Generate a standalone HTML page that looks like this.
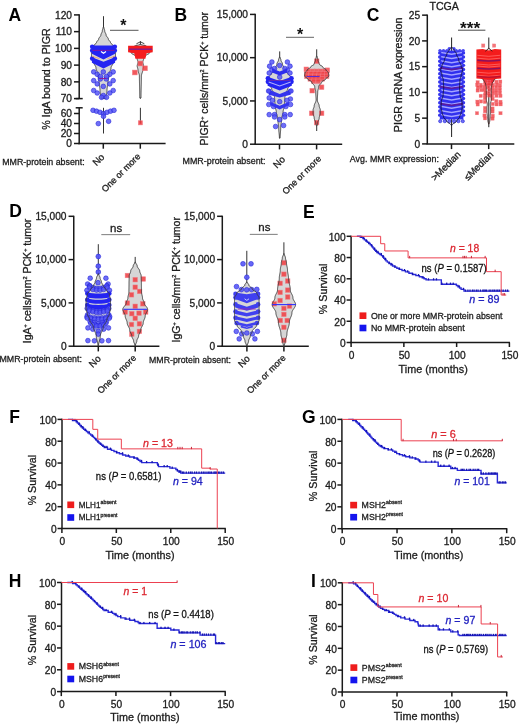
<!DOCTYPE html>
<html><head><meta charset="utf-8"><style>
html,body{margin:0;padding:0;background:#fff;}
svg{display:block;font-family:"Liberation Sans", sans-serif;will-change:transform;}
</style></head><body>
<svg xmlns="http://www.w3.org/2000/svg" width="520" height="725" viewBox="0 0 520 725">
<rect width="520" height="725" fill="#fff"/>
<g transform="translate(0.00 0.25)"><text x="8.60" y="20.80" font-size="17.5" text-anchor="start" font-weight="bold" fill="#000" stroke="#000" stroke-width="0.0">A</text></g>
<line x1="79.20" y1="14.20" x2="79.20" y2="98.60" stroke="#1a1a1a" stroke-width="1.5"/>
<line x1="75.70" y1="98.60" x2="82.70" y2="98.60" stroke="#1a1a1a" stroke-width="1.5"/>
<line x1="74.00" y1="14.90" x2="79.20" y2="14.90" stroke="#1a1a1a" stroke-width="1.5"/>
<text x="72.00" y="18.60" font-size="10.2" text-anchor="end" font-weight="normal" fill="#1c1c1c" stroke="#1c1c1c" stroke-width="0.3">120</text>
<line x1="74.00" y1="31.64" x2="79.20" y2="31.64" stroke="#1a1a1a" stroke-width="1.5"/>
<text x="72.00" y="35.34" font-size="10.2" text-anchor="end" font-weight="normal" fill="#1c1c1c" stroke="#1c1c1c" stroke-width="0.3">110</text>
<line x1="74.00" y1="48.38" x2="79.20" y2="48.38" stroke="#1a1a1a" stroke-width="1.5"/>
<text x="72.00" y="52.08" font-size="10.2" text-anchor="end" font-weight="normal" fill="#1c1c1c" stroke="#1c1c1c" stroke-width="0.3">100</text>
<line x1="74.00" y1="65.12" x2="79.20" y2="65.12" stroke="#1a1a1a" stroke-width="1.5"/>
<text x="72.00" y="68.82" font-size="10.2" text-anchor="end" font-weight="normal" fill="#1c1c1c" stroke="#1c1c1c" stroke-width="0.3">90</text>
<line x1="74.00" y1="81.86" x2="79.20" y2="81.86" stroke="#1a1a1a" stroke-width="1.5"/>
<text x="72.00" y="85.56" font-size="10.2" text-anchor="end" font-weight="normal" fill="#1c1c1c" stroke="#1c1c1c" stroke-width="0.3">80</text>
<line x1="74.00" y1="98.60" x2="79.20" y2="98.60" stroke="#1a1a1a" stroke-width="1.5"/>
<text x="72.00" y="102.30" font-size="10.2" text-anchor="end" font-weight="normal" fill="#1c1c1c" stroke="#1c1c1c" stroke-width="0.3">70</text>
<line x1="79.20" y1="107.80" x2="79.20" y2="144.20" stroke="#1a1a1a" stroke-width="1.5"/>
<line x1="75.70" y1="107.80" x2="82.70" y2="107.80" stroke="#1a1a1a" stroke-width="1.5"/>
<line x1="74.00" y1="113.50" x2="79.20" y2="113.50" stroke="#1a1a1a" stroke-width="1.5"/>
<text x="72.00" y="117.20" font-size="10.2" text-anchor="end" font-weight="normal" fill="#1c1c1c" stroke="#1c1c1c" stroke-width="0.3">60</text>
<line x1="74.00" y1="123.50" x2="79.20" y2="123.50" stroke="#1a1a1a" stroke-width="1.5"/>
<text x="72.00" y="127.20" font-size="10.2" text-anchor="end" font-weight="normal" fill="#1c1c1c" stroke="#1c1c1c" stroke-width="0.3">40</text>
<line x1="74.00" y1="133.50" x2="79.20" y2="133.50" stroke="#1a1a1a" stroke-width="1.5"/>
<text x="72.00" y="137.20" font-size="10.2" text-anchor="end" font-weight="normal" fill="#1c1c1c" stroke="#1c1c1c" stroke-width="0.3">20</text>
<line x1="74.00" y1="143.50" x2="79.20" y2="143.50" stroke="#1a1a1a" stroke-width="1.5"/>
<text x="72.00" y="147.20" font-size="10.2" text-anchor="end" font-weight="normal" fill="#1c1c1c" stroke="#1c1c1c" stroke-width="0.3">0</text>
<line x1="78.45" y1="143.50" x2="165.60" y2="143.50" stroke="#1a1a1a" stroke-width="1.5"/>
<line x1="103.30" y1="143.50" x2="103.30" y2="148.70" stroke="#1a1a1a" stroke-width="1.5"/>
<line x1="140.30" y1="143.50" x2="140.30" y2="148.70" stroke="#1a1a1a" stroke-width="1.5"/>
<g transform="translate(0.35 0.50)"><text x="49.60" y="78.50" font-size="10.9" text-anchor="middle" font-weight="normal" fill="#1c1c1c" stroke="#1c1c1c" stroke-width="0.3" transform="rotate(-90 49.60 78.50)" textLength="101.50" lengthAdjust="spacingAndGlyphs">% IgA bound to PIGR</text></g>
<g transform="translate(0.25 0.35)"><text x="2.00" y="164.20" font-size="9.6" text-anchor="start" font-weight="normal" fill="#1c1c1c" stroke="#1c1c1c" stroke-width="0.3" textLength="82.40" lengthAdjust="spacingAndGlyphs">MMR-protein absent:</text></g>
<g transform="translate(0.10 3.20)"><text x="105.00" y="154.50" font-size="9.6" text-anchor="end" font-weight="normal" fill="#1c1c1c" stroke="#1c1c1c" stroke-width="0.3" transform="rotate(-45 105.00 154.50)">No</text></g>
<g transform="translate(-0.80 2.55)"><text x="141.80" y="154.50" font-size="9.0" text-anchor="end" font-weight="normal" fill="#1c1c1c" stroke="#1c1c1c" stroke-width="0.3" transform="rotate(-45 141.80 154.50)">One or more</text></g>
<line x1="110.00" y1="30.30" x2="138.50" y2="30.30" stroke="#444" stroke-width="0.9"/>
<g transform="translate(-0.15 1.40)"><text x="123.60" y="30.00" font-size="16" text-anchor="middle" font-weight="bold" fill="#111" stroke="#111" stroke-width="0.0">*</text></g>
<line x1="103.50" y1="16.20" x2="103.50" y2="27.50" stroke="#333" stroke-width="1.0"/>
<path d="M103.80,27.00 L103.83,27.50 L103.93,28.00 L104.08,28.50 L104.25,29.00 L104.42,29.50 L104.57,30.00 L104.67,30.50 L104.70,31.00 L104.75,31.50 L104.91,32.00 L105.13,32.50 L105.40,33.00 L105.67,33.50 L105.89,34.00 L106.05,34.50 L106.10,35.00 L106.18,35.50 L106.42,36.00 L106.78,36.50 L107.20,37.00 L107.62,37.50 L107.98,38.00 L108.22,38.50 L108.30,39.00 L108.41,39.50 L108.71,40.00 L109.16,40.50 L109.64,41.00 L110.09,41.50 L110.39,42.00 L110.50,42.50 L110.67,43.00 L111.12,43.50 L111.75,44.00 L112.38,44.50 L112.83,45.00 L113.00,45.50 L113.08,46.00 L113.29,46.50 L113.62,47.00 L114.03,47.50 L114.47,48.00 L114.88,48.50 L115.21,49.00 L115.42,49.50 L115.50,50.00 L115.50,50.50 L115.50,51.00 L115.50,51.50 L115.50,52.00 L115.50,52.50 L115.50,53.00 L115.50,53.50 L115.50,54.00 L115.50,54.50 L115.50,55.00 L115.50,55.50 L115.50,56.00 L115.47,56.50 L115.37,57.00 L115.21,57.50 L115.00,58.00 L114.76,58.50 L114.50,59.00 L114.24,59.50 L114.00,60.00 L113.79,60.50 L113.63,61.00 L113.53,61.50 L113.50,62.00 L113.46,62.50 L113.33,63.00 L113.13,63.50 L112.88,64.00 L112.57,64.50 L112.25,65.00 L111.93,65.50 L111.62,66.00 L111.37,66.50 L111.17,67.00 L111.04,67.50 L111.00,68.00 L110.97,68.50 L110.89,69.00 L110.75,69.50 L110.58,70.00 L110.37,70.50 L110.15,71.00 L109.93,71.50 L109.72,72.00 L109.55,72.50 L109.41,73.00 L109.33,73.50 L109.30,74.00 L109.29,74.50 L109.25,75.00 L109.19,75.50 L109.11,76.00 L109.01,76.50 L108.90,77.00 L108.78,77.50 L108.65,78.00 L108.52,78.50 L108.40,79.00 L108.29,79.50 L108.19,80.00 L108.11,80.50 L108.05,81.00 L108.01,81.50 L108.00,82.00 L107.99,82.50 L107.96,83.00 L107.92,83.50 L107.85,84.00 L107.78,84.50 L107.69,85.00 L107.60,85.50 L107.50,86.00 L107.40,86.50 L107.31,87.00 L107.22,87.50 L107.15,88.00 L107.08,88.50 L107.04,89.00 L107.01,89.50 L107.00,90.00 L106.99,90.51 L106.97,91.01 L106.93,91.52 L106.88,92.02 L106.82,92.53 L106.75,93.04 L106.67,93.54 L106.59,94.05 L106.51,94.55 L106.43,95.06 L106.35,95.56 L106.28,96.07 L106.22,96.58 L106.17,97.08 L106.13,97.59 L106.11,98.09 L106.10,98.60 L100.90,98.60 L100.89,98.09 L100.87,97.59 L100.83,97.08 L100.78,96.58 L100.72,96.07 L100.65,95.56 L100.57,95.06 L100.49,94.55 L100.41,94.05 L100.33,93.54 L100.25,93.04 L100.18,92.53 L100.12,92.02 L100.07,91.52 L100.03,91.01 L100.01,90.51 L100.00,90.00 L99.99,89.50 L99.96,89.00 L99.92,88.50 L99.85,88.00 L99.78,87.50 L99.69,87.00 L99.60,86.50 L99.50,86.00 L99.40,85.50 L99.31,85.00 L99.22,84.50 L99.15,84.00 L99.08,83.50 L99.04,83.00 L99.01,82.50 L99.00,82.00 L98.99,81.50 L98.95,81.00 L98.89,80.50 L98.81,80.00 L98.71,79.50 L98.60,79.00 L98.48,78.50 L98.35,78.00 L98.22,77.50 L98.10,77.00 L97.99,76.50 L97.89,76.00 L97.81,75.50 L97.75,75.00 L97.71,74.50 L97.70,74.00 L97.67,73.50 L97.59,73.00 L97.45,72.50 L97.28,72.00 L97.07,71.50 L96.85,71.00 L96.63,70.50 L96.42,70.00 L96.25,69.50 L96.11,69.00 L96.03,68.50 L96.00,68.00 L95.96,67.50 L95.83,67.00 L95.63,66.50 L95.38,66.00 L95.07,65.50 L94.75,65.00 L94.43,64.50 L94.12,64.00 L93.87,63.50 L93.67,63.00 L93.54,62.50 L93.50,62.00 L93.47,61.50 L93.37,61.00 L93.21,60.50 L93.00,60.00 L92.76,59.50 L92.50,59.00 L92.24,58.50 L92.00,58.00 L91.79,57.50 L91.63,57.00 L91.53,56.50 L91.50,56.00 L91.50,55.50 L91.50,55.00 L91.50,54.50 L91.50,54.00 L91.50,53.50 L91.50,53.00 L91.50,52.50 L91.50,52.00 L91.50,51.50 L91.50,51.00 L91.50,50.50 L91.50,50.00 L91.58,49.50 L91.79,49.00 L92.12,48.50 L92.53,48.00 L92.97,47.50 L93.38,47.00 L93.71,46.50 L93.92,46.00 L94.00,45.50 L94.17,45.00 L94.62,44.50 L95.25,44.00 L95.88,43.50 L96.33,43.00 L96.50,42.50 L96.61,42.00 L96.91,41.50 L97.36,41.00 L97.84,40.50 L98.29,40.00 L98.59,39.50 L98.70,39.00 L98.78,38.50 L99.02,38.00 L99.38,37.50 L99.80,37.00 L100.22,36.50 L100.58,36.00 L100.82,35.50 L100.90,35.00 L100.95,34.50 L101.11,34.00 L101.33,33.50 L101.60,33.00 L101.87,32.50 L102.09,32.00 L102.25,31.50 L102.30,31.00 L102.33,30.50 L102.43,30.00 L102.58,29.50 L102.75,29.00 L102.92,28.50 L103.07,28.00 L103.17,27.50 L103.20,27.00 Z" fill="#d6d6d6" fill-opacity="1.0" stroke="none"/>
<path d="M103.80,27.00 L103.83,27.50 L103.93,28.00 L104.08,28.50 L104.25,29.00 L104.42,29.50 L104.57,30.00 L104.67,30.50 L104.70,31.00 L104.75,31.50 L104.91,32.00 L105.13,32.50 L105.40,33.00 L105.67,33.50 L105.89,34.00 L106.05,34.50 L106.10,35.00 L106.18,35.50 L106.42,36.00 L106.78,36.50 L107.20,37.00 L107.62,37.50 L107.98,38.00 L108.22,38.50 L108.30,39.00 L108.41,39.50 L108.71,40.00 L109.16,40.50 L109.64,41.00 L110.09,41.50 L110.39,42.00 L110.50,42.50 L110.67,43.00 L111.12,43.50 L111.75,44.00 L112.38,44.50 L112.83,45.00 L113.00,45.50 L113.08,46.00 L113.29,46.50 L113.62,47.00 L114.03,47.50 L114.47,48.00 L114.88,48.50 L115.21,49.00 L115.42,49.50 L115.50,50.00 L115.50,50.50 L115.50,51.00 L115.50,51.50 L115.50,52.00 L115.50,52.50 L115.50,53.00 L115.50,53.50 L115.50,54.00 L115.50,54.50 L115.50,55.00 L115.50,55.50 L115.50,56.00 L115.47,56.50 L115.37,57.00 L115.21,57.50 L115.00,58.00 L114.76,58.50 L114.50,59.00 L114.24,59.50 L114.00,60.00 L113.79,60.50 L113.63,61.00 L113.53,61.50 L113.50,62.00 L113.46,62.50 L113.33,63.00 L113.13,63.50 L112.88,64.00 L112.57,64.50 L112.25,65.00 L111.93,65.50 L111.62,66.00 L111.37,66.50 L111.17,67.00 L111.04,67.50 L111.00,68.00 L110.97,68.50 L110.89,69.00 L110.75,69.50 L110.58,70.00 L110.37,70.50 L110.15,71.00 L109.93,71.50 L109.72,72.00 L109.55,72.50 L109.41,73.00 L109.33,73.50 L109.30,74.00 L109.29,74.50 L109.25,75.00 L109.19,75.50 L109.11,76.00 L109.01,76.50 L108.90,77.00 L108.78,77.50 L108.65,78.00 L108.52,78.50 L108.40,79.00 L108.29,79.50 L108.19,80.00 L108.11,80.50 L108.05,81.00 L108.01,81.50 L108.00,82.00 L107.99,82.50 L107.96,83.00 L107.92,83.50 L107.85,84.00 L107.78,84.50 L107.69,85.00 L107.60,85.50 L107.50,86.00 L107.40,86.50 L107.31,87.00 L107.22,87.50 L107.15,88.00 L107.08,88.50 L107.04,89.00 L107.01,89.50 L107.00,90.00 L106.99,90.51 L106.97,91.01 L106.93,91.52 L106.88,92.02 L106.82,92.53 L106.75,93.04 L106.67,93.54 L106.59,94.05 L106.51,94.55 L106.43,95.06 L106.35,95.56 L106.28,96.07 L106.22,96.58 L106.17,97.08 L106.13,97.59 L106.11,98.09 L106.10,98.60 L100.90,98.60 L100.89,98.09 L100.87,97.59 L100.83,97.08 L100.78,96.58 L100.72,96.07 L100.65,95.56 L100.57,95.06 L100.49,94.55 L100.41,94.05 L100.33,93.54 L100.25,93.04 L100.18,92.53 L100.12,92.02 L100.07,91.52 L100.03,91.01 L100.01,90.51 L100.00,90.00 L99.99,89.50 L99.96,89.00 L99.92,88.50 L99.85,88.00 L99.78,87.50 L99.69,87.00 L99.60,86.50 L99.50,86.00 L99.40,85.50 L99.31,85.00 L99.22,84.50 L99.15,84.00 L99.08,83.50 L99.04,83.00 L99.01,82.50 L99.00,82.00 L98.99,81.50 L98.95,81.00 L98.89,80.50 L98.81,80.00 L98.71,79.50 L98.60,79.00 L98.48,78.50 L98.35,78.00 L98.22,77.50 L98.10,77.00 L97.99,76.50 L97.89,76.00 L97.81,75.50 L97.75,75.00 L97.71,74.50 L97.70,74.00 L97.67,73.50 L97.59,73.00 L97.45,72.50 L97.28,72.00 L97.07,71.50 L96.85,71.00 L96.63,70.50 L96.42,70.00 L96.25,69.50 L96.11,69.00 L96.03,68.50 L96.00,68.00 L95.96,67.50 L95.83,67.00 L95.63,66.50 L95.38,66.00 L95.07,65.50 L94.75,65.00 L94.43,64.50 L94.12,64.00 L93.87,63.50 L93.67,63.00 L93.54,62.50 L93.50,62.00 L93.47,61.50 L93.37,61.00 L93.21,60.50 L93.00,60.00 L92.76,59.50 L92.50,59.00 L92.24,58.50 L92.00,58.00 L91.79,57.50 L91.63,57.00 L91.53,56.50 L91.50,56.00 L91.50,55.50 L91.50,55.00 L91.50,54.50 L91.50,54.00 L91.50,53.50 L91.50,53.00 L91.50,52.50 L91.50,52.00 L91.50,51.50 L91.50,51.00 L91.50,50.50 L91.50,50.00 L91.58,49.50 L91.79,49.00 L92.12,48.50 L92.53,48.00 L92.97,47.50 L93.38,47.00 L93.71,46.50 L93.92,46.00 L94.00,45.50 L94.17,45.00 L94.62,44.50 L95.25,44.00 L95.88,43.50 L96.33,43.00 L96.50,42.50 L96.61,42.00 L96.91,41.50 L97.36,41.00 L97.84,40.50 L98.29,40.00 L98.59,39.50 L98.70,39.00 L98.78,38.50 L99.02,38.00 L99.38,37.50 L99.80,37.00 L100.22,36.50 L100.58,36.00 L100.82,35.50 L100.90,35.00 L100.95,34.50 L101.11,34.00 L101.33,33.50 L101.60,33.00 L101.87,32.50 L102.09,32.00 L102.25,31.50 L102.30,31.00 L102.33,30.50 L102.43,30.00 L102.58,29.50 L102.75,29.00 L102.92,28.50 L103.07,28.00 L103.17,27.50 L103.20,27.00 Z" fill="none" stroke="#3a3a3a" stroke-width="0.9"/>
<path d="M91.90,45.40 L103.50,45.40 L115.10,45.40 L115.10,53.70 L103.50,59.50 L91.90,53.70 Z" fill="#2424f2"/>
<circle cx="92.20" cy="46.78" r="2.3" fill="#2424f2"/>
<circle cx="114.80" cy="46.78" r="2.3" fill="#2424f2"/>
<circle cx="92.20" cy="50.46" r="2.3" fill="#2424f2"/>
<circle cx="114.80" cy="50.46" r="2.3" fill="#2424f2"/>
<path d="M91.90,57.20 L103.50,61.70 L115.10,57.20 L115.10,62.80 L103.50,68.60 L91.90,62.80 Z" fill="#2424f2"/>
<circle cx="92.20" cy="58.58" r="2.3" fill="#2424f2"/>
<circle cx="114.80" cy="58.58" r="2.3" fill="#2424f2"/>
<path d="M101.0,51.5 L103.5,53.3 L106.0,51.5" stroke="#fff" stroke-width="1.2" fill="none"/>
<line x1="92.50" y1="50.40" x2="114.50" y2="50.40" stroke="#7a1aa8" stroke-width="1.1"/>
<line x1="92.00" y1="56.30" x2="99.50" y2="58.60" stroke="#f0a070" stroke-width="0.9"/>
<line x1="115.00" y1="56.30" x2="107.50" y2="58.60" stroke="#f0a070" stroke-width="0.9"/>
<circle cx="93.70" cy="71.90" r="2.35" fill="#5656f6" fill-opacity="0.85" stroke="#2020d8" stroke-width="0.7" stroke-opacity="0.8"/>
<circle cx="103.30" cy="71.90" r="2.35" fill="#5656f6" fill-opacity="0.85" stroke="#2020d8" stroke-width="0.7" stroke-opacity="0.8"/>
<circle cx="113.20" cy="71.90" r="2.35" fill="#5656f6" fill-opacity="0.85" stroke="#2020d8" stroke-width="0.7" stroke-opacity="0.8"/>
<circle cx="97.20" cy="74.30" r="2.35" fill="#5656f6" fill-opacity="0.85" stroke="#2020d8" stroke-width="0.7" stroke-opacity="0.8"/>
<circle cx="109.80" cy="74.30" r="2.35" fill="#5656f6" fill-opacity="0.85" stroke="#2020d8" stroke-width="0.7" stroke-opacity="0.8"/>
<circle cx="93.70" cy="80.60" r="2.35" fill="#5656f6" fill-opacity="0.85" stroke="#2020d8" stroke-width="0.7" stroke-opacity="0.8"/>
<circle cx="113.20" cy="80.60" r="2.35" fill="#5656f6" fill-opacity="0.85" stroke="#2020d8" stroke-width="0.7" stroke-opacity="0.8"/>
<circle cx="97.20" cy="83.90" r="2.35" fill="#5656f6" fill-opacity="0.85" stroke="#2020d8" stroke-width="0.7" stroke-opacity="0.8"/>
<circle cx="109.80" cy="83.90" r="2.35" fill="#5656f6" fill-opacity="0.85" stroke="#2020d8" stroke-width="0.7" stroke-opacity="0.8"/>
<circle cx="103.30" cy="86.40" r="2.35" fill="#5656f6" fill-opacity="0.85" stroke="#2020d8" stroke-width="0.7" stroke-opacity="0.8"/>
<circle cx="100.30" cy="79.00" r="2.35" fill="#5656f6" fill-opacity="0.85" stroke="#2020d8" stroke-width="0.7" stroke-opacity="0.8"/>
<circle cx="106.30" cy="79.00" r="2.35" fill="#5656f6" fill-opacity="0.85" stroke="#2020d8" stroke-width="0.7" stroke-opacity="0.8"/>
<circle cx="93.70" cy="90.50" r="2.35" fill="#5656f6" fill-opacity="0.85" stroke="#2020d8" stroke-width="0.7" stroke-opacity="0.8"/>
<circle cx="113.20" cy="90.50" r="2.35" fill="#5656f6" fill-opacity="0.85" stroke="#2020d8" stroke-width="0.7" stroke-opacity="0.8"/>
<circle cx="97.20" cy="93.00" r="2.35" fill="#5656f6" fill-opacity="0.85" stroke="#2020d8" stroke-width="0.7" stroke-opacity="0.8"/>
<circle cx="109.80" cy="93.00" r="2.35" fill="#5656f6" fill-opacity="0.85" stroke="#2020d8" stroke-width="0.7" stroke-opacity="0.8"/>
<circle cx="103.30" cy="95.50" r="2.35" fill="#5656f6" fill-opacity="0.85" stroke="#2020d8" stroke-width="0.7" stroke-opacity="0.8"/>
<circle cx="101.50" cy="97.30" r="2.35" fill="#5656f6" fill-opacity="0.85" stroke="#2020d8" stroke-width="0.7" stroke-opacity="0.8"/>
<circle cx="106.50" cy="97.30" r="2.35" fill="#5656f6" fill-opacity="0.85" stroke="#2020d8" stroke-width="0.7" stroke-opacity="0.8"/>
<circle cx="100.50" cy="76.50" r="2.35" fill="#5656f6" fill-opacity="0.85" stroke="#2020d8" stroke-width="0.7" stroke-opacity="0.8"/>
<circle cx="106.50" cy="76.50" r="2.35" fill="#5656f6" fill-opacity="0.85" stroke="#2020d8" stroke-width="0.7" stroke-opacity="0.8"/>
<line x1="99.50" y1="78.50" x2="106.50" y2="78.50" stroke="#8a1a9a" stroke-width="1.0"/>
<line x1="103.50" y1="107.80" x2="103.50" y2="133.50" stroke="#333" stroke-width="1.0"/>
<circle cx="93.00" cy="110.30" r="2.35" fill="#5656f6" fill-opacity="0.85" stroke="#2020d8" stroke-width="0.7" stroke-opacity="0.8"/>
<circle cx="96.50" cy="111.20" r="2.35" fill="#5656f6" fill-opacity="0.85" stroke="#2020d8" stroke-width="0.7" stroke-opacity="0.8"/>
<circle cx="100.00" cy="112.30" r="2.35" fill="#5656f6" fill-opacity="0.85" stroke="#2020d8" stroke-width="0.7" stroke-opacity="0.8"/>
<circle cx="103.50" cy="113.50" r="2.35" fill="#5656f6" fill-opacity="0.85" stroke="#2020d8" stroke-width="0.7" stroke-opacity="0.8"/>
<circle cx="107.00" cy="112.30" r="2.35" fill="#5656f6" fill-opacity="0.85" stroke="#2020d8" stroke-width="0.7" stroke-opacity="0.8"/>
<circle cx="110.50" cy="111.20" r="2.35" fill="#5656f6" fill-opacity="0.85" stroke="#2020d8" stroke-width="0.7" stroke-opacity="0.8"/>
<circle cx="114.00" cy="110.30" r="2.35" fill="#5656f6" fill-opacity="0.85" stroke="#2020d8" stroke-width="0.7" stroke-opacity="0.8"/>
<circle cx="103.50" cy="116.30" r="2.35" fill="#5656f6" fill-opacity="0.85" stroke="#2020d8" stroke-width="0.7" stroke-opacity="0.8"/>
<circle cx="98.30" cy="123.60" r="2.35" fill="#5656f6" fill-opacity="0.85" stroke="#2020d8" stroke-width="0.7" stroke-opacity="0.8"/>
<circle cx="108.60" cy="121.30" r="2.35" fill="#5656f6" fill-opacity="0.85" stroke="#2020d8" stroke-width="0.7" stroke-opacity="0.8"/>
<line x1="140.40" y1="41.20" x2="140.40" y2="98.60" stroke="#333" stroke-width="1.0"/>
<line x1="140.40" y1="107.80" x2="140.40" y2="123.50" stroke="#333" stroke-width="1.0"/>
<path d="M140.70,44.50 L142.12,45.00 L144.97,45.50 L146.40,46.00 L146.61,46.50 L147.21,47.00 L148.10,47.50 L149.15,48.00 L150.20,48.50 L151.09,49.00 L151.69,49.50 L151.90,50.00 L151.73,50.50 L151.28,51.00 L150.65,51.50 L150.03,52.00 L149.57,52.50 L149.40,53.00 L149.13,53.50 L148.40,54.00 L147.40,54.50 L146.40,55.00 L145.67,55.50 L145.40,56.00 L145.28,56.50 L144.95,57.00 L144.50,57.50 L144.05,58.00 L143.72,58.50 L143.60,59.00 L143.55,59.50 L143.40,60.00 L143.20,60.50 L143.00,61.00 L142.85,61.50 L142.80,62.00 L142.83,62.50 L142.92,63.00 L143.05,63.50 L143.20,64.00 L143.35,64.50 L143.48,65.00 L143.57,65.50 L143.60,66.00 L143.57,66.50 L143.48,67.00 L143.35,67.50 L143.20,68.00 L143.05,68.50 L142.92,69.00 L142.83,69.50 L142.80,70.00 L142.78,70.50 L142.71,71.00 L142.59,71.50 L142.45,72.00 L142.28,72.50 L142.10,73.00 L141.92,73.50 L141.75,74.00 L141.61,74.50 L141.49,75.00 L141.42,75.50 L141.40,76.00 L141.40,76.50 L141.40,77.00 L141.40,77.50 L141.39,78.00 L141.39,78.50 L141.38,79.00 L141.38,79.50 L141.37,80.00 L141.36,80.50 L141.35,81.00 L141.34,81.50 L141.33,82.00 L141.32,82.50 L141.31,83.00 L141.30,83.50 L141.28,84.00 L141.27,84.50 L141.26,85.00 L141.24,85.50 L141.23,86.00 L141.21,86.50 L141.20,87.00 L141.19,87.50 L141.17,88.00 L141.16,88.50 L141.14,89.00 L141.13,89.50 L141.12,90.00 L141.10,90.50 L141.09,91.00 L141.08,91.50 L141.07,92.00 L141.06,92.50 L141.05,93.00 L141.04,93.50 L141.03,94.00 L141.02,94.50 L141.02,95.00 L141.01,95.50 L141.01,96.00 L141.00,96.50 L141.00,97.00 L141.00,97.50 L141.00,98.00 L139.80,98.00 L139.80,97.50 L139.80,97.00 L139.80,96.50 L139.79,96.00 L139.79,95.50 L139.78,95.00 L139.78,94.50 L139.77,94.00 L139.76,93.50 L139.75,93.00 L139.74,92.50 L139.73,92.00 L139.72,91.50 L139.71,91.00 L139.70,90.50 L139.68,90.00 L139.67,89.50 L139.66,89.00 L139.64,88.50 L139.63,88.00 L139.61,87.50 L139.60,87.00 L139.59,86.50 L139.57,86.00 L139.56,85.50 L139.54,85.00 L139.53,84.50 L139.52,84.00 L139.50,83.50 L139.49,83.00 L139.48,82.50 L139.47,82.00 L139.46,81.50 L139.45,81.00 L139.44,80.50 L139.43,80.00 L139.42,79.50 L139.42,79.00 L139.41,78.50 L139.41,78.00 L139.40,77.50 L139.40,77.00 L139.40,76.50 L139.40,76.00 L139.38,75.50 L139.31,75.00 L139.19,74.50 L139.05,74.00 L138.88,73.50 L138.70,73.00 L138.52,72.50 L138.35,72.00 L138.21,71.50 L138.09,71.00 L138.02,70.50 L138.00,70.00 L137.97,69.50 L137.88,69.00 L137.75,68.50 L137.60,68.00 L137.45,67.50 L137.32,67.00 L137.23,66.50 L137.20,66.00 L137.23,65.50 L137.32,65.00 L137.45,64.50 L137.60,64.00 L137.75,63.50 L137.88,63.00 L137.97,62.50 L138.00,62.00 L137.95,61.50 L137.80,61.00 L137.60,60.50 L137.40,60.00 L137.25,59.50 L137.20,59.00 L137.08,58.50 L136.75,58.00 L136.30,57.50 L135.85,57.00 L135.52,56.50 L135.40,56.00 L135.13,55.50 L134.40,55.00 L133.40,54.50 L132.40,54.00 L131.67,53.50 L131.40,53.00 L131.23,52.50 L130.78,52.00 L130.15,51.50 L129.53,51.00 L129.07,50.50 L128.90,50.00 L129.11,49.50 L129.71,49.00 L130.60,48.50 L131.65,48.00 L132.70,47.50 L133.59,47.00 L134.19,46.50 L134.40,46.00 L135.83,45.50 L138.68,45.00 L140.10,44.50 Z" fill="#d6d6d6" fill-opacity="1.0" stroke="none"/>
<path d="M140.70,44.50 L142.12,45.00 L144.97,45.50 L146.40,46.00 L146.61,46.50 L147.21,47.00 L148.10,47.50 L149.15,48.00 L150.20,48.50 L151.09,49.00 L151.69,49.50 L151.90,50.00 L151.73,50.50 L151.28,51.00 L150.65,51.50 L150.03,52.00 L149.57,52.50 L149.40,53.00 L149.13,53.50 L148.40,54.00 L147.40,54.50 L146.40,55.00 L145.67,55.50 L145.40,56.00 L145.28,56.50 L144.95,57.00 L144.50,57.50 L144.05,58.00 L143.72,58.50 L143.60,59.00 L143.55,59.50 L143.40,60.00 L143.20,60.50 L143.00,61.00 L142.85,61.50 L142.80,62.00 L142.83,62.50 L142.92,63.00 L143.05,63.50 L143.20,64.00 L143.35,64.50 L143.48,65.00 L143.57,65.50 L143.60,66.00 L143.57,66.50 L143.48,67.00 L143.35,67.50 L143.20,68.00 L143.05,68.50 L142.92,69.00 L142.83,69.50 L142.80,70.00 L142.78,70.50 L142.71,71.00 L142.59,71.50 L142.45,72.00 L142.28,72.50 L142.10,73.00 L141.92,73.50 L141.75,74.00 L141.61,74.50 L141.49,75.00 L141.42,75.50 L141.40,76.00 L141.40,76.50 L141.40,77.00 L141.40,77.50 L141.39,78.00 L141.39,78.50 L141.38,79.00 L141.38,79.50 L141.37,80.00 L141.36,80.50 L141.35,81.00 L141.34,81.50 L141.33,82.00 L141.32,82.50 L141.31,83.00 L141.30,83.50 L141.28,84.00 L141.27,84.50 L141.26,85.00 L141.24,85.50 L141.23,86.00 L141.21,86.50 L141.20,87.00 L141.19,87.50 L141.17,88.00 L141.16,88.50 L141.14,89.00 L141.13,89.50 L141.12,90.00 L141.10,90.50 L141.09,91.00 L141.08,91.50 L141.07,92.00 L141.06,92.50 L141.05,93.00 L141.04,93.50 L141.03,94.00 L141.02,94.50 L141.02,95.00 L141.01,95.50 L141.01,96.00 L141.00,96.50 L141.00,97.00 L141.00,97.50 L141.00,98.00 L139.80,98.00 L139.80,97.50 L139.80,97.00 L139.80,96.50 L139.79,96.00 L139.79,95.50 L139.78,95.00 L139.78,94.50 L139.77,94.00 L139.76,93.50 L139.75,93.00 L139.74,92.50 L139.73,92.00 L139.72,91.50 L139.71,91.00 L139.70,90.50 L139.68,90.00 L139.67,89.50 L139.66,89.00 L139.64,88.50 L139.63,88.00 L139.61,87.50 L139.60,87.00 L139.59,86.50 L139.57,86.00 L139.56,85.50 L139.54,85.00 L139.53,84.50 L139.52,84.00 L139.50,83.50 L139.49,83.00 L139.48,82.50 L139.47,82.00 L139.46,81.50 L139.45,81.00 L139.44,80.50 L139.43,80.00 L139.42,79.50 L139.42,79.00 L139.41,78.50 L139.41,78.00 L139.40,77.50 L139.40,77.00 L139.40,76.50 L139.40,76.00 L139.38,75.50 L139.31,75.00 L139.19,74.50 L139.05,74.00 L138.88,73.50 L138.70,73.00 L138.52,72.50 L138.35,72.00 L138.21,71.50 L138.09,71.00 L138.02,70.50 L138.00,70.00 L137.97,69.50 L137.88,69.00 L137.75,68.50 L137.60,68.00 L137.45,67.50 L137.32,67.00 L137.23,66.50 L137.20,66.00 L137.23,65.50 L137.32,65.00 L137.45,64.50 L137.60,64.00 L137.75,63.50 L137.88,63.00 L137.97,62.50 L138.00,62.00 L137.95,61.50 L137.80,61.00 L137.60,60.50 L137.40,60.00 L137.25,59.50 L137.20,59.00 L137.08,58.50 L136.75,58.00 L136.30,57.50 L135.85,57.00 L135.52,56.50 L135.40,56.00 L135.13,55.50 L134.40,55.00 L133.40,54.50 L132.40,54.00 L131.67,53.50 L131.40,53.00 L131.23,52.50 L130.78,52.00 L130.15,51.50 L129.53,51.00 L129.07,50.50 L128.90,50.00 L129.11,49.50 L129.71,49.00 L130.60,48.50 L131.65,48.00 L132.70,47.50 L133.59,47.00 L134.19,46.50 L134.40,46.00 L135.83,45.50 L138.68,45.00 L140.10,44.50 Z" fill="none" stroke="#3a3a3a" stroke-width="0.9"/>
<path d="M128.10,45.80 L152.70,45.80 L152.70,52.30 L146.50,53.30 L145.40,58.80 L135.40,58.80 L134.30,53.30 L128.10,52.30 Z" fill="#f41c1c"/>
<line x1="129.00" y1="49.20" x2="152.00" y2="49.20" stroke="#7a1a9a" stroke-width="1.3"/>
<path d="M136.4,43.8 L140.4,41.8 L144.4,43.8" stroke="#333" stroke-width="0.9" fill="none"/>
<rect x="138.00" y="61.10" width="4.8" height="4.8" fill="#f03c40" fill-opacity="0.85" stroke="#f27a86" stroke-width="0.6" stroke-opacity="0.8"/>
<rect x="142.60" y="65.90" width="4.8" height="4.8" fill="#f03c40" fill-opacity="0.85" stroke="#f27a86" stroke-width="0.6" stroke-opacity="0.8"/>
<rect x="132.40" y="70.10" width="4.8" height="4.8" fill="#f03c40" fill-opacity="0.85" stroke="#f27a86" stroke-width="0.6" stroke-opacity="0.8"/>
<rect x="138.30" y="120.70" width="4.2" height="4.2" fill="#f03c40" fill-opacity="0.85" stroke="#f27a86" stroke-width="0.6" stroke-opacity="0.8"/>
<g transform="translate(-0.80 0.15)"><text x="175.20" y="20.80" font-size="17.5" text-anchor="start" font-weight="bold" fill="#000" stroke="#000" stroke-width="0.0">B</text></g>
<line x1="255.20" y1="13.81" x2="255.20" y2="144.20" stroke="#1a1a1a" stroke-width="1.5"/>
<line x1="250.00" y1="14.41" x2="255.20" y2="14.41" stroke="#1a1a1a" stroke-width="1.5"/>
<text x="248.00" y="18.08" font-size="10.2" text-anchor="end" font-weight="normal" fill="#1c1c1c" stroke="#1c1c1c" stroke-width="0.3">15,000</text>
<line x1="250.00" y1="57.67" x2="255.20" y2="57.67" stroke="#1a1a1a" stroke-width="1.5"/>
<text x="248.00" y="61.34" font-size="10.2" text-anchor="end" font-weight="normal" fill="#1c1c1c" stroke="#1c1c1c" stroke-width="0.3">10,000</text>
<line x1="250.00" y1="100.94" x2="255.20" y2="100.94" stroke="#1a1a1a" stroke-width="1.5"/>
<text x="248.00" y="104.61" font-size="10.2" text-anchor="end" font-weight="normal" fill="#1c1c1c" stroke="#1c1c1c" stroke-width="0.3">5,000</text>
<line x1="250.00" y1="144.20" x2="255.20" y2="144.20" stroke="#1a1a1a" stroke-width="1.5"/>
<text x="248.00" y="147.87" font-size="10.2" text-anchor="end" font-weight="normal" fill="#1c1c1c" stroke="#1c1c1c" stroke-width="0.3">0</text>
<line x1="254.45" y1="144.20" x2="342.20" y2="144.20" stroke="#1a1a1a" stroke-width="1.5"/>
<line x1="279.50" y1="144.20" x2="279.50" y2="149.40" stroke="#1a1a1a" stroke-width="1.5"/>
<line x1="316.60" y1="144.20" x2="316.60" y2="149.40" stroke="#1a1a1a" stroke-width="1.5"/>
<g transform="translate(-3.20 0.20)"><text x="211.50" y="78.50" font-size="10.5" text-anchor="middle" font-weight="normal" fill="#1c1c1c" stroke="#1c1c1c" stroke-width="0.3" transform="rotate(-90 211.50 78.50)" textLength="133.60" lengthAdjust="spacingAndGlyphs">PIGR<tspan font-size="5.5" dy="-3.8">+</tspan><tspan dy="3.8"> cells/mm</tspan><tspan font-size="5.5" dy="-3.8">2</tspan><tspan dy="3.8"> PCK</tspan><tspan font-size="5.5" dy="-3.8">+</tspan><tspan dy="3.8"> tumor</tspan></text></g>
<g transform="translate(-0.45 -0.35)"><text x="183.00" y="164.50" font-size="9.6" text-anchor="start" font-weight="normal" fill="#1c1c1c" stroke="#1c1c1c" stroke-width="0.3" textLength="83.00" lengthAdjust="spacingAndGlyphs">MMR-protein absent:</text></g>
<g transform="translate(4.50 4.95)"><text x="281.30" y="155.00" font-size="9.6" text-anchor="end" font-weight="normal" fill="#1c1c1c" stroke="#1c1c1c" stroke-width="0.3" transform="rotate(-45 281.30 155.00)">No</text></g>
<g transform="translate(3.50 4.20)"><text x="318.30" y="155.00" font-size="9.0" text-anchor="end" font-weight="normal" fill="#1c1c1c" stroke="#1c1c1c" stroke-width="0.3" transform="rotate(-45 318.30 155.00)">One or more</text></g>
<line x1="286.00" y1="37.30" x2="314.00" y2="37.30" stroke="#555" stroke-width="0.9"/>
<g transform="translate(0.10 2.70)"><text x="300.00" y="37.00" font-size="16" text-anchor="middle" font-weight="bold" fill="#111" stroke="#111" stroke-width="0.0">*</text></g>
<line x1="279.70" y1="51.40" x2="279.70" y2="138.50" stroke="#333" stroke-width="1.0"/>
<path d="M280.00,57.00 L280.06,57.50 L280.22,58.00 L280.45,58.50 L280.68,59.00 L280.84,59.50 L280.90,60.00 L280.96,60.50 L281.13,61.00 L281.39,61.50 L281.70,62.00 L282.01,62.50 L282.27,63.00 L282.44,63.50 L282.50,64.00 L282.55,64.50 L282.71,65.00 L282.93,65.50 L283.20,66.00 L283.47,66.50 L283.69,67.00 L283.85,67.50 L283.90,68.00 L283.99,68.50 L284.22,69.00 L284.55,69.50 L284.88,70.00 L285.11,70.50 L285.20,71.00 L285.40,71.50 L285.95,72.00 L286.70,72.50 L287.45,73.00 L288.00,73.50 L288.20,74.00 L288.37,74.50 L288.82,75.00 L289.45,75.50 L290.07,76.00 L290.53,76.50 L290.70,77.00 L290.77,77.50 L290.95,78.00 L291.20,78.50 L291.45,79.00 L291.63,79.50 L291.70,80.00 L291.66,80.50 L291.55,81.00 L291.39,81.50 L291.20,82.00 L291.01,82.50 L290.85,83.00 L290.74,83.50 L290.70,84.00 L290.63,84.50 L290.41,85.00 L290.08,85.50 L289.66,86.00 L289.20,86.50 L288.74,87.00 L288.32,87.50 L287.99,88.00 L287.77,88.50 L287.70,89.00 L287.64,89.50 L287.46,90.00 L287.18,90.50 L286.84,91.00 L286.45,91.50 L286.06,92.00 L285.72,92.50 L285.44,93.00 L285.26,93.50 L285.20,94.00 L285.19,94.50 L285.17,95.00 L285.13,95.50 L285.07,96.00 L285.01,96.50 L284.95,97.00 L284.89,97.50 L284.82,98.00 L284.77,98.50 L284.73,99.00 L284.71,99.50 L284.70,100.00 L284.69,100.50 L284.67,101.00 L284.64,101.50 L284.60,102.00 L284.55,102.50 L284.50,103.00 L284.45,103.50 L284.40,104.00 L284.36,104.50 L284.33,105.00 L284.31,105.50 L284.30,106.00 L284.28,106.50 L284.22,107.00 L284.12,107.50 L284.00,108.00 L283.86,108.50 L283.70,109.00 L283.54,109.50 L283.40,110.00 L283.28,110.50 L283.18,111.00 L283.12,111.50 L283.10,112.00 L283.08,112.50 L283.02,113.00 L282.92,113.50 L282.80,114.00 L282.65,114.50 L282.48,115.00 L282.32,115.50 L282.15,116.00 L282.00,116.50 L281.88,117.00 L281.78,117.50 L281.72,118.00 L281.70,118.50 L281.69,119.00 L281.67,119.50 L281.64,120.00 L281.59,120.50 L281.54,121.00 L281.47,121.50 L281.40,122.00 L281.32,122.50 L281.24,123.00 L281.16,123.50 L281.08,124.00 L281.00,124.50 L280.93,125.00 L280.86,125.50 L280.81,126.00 L280.76,126.50 L280.73,127.00 L280.71,127.50 L280.70,128.00 L280.70,128.50 L280.68,129.00 L280.66,129.50 L280.63,130.00 L280.60,130.50 L280.56,131.00 L280.51,131.50 L280.46,132.00 L280.40,132.50 L280.35,133.00 L280.30,133.50 L280.24,134.00 L280.19,134.50 L280.14,135.00 L280.10,135.50 L280.07,136.00 L280.04,136.50 L280.02,137.00 L280.00,137.50 L280.00,138.00 L279.40,138.00 L279.40,137.50 L279.38,137.00 L279.36,136.50 L279.33,136.00 L279.30,135.50 L279.26,135.00 L279.21,134.50 L279.16,134.00 L279.10,133.50 L279.05,133.00 L279.00,132.50 L278.94,132.00 L278.89,131.50 L278.84,131.00 L278.80,130.50 L278.77,130.00 L278.74,129.50 L278.72,129.00 L278.70,128.50 L278.70,128.00 L278.69,127.50 L278.67,127.00 L278.64,126.50 L278.59,126.00 L278.54,125.50 L278.47,125.00 L278.40,124.50 L278.32,124.00 L278.24,123.50 L278.16,123.00 L278.08,122.50 L278.00,122.00 L277.93,121.50 L277.86,121.00 L277.81,120.50 L277.76,120.00 L277.73,119.50 L277.71,119.00 L277.70,118.50 L277.68,118.00 L277.62,117.50 L277.52,117.00 L277.40,116.50 L277.25,116.00 L277.08,115.50 L276.92,115.00 L276.75,114.50 L276.60,114.00 L276.48,113.50 L276.38,113.00 L276.32,112.50 L276.30,112.00 L276.28,111.50 L276.22,111.00 L276.12,110.50 L276.00,110.00 L275.86,109.50 L275.70,109.00 L275.54,108.50 L275.40,108.00 L275.28,107.50 L275.18,107.00 L275.12,106.50 L275.10,106.00 L275.09,105.50 L275.07,105.00 L275.04,104.50 L275.00,104.00 L274.95,103.50 L274.90,103.00 L274.85,102.50 L274.80,102.00 L274.76,101.50 L274.73,101.00 L274.71,100.50 L274.70,100.00 L274.69,99.50 L274.67,99.00 L274.63,98.50 L274.57,98.00 L274.51,97.50 L274.45,97.00 L274.39,96.50 L274.32,96.00 L274.27,95.50 L274.23,95.00 L274.21,94.50 L274.20,94.00 L274.14,93.50 L273.96,93.00 L273.68,92.50 L273.34,92.00 L272.95,91.50 L272.56,91.00 L272.22,90.50 L271.94,90.00 L271.76,89.50 L271.70,89.00 L271.63,88.50 L271.41,88.00 L271.08,87.50 L270.66,87.00 L270.20,86.50 L269.74,86.00 L269.32,85.50 L268.99,85.00 L268.77,84.50 L268.70,84.00 L268.66,83.50 L268.55,83.00 L268.39,82.50 L268.20,82.00 L268.01,81.50 L267.85,81.00 L267.74,80.50 L267.70,80.00 L267.77,79.50 L267.95,79.00 L268.20,78.50 L268.45,78.00 L268.63,77.50 L268.70,77.00 L268.87,76.50 L269.32,76.00 L269.95,75.50 L270.57,75.00 L271.03,74.50 L271.20,74.00 L271.40,73.50 L271.95,73.00 L272.70,72.50 L273.45,72.00 L274.00,71.50 L274.20,71.00 L274.29,70.50 L274.52,70.00 L274.85,69.50 L275.18,69.00 L275.41,68.50 L275.50,68.00 L275.55,67.50 L275.71,67.00 L275.93,66.50 L276.20,66.00 L276.47,65.50 L276.69,65.00 L276.85,64.50 L276.90,64.00 L276.96,63.50 L277.13,63.00 L277.39,62.50 L277.70,62.00 L278.01,61.50 L278.27,61.00 L278.44,60.50 L278.50,60.00 L278.56,59.50 L278.72,59.00 L278.95,58.50 L279.18,58.00 L279.34,57.50 L279.40,57.00 Z" fill="#d6d6d6" fill-opacity="1.0" stroke="none"/>
<path d="M280.00,57.00 L280.06,57.50 L280.22,58.00 L280.45,58.50 L280.68,59.00 L280.84,59.50 L280.90,60.00 L280.96,60.50 L281.13,61.00 L281.39,61.50 L281.70,62.00 L282.01,62.50 L282.27,63.00 L282.44,63.50 L282.50,64.00 L282.55,64.50 L282.71,65.00 L282.93,65.50 L283.20,66.00 L283.47,66.50 L283.69,67.00 L283.85,67.50 L283.90,68.00 L283.99,68.50 L284.22,69.00 L284.55,69.50 L284.88,70.00 L285.11,70.50 L285.20,71.00 L285.40,71.50 L285.95,72.00 L286.70,72.50 L287.45,73.00 L288.00,73.50 L288.20,74.00 L288.37,74.50 L288.82,75.00 L289.45,75.50 L290.07,76.00 L290.53,76.50 L290.70,77.00 L290.77,77.50 L290.95,78.00 L291.20,78.50 L291.45,79.00 L291.63,79.50 L291.70,80.00 L291.66,80.50 L291.55,81.00 L291.39,81.50 L291.20,82.00 L291.01,82.50 L290.85,83.00 L290.74,83.50 L290.70,84.00 L290.63,84.50 L290.41,85.00 L290.08,85.50 L289.66,86.00 L289.20,86.50 L288.74,87.00 L288.32,87.50 L287.99,88.00 L287.77,88.50 L287.70,89.00 L287.64,89.50 L287.46,90.00 L287.18,90.50 L286.84,91.00 L286.45,91.50 L286.06,92.00 L285.72,92.50 L285.44,93.00 L285.26,93.50 L285.20,94.00 L285.19,94.50 L285.17,95.00 L285.13,95.50 L285.07,96.00 L285.01,96.50 L284.95,97.00 L284.89,97.50 L284.82,98.00 L284.77,98.50 L284.73,99.00 L284.71,99.50 L284.70,100.00 L284.69,100.50 L284.67,101.00 L284.64,101.50 L284.60,102.00 L284.55,102.50 L284.50,103.00 L284.45,103.50 L284.40,104.00 L284.36,104.50 L284.33,105.00 L284.31,105.50 L284.30,106.00 L284.28,106.50 L284.22,107.00 L284.12,107.50 L284.00,108.00 L283.86,108.50 L283.70,109.00 L283.54,109.50 L283.40,110.00 L283.28,110.50 L283.18,111.00 L283.12,111.50 L283.10,112.00 L283.08,112.50 L283.02,113.00 L282.92,113.50 L282.80,114.00 L282.65,114.50 L282.48,115.00 L282.32,115.50 L282.15,116.00 L282.00,116.50 L281.88,117.00 L281.78,117.50 L281.72,118.00 L281.70,118.50 L281.69,119.00 L281.67,119.50 L281.64,120.00 L281.59,120.50 L281.54,121.00 L281.47,121.50 L281.40,122.00 L281.32,122.50 L281.24,123.00 L281.16,123.50 L281.08,124.00 L281.00,124.50 L280.93,125.00 L280.86,125.50 L280.81,126.00 L280.76,126.50 L280.73,127.00 L280.71,127.50 L280.70,128.00 L280.70,128.50 L280.68,129.00 L280.66,129.50 L280.63,130.00 L280.60,130.50 L280.56,131.00 L280.51,131.50 L280.46,132.00 L280.40,132.50 L280.35,133.00 L280.30,133.50 L280.24,134.00 L280.19,134.50 L280.14,135.00 L280.10,135.50 L280.07,136.00 L280.04,136.50 L280.02,137.00 L280.00,137.50 L280.00,138.00 L279.40,138.00 L279.40,137.50 L279.38,137.00 L279.36,136.50 L279.33,136.00 L279.30,135.50 L279.26,135.00 L279.21,134.50 L279.16,134.00 L279.10,133.50 L279.05,133.00 L279.00,132.50 L278.94,132.00 L278.89,131.50 L278.84,131.00 L278.80,130.50 L278.77,130.00 L278.74,129.50 L278.72,129.00 L278.70,128.50 L278.70,128.00 L278.69,127.50 L278.67,127.00 L278.64,126.50 L278.59,126.00 L278.54,125.50 L278.47,125.00 L278.40,124.50 L278.32,124.00 L278.24,123.50 L278.16,123.00 L278.08,122.50 L278.00,122.00 L277.93,121.50 L277.86,121.00 L277.81,120.50 L277.76,120.00 L277.73,119.50 L277.71,119.00 L277.70,118.50 L277.68,118.00 L277.62,117.50 L277.52,117.00 L277.40,116.50 L277.25,116.00 L277.08,115.50 L276.92,115.00 L276.75,114.50 L276.60,114.00 L276.48,113.50 L276.38,113.00 L276.32,112.50 L276.30,112.00 L276.28,111.50 L276.22,111.00 L276.12,110.50 L276.00,110.00 L275.86,109.50 L275.70,109.00 L275.54,108.50 L275.40,108.00 L275.28,107.50 L275.18,107.00 L275.12,106.50 L275.10,106.00 L275.09,105.50 L275.07,105.00 L275.04,104.50 L275.00,104.00 L274.95,103.50 L274.90,103.00 L274.85,102.50 L274.80,102.00 L274.76,101.50 L274.73,101.00 L274.71,100.50 L274.70,100.00 L274.69,99.50 L274.67,99.00 L274.63,98.50 L274.57,98.00 L274.51,97.50 L274.45,97.00 L274.39,96.50 L274.32,96.00 L274.27,95.50 L274.23,95.00 L274.21,94.50 L274.20,94.00 L274.14,93.50 L273.96,93.00 L273.68,92.50 L273.34,92.00 L272.95,91.50 L272.56,91.00 L272.22,90.50 L271.94,90.00 L271.76,89.50 L271.70,89.00 L271.63,88.50 L271.41,88.00 L271.08,87.50 L270.66,87.00 L270.20,86.50 L269.74,86.00 L269.32,85.50 L268.99,85.00 L268.77,84.50 L268.70,84.00 L268.66,83.50 L268.55,83.00 L268.39,82.50 L268.20,82.00 L268.01,81.50 L267.85,81.00 L267.74,80.50 L267.70,80.00 L267.77,79.50 L267.95,79.00 L268.20,78.50 L268.45,78.00 L268.63,77.50 L268.70,77.00 L268.87,76.50 L269.32,76.00 L269.95,75.50 L270.57,75.00 L271.03,74.50 L271.20,74.00 L271.40,73.50 L271.95,73.00 L272.70,72.50 L273.45,72.00 L274.00,71.50 L274.20,71.00 L274.29,70.50 L274.52,70.00 L274.85,69.50 L275.18,69.00 L275.41,68.50 L275.50,68.00 L275.55,67.50 L275.71,67.00 L275.93,66.50 L276.20,66.00 L276.47,65.50 L276.69,65.00 L276.85,64.50 L276.90,64.00 L276.96,63.50 L277.13,63.00 L277.39,62.50 L277.70,62.00 L278.01,61.50 L278.27,61.00 L278.44,60.50 L278.50,60.00 L278.56,59.50 L278.72,59.00 L278.95,58.50 L279.18,58.00 L279.34,57.50 L279.40,57.00 Z" fill="none" stroke="#3a3a3a" stroke-width="0.9"/>
<circle cx="271.90" cy="62.00" r="2.35" fill="#5656f6" fill-opacity="0.85" stroke="#2020d8" stroke-width="0.7" stroke-opacity="0.8"/>
<circle cx="287.40" cy="62.00" r="2.35" fill="#5656f6" fill-opacity="0.85" stroke="#2020d8" stroke-width="0.7" stroke-opacity="0.8"/>
<circle cx="279.70" cy="65.50" r="2.35" fill="#5656f6" fill-opacity="0.85" stroke="#2020d8" stroke-width="0.7" stroke-opacity="0.8"/>
<circle cx="269.60" cy="66.20" r="2.35" fill="#5656f6" fill-opacity="0.85" stroke="#2020d8" stroke-width="0.7" stroke-opacity="0.8"/>
<circle cx="290.00" cy="66.20" r="2.35" fill="#5656f6" fill-opacity="0.85" stroke="#2020d8" stroke-width="0.7" stroke-opacity="0.8"/>
<circle cx="271.90" cy="70.00" r="2.35" fill="#5656f6" fill-opacity="0.85" stroke="#2020d8" stroke-width="0.7" stroke-opacity="0.8"/>
<circle cx="287.40" cy="70.00" r="2.35" fill="#5656f6" fill-opacity="0.85" stroke="#2020d8" stroke-width="0.7" stroke-opacity="0.8"/>
<circle cx="269.20" cy="73.00" r="2.35" fill="#5656f6" fill-opacity="0.85" stroke="#2020d8" stroke-width="0.7" stroke-opacity="0.8"/>
<circle cx="290.00" cy="73.00" r="2.35" fill="#5656f6" fill-opacity="0.85" stroke="#2020d8" stroke-width="0.7" stroke-opacity="0.8"/>
<circle cx="279.70" cy="77.10" r="2.35" fill="#5656f6" fill-opacity="0.85" stroke="#2020d8" stroke-width="0.7" stroke-opacity="0.8"/>
<circle cx="274.50" cy="68.50" r="2.35" fill="#5656f6" fill-opacity="0.85" stroke="#2020d8" stroke-width="0.7" stroke-opacity="0.8"/>
<circle cx="284.90" cy="68.50" r="2.35" fill="#5656f6" fill-opacity="0.85" stroke="#2020d8" stroke-width="0.7" stroke-opacity="0.8"/>
<path d="M272.20,68.60 L279.70,71.60 L287.20,68.60 L287.20,72.40 L279.70,75.60 L272.20,72.40 Z" fill="#2c2cee"/>
<path d="M267.60,76.80 L279.70,80.90 L291.80,76.80 L291.80,85.80 L279.70,90.60 L267.60,85.80 Z" fill="#2424f2"/>
<circle cx="267.90" cy="78.18" r="2.3" fill="#2424f2"/>
<circle cx="291.50" cy="78.18" r="2.3" fill="#2424f2"/>
<circle cx="267.90" cy="81.86" r="2.3" fill="#2424f2"/>
<circle cx="291.50" cy="81.86" r="2.3" fill="#2424f2"/>
<path d="M268.7,82.0 L279.7,86.0 L290.7,82.0" stroke="#b0b0ff" stroke-width="1.1" fill="none"/>
<path d="M268.70,89.60 L279.70,94.00 L290.70,89.60 L290.70,94.80 L279.70,97.50 L268.70,94.80 Z" fill="#3434ee"/>
<circle cx="269.00" cy="90.98" r="2.3" fill="#3434ee"/>
<circle cx="290.40" cy="90.98" r="2.3" fill="#3434ee"/>
<circle cx="268.60" cy="91.00" r="2.35" fill="#5656f6" fill-opacity="0.85" stroke="#2020d8" stroke-width="0.7" stroke-opacity="0.8"/>
<circle cx="291.00" cy="91.00" r="2.35" fill="#5656f6" fill-opacity="0.85" stroke="#2020d8" stroke-width="0.7" stroke-opacity="0.8"/>
<circle cx="269.20" cy="97.90" r="2.35" fill="#5656f6" fill-opacity="0.85" stroke="#2020d8" stroke-width="0.7" stroke-opacity="0.8"/>
<circle cx="290.40" cy="99.00" r="2.35" fill="#5656f6" fill-opacity="0.85" stroke="#2020d8" stroke-width="0.7" stroke-opacity="0.8"/>
<circle cx="279.70" cy="101.70" r="2.35" fill="#5656f6" fill-opacity="0.85" stroke="#2020d8" stroke-width="0.7" stroke-opacity="0.8"/>
<circle cx="268.80" cy="104.50" r="2.35" fill="#5656f6" fill-opacity="0.85" stroke="#2020d8" stroke-width="0.7" stroke-opacity="0.8"/>
<circle cx="290.50" cy="104.50" r="2.35" fill="#5656f6" fill-opacity="0.85" stroke="#2020d8" stroke-width="0.7" stroke-opacity="0.8"/>
<circle cx="272.40" cy="100.30" r="2.35" fill="#5656f6" fill-opacity="0.85" stroke="#2020d8" stroke-width="0.7" stroke-opacity="0.8"/>
<circle cx="287.00" cy="100.30" r="2.35" fill="#5656f6" fill-opacity="0.85" stroke="#2020d8" stroke-width="0.7" stroke-opacity="0.8"/>
<circle cx="269.20" cy="114.60" r="2.35" fill="#5656f6" fill-opacity="0.85" stroke="#2020d8" stroke-width="0.7" stroke-opacity="0.8"/>
<circle cx="274.50" cy="114.60" r="2.35" fill="#5656f6" fill-opacity="0.85" stroke="#2020d8" stroke-width="0.7" stroke-opacity="0.8"/>
<circle cx="284.80" cy="114.60" r="2.35" fill="#5656f6" fill-opacity="0.85" stroke="#2020d8" stroke-width="0.7" stroke-opacity="0.8"/>
<circle cx="290.20" cy="114.60" r="2.35" fill="#5656f6" fill-opacity="0.85" stroke="#2020d8" stroke-width="0.7" stroke-opacity="0.8"/>
<circle cx="274.50" cy="117.00" r="2.35" fill="#5656f6" fill-opacity="0.85" stroke="#2020d8" stroke-width="0.7" stroke-opacity="0.8"/>
<circle cx="284.80" cy="117.00" r="2.35" fill="#5656f6" fill-opacity="0.85" stroke="#2020d8" stroke-width="0.7" stroke-opacity="0.8"/>
<circle cx="279.70" cy="119.60" r="2.35" fill="#5656f6" fill-opacity="0.85" stroke="#2020d8" stroke-width="0.7" stroke-opacity="0.8"/>
<circle cx="275.60" cy="126.50" r="2.35" fill="#5656f6" fill-opacity="0.85" stroke="#2020d8" stroke-width="0.7" stroke-opacity="0.8"/>
<circle cx="283.60" cy="125.50" r="2.35" fill="#5656f6" fill-opacity="0.85" stroke="#2020d8" stroke-width="0.7" stroke-opacity="0.8"/>
<circle cx="273.50" cy="106.50" r="2.35" fill="#5656f6" fill-opacity="0.85" stroke="#2020d8" stroke-width="0.7" stroke-opacity="0.8"/>
<circle cx="285.90" cy="106.50" r="2.35" fill="#5656f6" fill-opacity="0.85" stroke="#2020d8" stroke-width="0.7" stroke-opacity="0.8"/>
<path d="M270.20,101.80 L279.70,105.80 L289.20,101.80 L289.20,105.00 L279.70,109.60 L270.20,105.00 Z" fill="#3434ee"/>
<line x1="268.50" y1="80.50" x2="290.50" y2="80.50" stroke="#6a2ab0" stroke-width="0.9"/>
<line x1="316.70" y1="49.30" x2="316.70" y2="131.00" stroke="#333" stroke-width="1.0"/>
<path d="M317.00,56.00 L317.03,56.50 L317.13,57.00 L317.28,57.50 L317.45,58.00 L317.62,58.50 L317.77,59.00 L317.87,59.50 L317.90,60.00 L317.95,60.50 L318.09,61.00 L318.30,61.50 L318.55,62.00 L318.80,62.50 L319.01,63.00 L319.15,63.50 L319.20,64.00 L319.43,64.50 L320.07,65.00 L320.95,65.50 L321.82,66.00 L322.47,66.50 L322.70,67.00 L322.93,67.50 L323.57,68.00 L324.45,68.50 L325.32,69.00 L325.97,69.50 L326.20,70.00 L326.35,70.50 L326.77,71.00 L327.35,71.50 L327.93,72.00 L328.35,72.50 L328.50,73.00 L328.52,73.50 L328.57,74.00 L328.65,74.50 L328.72,75.00 L328.78,75.50 L328.80,76.00 L328.59,76.50 L328.02,77.00 L327.25,77.50 L326.47,78.00 L325.91,78.50 L325.70,79.00 L325.43,79.50 L324.70,80.00 L323.70,80.50 L322.70,81.00 L321.97,81.50 L321.70,82.00 L321.61,82.51 L321.35,83.02 L320.95,83.53 L320.46,84.04 L319.94,84.56 L319.45,85.07 L319.05,85.58 L318.79,86.09 L318.70,86.60 L318.68,87.14 L318.60,87.68 L318.49,88.22 L318.35,88.76 L318.20,89.30 L318.05,89.84 L317.91,90.38 L317.80,90.92 L317.72,91.46 L317.70,92.00 L317.70,92.50 L317.68,93.00 L317.67,93.50 L317.64,94.00 L317.61,94.50 L317.58,95.00 L317.54,95.50 L317.50,96.00 L317.46,96.50 L317.42,97.00 L317.39,97.50 L317.36,98.00 L317.33,98.50 L317.32,99.00 L317.30,99.50 L317.30,100.00 L317.33,100.50 L317.43,101.00 L317.58,101.50 L317.77,102.00 L318.00,102.50 L318.25,103.00 L318.50,103.50 L318.72,104.00 L318.92,104.50 L319.07,105.00 L319.17,105.50 L319.20,106.00 L319.24,106.50 L319.36,107.00 L319.54,107.50 L319.75,108.00 L319.96,108.50 L320.14,109.00 L320.26,109.50 L320.30,110.00 L320.30,110.55 L320.30,111.10 L320.30,111.65 L320.30,112.20 L320.30,112.75 L320.30,113.30 L320.27,113.82 L320.17,114.34 L320.02,114.87 L319.85,115.39 L319.65,115.91 L319.47,116.43 L319.33,116.96 L319.23,117.48 L319.20,118.00 L319.16,118.50 L319.06,119.00 L318.89,119.50 L318.68,120.00 L318.45,120.50 L318.22,121.00 L318.01,121.50 L317.84,122.00 L317.74,122.50 L317.70,123.00 L317.65,123.50 L317.52,124.00 L317.35,124.50 L317.18,125.00 L317.05,125.50 L317.00,126.00 L316.40,126.00 L316.35,125.50 L316.22,125.00 L316.05,124.50 L315.88,124.00 L315.75,123.50 L315.70,123.00 L315.66,122.50 L315.56,122.00 L315.39,121.50 L315.18,121.00 L314.95,120.50 L314.72,120.00 L314.51,119.50 L314.34,119.00 L314.24,118.50 L314.20,118.00 L314.17,117.48 L314.07,116.96 L313.93,116.43 L313.75,115.91 L313.55,115.39 L313.38,114.87 L313.23,114.34 L313.13,113.82 L313.10,113.30 L313.10,112.75 L313.10,112.20 L313.10,111.65 L313.10,111.10 L313.10,110.55 L313.10,110.00 L313.14,109.50 L313.26,109.00 L313.44,108.50 L313.65,108.00 L313.86,107.50 L314.04,107.00 L314.16,106.50 L314.20,106.00 L314.23,105.50 L314.33,105.00 L314.48,104.50 L314.68,104.00 L314.90,103.50 L315.15,103.00 L315.40,102.50 L315.62,102.00 L315.82,101.50 L315.97,101.00 L316.07,100.50 L316.10,100.00 L316.10,99.50 L316.08,99.00 L316.07,98.50 L316.04,98.00 L316.01,97.50 L315.98,97.00 L315.94,96.50 L315.90,96.00 L315.86,95.50 L315.82,95.00 L315.79,94.50 L315.76,94.00 L315.73,93.50 L315.72,93.00 L315.70,92.50 L315.70,92.00 L315.68,91.46 L315.60,90.92 L315.49,90.38 L315.35,89.84 L315.20,89.30 L315.05,88.76 L314.91,88.22 L314.80,87.68 L314.72,87.14 L314.70,86.60 L314.61,86.09 L314.35,85.58 L313.95,85.07 L313.46,84.56 L312.94,84.04 L312.45,83.53 L312.05,83.02 L311.79,82.51 L311.70,82.00 L311.43,81.50 L310.70,81.00 L309.70,80.50 L308.70,80.00 L307.97,79.50 L307.70,79.00 L307.49,78.50 L306.93,78.00 L306.15,77.50 L305.38,77.00 L304.81,76.50 L304.60,76.00 L304.62,75.50 L304.68,75.00 L304.75,74.50 L304.82,74.00 L304.88,73.50 L304.90,73.00 L305.05,72.50 L305.47,72.00 L306.05,71.50 L306.62,71.00 L307.05,70.50 L307.20,70.00 L307.43,69.50 L308.07,69.00 L308.95,68.50 L309.82,68.00 L310.47,67.50 L310.70,67.00 L310.93,66.50 L311.57,66.00 L312.45,65.50 L313.32,65.00 L313.97,64.50 L314.20,64.00 L314.25,63.50 L314.39,63.00 L314.60,62.50 L314.85,62.00 L315.10,61.50 L315.31,61.00 L315.45,60.50 L315.50,60.00 L315.53,59.50 L315.63,59.00 L315.78,58.50 L315.95,58.00 L316.12,57.50 L316.27,57.00 L316.37,56.50 L316.40,56.00 Z" fill="#d6d6d6" fill-opacity="1.0" stroke="none"/>
<rect x="314.40" y="58.90" width="4.6" height="4.6" fill="#f03c40" fill-opacity="0.85" stroke="#f27a86" stroke-width="0.6" stroke-opacity="0.8"/>
<rect x="304.00" y="67.00" width="4.6" height="4.6" fill="#f03c40" fill-opacity="0.8" stroke="#f27a86" stroke-width="0.6" stroke-opacity="0.8"/>
<rect x="325.00" y="67.90" width="4.6" height="4.6" fill="#f03c40" fill-opacity="0.8" stroke="#f27a86" stroke-width="0.6" stroke-opacity="0.8"/>
<rect x="306.50" y="69.00" width="4.4" height="4.4" fill="#f03c40" fill-opacity="0.75" stroke="#f27a86" stroke-width="0.6" stroke-opacity="0.8"/>
<rect x="310.50" y="69.00" width="4.4" height="4.4" fill="#f03c40" fill-opacity="0.75" stroke="#f27a86" stroke-width="0.6" stroke-opacity="0.8"/>
<rect x="314.50" y="69.00" width="4.4" height="4.4" fill="#f03c40" fill-opacity="0.75" stroke="#f27a86" stroke-width="0.6" stroke-opacity="0.8"/>
<rect x="318.50" y="69.00" width="4.4" height="4.4" fill="#f03c40" fill-opacity="0.75" stroke="#f27a86" stroke-width="0.6" stroke-opacity="0.8"/>
<rect x="322.50" y="69.00" width="4.4" height="4.4" fill="#f03c40" fill-opacity="0.75" stroke="#f27a86" stroke-width="0.6" stroke-opacity="0.8"/>
<rect x="304.50" y="71.60" width="4.4" height="4.4" fill="#f03c40" fill-opacity="0.75" stroke="#f27a86" stroke-width="0.6" stroke-opacity="0.8"/>
<rect x="309.00" y="71.60" width="4.4" height="4.4" fill="#f03c40" fill-opacity="0.75" stroke="#f27a86" stroke-width="0.6" stroke-opacity="0.8"/>
<rect x="313.00" y="71.60" width="4.4" height="4.4" fill="#f03c40" fill-opacity="0.75" stroke="#f27a86" stroke-width="0.6" stroke-opacity="0.8"/>
<rect x="317.00" y="71.60" width="4.4" height="4.4" fill="#f03c40" fill-opacity="0.75" stroke="#f27a86" stroke-width="0.6" stroke-opacity="0.8"/>
<rect x="321.00" y="71.60" width="4.4" height="4.4" fill="#f03c40" fill-opacity="0.75" stroke="#f27a86" stroke-width="0.6" stroke-opacity="0.8"/>
<rect x="324.50" y="71.60" width="4.4" height="4.4" fill="#f03c40" fill-opacity="0.75" stroke="#f27a86" stroke-width="0.6" stroke-opacity="0.8"/>
<rect x="304.50" y="74.20" width="4.4" height="4.4" fill="#f03c40" fill-opacity="0.75" stroke="#f27a86" stroke-width="0.6" stroke-opacity="0.8"/>
<rect x="308.50" y="74.20" width="4.4" height="4.4" fill="#f03c40" fill-opacity="0.75" stroke="#f27a86" stroke-width="0.6" stroke-opacity="0.8"/>
<rect x="312.50" y="74.20" width="4.4" height="4.4" fill="#f03c40" fill-opacity="0.75" stroke="#f27a86" stroke-width="0.6" stroke-opacity="0.8"/>
<rect x="316.50" y="74.20" width="4.4" height="4.4" fill="#f03c40" fill-opacity="0.75" stroke="#f27a86" stroke-width="0.6" stroke-opacity="0.8"/>
<rect x="320.50" y="74.20" width="4.4" height="4.4" fill="#f03c40" fill-opacity="0.75" stroke="#f27a86" stroke-width="0.6" stroke-opacity="0.8"/>
<rect x="324.50" y="74.20" width="4.4" height="4.4" fill="#f03c40" fill-opacity="0.75" stroke="#f27a86" stroke-width="0.6" stroke-opacity="0.8"/>
<rect x="308.00" y="76.80" width="4.4" height="4.4" fill="#f03c40" fill-opacity="0.75" stroke="#f27a86" stroke-width="0.6" stroke-opacity="0.8"/>
<rect x="312.00" y="76.80" width="4.4" height="4.4" fill="#f03c40" fill-opacity="0.75" stroke="#f27a86" stroke-width="0.6" stroke-opacity="0.8"/>
<rect x="316.00" y="76.80" width="4.4" height="4.4" fill="#f03c40" fill-opacity="0.75" stroke="#f27a86" stroke-width="0.6" stroke-opacity="0.8"/>
<rect x="320.00" y="76.80" width="4.4" height="4.4" fill="#f03c40" fill-opacity="0.75" stroke="#f27a86" stroke-width="0.6" stroke-opacity="0.8"/>
<rect x="311.50" y="79.10" width="4.4" height="4.4" fill="#f03c40" fill-opacity="0.75" stroke="#f27a86" stroke-width="0.6" stroke-opacity="0.8"/>
<rect x="316.00" y="79.10" width="4.4" height="4.4" fill="#f03c40" fill-opacity="0.75" stroke="#f27a86" stroke-width="0.6" stroke-opacity="0.8"/>
<rect x="319.30" y="84.90" width="4.6" height="4.6" fill="#f03c40" fill-opacity="0.85" stroke="#f27a86" stroke-width="0.6" stroke-opacity="0.8"/>
<rect x="309.90" y="88.40" width="4.6" height="4.6" fill="#f03c40" fill-opacity="0.85" stroke="#f27a86" stroke-width="0.6" stroke-opacity="0.8"/>
<rect x="309.40" y="111.00" width="4.6" height="4.6" fill="#f03c40" fill-opacity="0.85" stroke="#f27a86" stroke-width="0.6" stroke-opacity="0.8"/>
<rect x="319.30" y="111.00" width="4.6" height="4.6" fill="#f03c40" fill-opacity="0.85" stroke="#f27a86" stroke-width="0.6" stroke-opacity="0.8"/>
<rect x="314.30" y="120.30" width="4.6" height="4.6" fill="#f03c40" fill-opacity="0.85" stroke="#f27a86" stroke-width="0.6" stroke-opacity="0.8"/>
<path d="M317.00,56.00 L317.03,56.50 L317.13,57.00 L317.28,57.50 L317.45,58.00 L317.62,58.50 L317.77,59.00 L317.87,59.50 L317.90,60.00 L317.95,60.50 L318.09,61.00 L318.30,61.50 L318.55,62.00 L318.80,62.50 L319.01,63.00 L319.15,63.50 L319.20,64.00 L319.43,64.50 L320.07,65.00 L320.95,65.50 L321.82,66.00 L322.47,66.50 L322.70,67.00 L322.93,67.50 L323.57,68.00 L324.45,68.50 L325.32,69.00 L325.97,69.50 L326.20,70.00 L326.35,70.50 L326.77,71.00 L327.35,71.50 L327.93,72.00 L328.35,72.50 L328.50,73.00 L328.52,73.50 L328.57,74.00 L328.65,74.50 L328.72,75.00 L328.78,75.50 L328.80,76.00 L328.59,76.50 L328.02,77.00 L327.25,77.50 L326.47,78.00 L325.91,78.50 L325.70,79.00 L325.43,79.50 L324.70,80.00 L323.70,80.50 L322.70,81.00 L321.97,81.50 L321.70,82.00 L321.61,82.51 L321.35,83.02 L320.95,83.53 L320.46,84.04 L319.94,84.56 L319.45,85.07 L319.05,85.58 L318.79,86.09 L318.70,86.60 L318.68,87.14 L318.60,87.68 L318.49,88.22 L318.35,88.76 L318.20,89.30 L318.05,89.84 L317.91,90.38 L317.80,90.92 L317.72,91.46 L317.70,92.00 L317.70,92.50 L317.68,93.00 L317.67,93.50 L317.64,94.00 L317.61,94.50 L317.58,95.00 L317.54,95.50 L317.50,96.00 L317.46,96.50 L317.42,97.00 L317.39,97.50 L317.36,98.00 L317.33,98.50 L317.32,99.00 L317.30,99.50 L317.30,100.00 L317.33,100.50 L317.43,101.00 L317.58,101.50 L317.77,102.00 L318.00,102.50 L318.25,103.00 L318.50,103.50 L318.72,104.00 L318.92,104.50 L319.07,105.00 L319.17,105.50 L319.20,106.00 L319.24,106.50 L319.36,107.00 L319.54,107.50 L319.75,108.00 L319.96,108.50 L320.14,109.00 L320.26,109.50 L320.30,110.00 L320.30,110.55 L320.30,111.10 L320.30,111.65 L320.30,112.20 L320.30,112.75 L320.30,113.30 L320.27,113.82 L320.17,114.34 L320.02,114.87 L319.85,115.39 L319.65,115.91 L319.47,116.43 L319.33,116.96 L319.23,117.48 L319.20,118.00 L319.16,118.50 L319.06,119.00 L318.89,119.50 L318.68,120.00 L318.45,120.50 L318.22,121.00 L318.01,121.50 L317.84,122.00 L317.74,122.50 L317.70,123.00 L317.65,123.50 L317.52,124.00 L317.35,124.50 L317.18,125.00 L317.05,125.50 L317.00,126.00 L316.40,126.00 L316.35,125.50 L316.22,125.00 L316.05,124.50 L315.88,124.00 L315.75,123.50 L315.70,123.00 L315.66,122.50 L315.56,122.00 L315.39,121.50 L315.18,121.00 L314.95,120.50 L314.72,120.00 L314.51,119.50 L314.34,119.00 L314.24,118.50 L314.20,118.00 L314.17,117.48 L314.07,116.96 L313.93,116.43 L313.75,115.91 L313.55,115.39 L313.38,114.87 L313.23,114.34 L313.13,113.82 L313.10,113.30 L313.10,112.75 L313.10,112.20 L313.10,111.65 L313.10,111.10 L313.10,110.55 L313.10,110.00 L313.14,109.50 L313.26,109.00 L313.44,108.50 L313.65,108.00 L313.86,107.50 L314.04,107.00 L314.16,106.50 L314.20,106.00 L314.23,105.50 L314.33,105.00 L314.48,104.50 L314.68,104.00 L314.90,103.50 L315.15,103.00 L315.40,102.50 L315.62,102.00 L315.82,101.50 L315.97,101.00 L316.07,100.50 L316.10,100.00 L316.10,99.50 L316.08,99.00 L316.07,98.50 L316.04,98.00 L316.01,97.50 L315.98,97.00 L315.94,96.50 L315.90,96.00 L315.86,95.50 L315.82,95.00 L315.79,94.50 L315.76,94.00 L315.73,93.50 L315.72,93.00 L315.70,92.50 L315.70,92.00 L315.68,91.46 L315.60,90.92 L315.49,90.38 L315.35,89.84 L315.20,89.30 L315.05,88.76 L314.91,88.22 L314.80,87.68 L314.72,87.14 L314.70,86.60 L314.61,86.09 L314.35,85.58 L313.95,85.07 L313.46,84.56 L312.94,84.04 L312.45,83.53 L312.05,83.02 L311.79,82.51 L311.70,82.00 L311.43,81.50 L310.70,81.00 L309.70,80.50 L308.70,80.00 L307.97,79.50 L307.70,79.00 L307.49,78.50 L306.93,78.00 L306.15,77.50 L305.38,77.00 L304.81,76.50 L304.60,76.00 L304.62,75.50 L304.68,75.00 L304.75,74.50 L304.82,74.00 L304.88,73.50 L304.90,73.00 L305.05,72.50 L305.47,72.00 L306.05,71.50 L306.62,71.00 L307.05,70.50 L307.20,70.00 L307.43,69.50 L308.07,69.00 L308.95,68.50 L309.82,68.00 L310.47,67.50 L310.70,67.00 L310.93,66.50 L311.57,66.00 L312.45,65.50 L313.32,65.00 L313.97,64.50 L314.20,64.00 L314.25,63.50 L314.39,63.00 L314.60,62.50 L314.85,62.00 L315.10,61.50 L315.31,61.00 L315.45,60.50 L315.50,60.00 L315.53,59.50 L315.63,59.00 L315.78,58.50 L315.95,58.00 L316.12,57.50 L316.27,57.00 L316.37,56.50 L316.40,56.00 Z" fill="none" stroke="#3a3a3a" stroke-width="0.9"/>
<line x1="306.50" y1="76.50" x2="319.60" y2="76.50" stroke="#5a2ad0" stroke-width="1.1"/>
<g transform="translate(0.20 0.28)"><text x="366.60" y="20.80" font-size="17.5" text-anchor="start" font-weight="bold" fill="#000" stroke="#000" stroke-width="0.0">C</text></g>
<g transform="translate(-0.20 0.55)"><text x="429.70" y="9.30" font-size="10.6" text-anchor="start" font-weight="normal" fill="#1c1c1c" stroke="#1c1c1c" stroke-width="0.3">TCGA</text></g>
<line x1="427.30" y1="14.55" x2="427.30" y2="143.90" stroke="#1a1a1a" stroke-width="1.5"/>
<line x1="422.10" y1="15.15" x2="427.30" y2="15.15" stroke="#1a1a1a" stroke-width="1.5"/>
<text x="420.10" y="18.82" font-size="10.2" text-anchor="end" font-weight="normal" fill="#1c1c1c" stroke="#1c1c1c" stroke-width="0.3">25</text>
<line x1="422.10" y1="40.90" x2="427.30" y2="40.90" stroke="#1a1a1a" stroke-width="1.5"/>
<text x="420.10" y="44.57" font-size="10.2" text-anchor="end" font-weight="normal" fill="#1c1c1c" stroke="#1c1c1c" stroke-width="0.3">20</text>
<line x1="422.10" y1="66.65" x2="427.30" y2="66.65" stroke="#1a1a1a" stroke-width="1.5"/>
<text x="420.10" y="70.32" font-size="10.2" text-anchor="end" font-weight="normal" fill="#1c1c1c" stroke="#1c1c1c" stroke-width="0.3">15</text>
<line x1="422.10" y1="92.40" x2="427.30" y2="92.40" stroke="#1a1a1a" stroke-width="1.5"/>
<text x="420.10" y="96.07" font-size="10.2" text-anchor="end" font-weight="normal" fill="#1c1c1c" stroke="#1c1c1c" stroke-width="0.3">10</text>
<line x1="422.10" y1="118.15" x2="427.30" y2="118.15" stroke="#1a1a1a" stroke-width="1.5"/>
<text x="420.10" y="121.82" font-size="10.2" text-anchor="end" font-weight="normal" fill="#1c1c1c" stroke="#1c1c1c" stroke-width="0.3">5</text>
<line x1="422.10" y1="143.90" x2="427.30" y2="143.90" stroke="#1a1a1a" stroke-width="1.5"/>
<text x="420.10" y="147.57" font-size="10.2" text-anchor="end" font-weight="normal" fill="#1c1c1c" stroke="#1c1c1c" stroke-width="0.3">0</text>
<line x1="426.55" y1="143.90" x2="514.30" y2="143.90" stroke="#1a1a1a" stroke-width="1.5"/>
<line x1="451.50" y1="143.90" x2="451.50" y2="149.10" stroke="#1a1a1a" stroke-width="1.5"/>
<line x1="488.70" y1="143.90" x2="488.70" y2="149.10" stroke="#1a1a1a" stroke-width="1.5"/>
<g transform="translate(-0.60 0.40)"><text x="402.30" y="74.50" font-size="11.1" text-anchor="middle" font-weight="normal" fill="#1c1c1c" stroke="#1c1c1c" stroke-width="0.3" transform="rotate(-90 402.30 74.50)" textLength="114.50" lengthAdjust="spacingAndGlyphs">PIGR mRNA expression</text></g>
<g transform="translate(-0.15 -0.30)"><text x="350.00" y="162.60" font-size="9.6" text-anchor="start" font-weight="normal" fill="#1c1c1c" stroke="#1c1c1c" stroke-width="0.3" textLength="89.00" lengthAdjust="spacingAndGlyphs">Avg. MMR expression:</text></g>
<g transform="translate(-0.25 -0.35)"><text x="461.50" y="155.50" font-size="9.6" text-anchor="end" font-weight="normal" fill="#1c1c1c" stroke="#1c1c1c" stroke-width="0.3" transform="rotate(-45 461.50 155.50)">&gt;Median</text></g>
<g transform="translate(-1.05 -0.40)"><text x="495.00" y="155.50" font-size="9.6" text-anchor="end" font-weight="normal" fill="#1c1c1c" stroke="#1c1c1c" stroke-width="0.3" transform="rotate(-45 495.00 155.50)">≤Median</text></g>
<line x1="458.00" y1="30.20" x2="485.40" y2="30.20" stroke="#333" stroke-width="0.9"/>
<g transform="translate(0.15 1.75)"><text x="470.00" y="32.00" font-size="17.4" text-anchor="middle" font-weight="bold" fill="#111" stroke="#111" stroke-width="0.0">***</text></g>
<line x1="451.60" y1="37.50" x2="451.60" y2="137.00" stroke="#222" stroke-width="1.0"/>
<rect x="439.8" y="50.5" width="23.6" height="69" fill="#3030ee"/>
<path d="M440.20,51.60 L451.60,53.60 L463.00,51.60 L463.00,53.10 L451.60,55.10 L440.20,53.10 Z" fill="#a4a4ff"/>
<path d="M440.20,55.75 L451.60,57.75 L463.00,55.75 L463.00,57.25 L451.60,59.25 L440.20,57.25 Z" fill="#a4a4ff"/>
<path d="M440.20,59.90 L451.60,61.90 L463.00,59.90 L463.00,61.40 L451.60,63.40 L440.20,61.40 Z" fill="#a4a4ff"/>
<path d="M440.20,64.05 L451.60,66.05 L463.00,64.05 L463.00,65.55 L451.60,67.55 L440.20,65.55 Z" fill="#a4a4ff"/>
<path d="M440.20,68.20 L451.60,70.20 L463.00,68.20 L463.00,69.70 L451.60,71.70 L440.20,69.70 Z" fill="#a4a4ff"/>
<path d="M440.20,72.35 L451.60,74.35 L463.00,72.35 L463.00,73.85 L451.60,75.85 L440.20,73.85 Z" fill="#a4a4ff"/>
<path d="M440.20,76.50 L451.60,78.50 L463.00,76.50 L463.00,78.00 L451.60,80.00 L440.20,78.00 Z" fill="#a4a4ff"/>
<path d="M440.20,80.65 L451.60,82.65 L463.00,80.65 L463.00,82.15 L451.60,84.15 L440.20,82.15 Z" fill="#a4a4ff"/>
<path d="M440.20,84.80 L451.60,86.80 L463.00,84.80 L463.00,86.30 L451.60,88.30 L440.20,86.30 Z" fill="#a4a4ff"/>
<path d="M440.20,88.95 L451.60,90.95 L463.00,88.95 L463.00,90.45 L451.60,92.45 L440.20,90.45 Z" fill="#a4a4ff"/>
<path d="M440.20,93.10 L451.60,95.10 L463.00,93.10 L463.00,94.60 L451.60,96.60 L440.20,94.60 Z" fill="#a4a4ff"/>
<path d="M440.20,97.25 L451.60,99.25 L463.00,97.25 L463.00,98.75 L451.60,100.75 L440.20,98.75 Z" fill="#a4a4ff"/>
<path d="M440.20,101.40 L451.60,103.40 L463.00,101.40 L463.00,102.90 L451.60,104.90 L440.20,102.90 Z" fill="#a4a4ff"/>
<path d="M440.20,105.55 L451.60,107.55 L463.00,105.55 L463.00,107.05 L451.60,109.05 L440.20,107.05 Z" fill="#a4a4ff"/>
<path d="M440.20,109.70 L451.60,111.70 L463.00,109.70 L463.00,111.20 L451.60,113.20 L440.20,111.20 Z" fill="#a4a4ff"/>
<path d="M440.20,113.85 L451.60,115.85 L463.00,113.85 L463.00,115.35 L451.60,117.35 L440.20,115.35 Z" fill="#a4a4ff"/>
<circle cx="439.70" cy="52.90" r="1.7" fill="#3535ee"/>
<circle cx="463.50" cy="52.90" r="1.7" fill="#3535ee"/>
<circle cx="439.70" cy="57.05" r="1.7" fill="#3535ee"/>
<circle cx="463.50" cy="57.05" r="1.7" fill="#3535ee"/>
<circle cx="439.70" cy="61.20" r="1.7" fill="#3535ee"/>
<circle cx="463.50" cy="61.20" r="1.7" fill="#3535ee"/>
<circle cx="439.70" cy="65.35" r="1.7" fill="#3535ee"/>
<circle cx="463.50" cy="65.35" r="1.7" fill="#3535ee"/>
<circle cx="439.70" cy="69.50" r="1.7" fill="#3535ee"/>
<circle cx="463.50" cy="69.50" r="1.7" fill="#3535ee"/>
<circle cx="439.70" cy="73.65" r="1.7" fill="#3535ee"/>
<circle cx="463.50" cy="73.65" r="1.7" fill="#3535ee"/>
<circle cx="439.70" cy="77.80" r="1.7" fill="#3535ee"/>
<circle cx="463.50" cy="77.80" r="1.7" fill="#3535ee"/>
<circle cx="439.70" cy="81.95" r="1.7" fill="#3535ee"/>
<circle cx="463.50" cy="81.95" r="1.7" fill="#3535ee"/>
<circle cx="439.70" cy="86.10" r="1.7" fill="#3535ee"/>
<circle cx="463.50" cy="86.10" r="1.7" fill="#3535ee"/>
<circle cx="439.70" cy="90.25" r="1.7" fill="#3535ee"/>
<circle cx="463.50" cy="90.25" r="1.7" fill="#3535ee"/>
<circle cx="439.70" cy="94.40" r="1.7" fill="#3535ee"/>
<circle cx="463.50" cy="94.40" r="1.7" fill="#3535ee"/>
<circle cx="439.70" cy="98.55" r="1.7" fill="#3535ee"/>
<circle cx="463.50" cy="98.55" r="1.7" fill="#3535ee"/>
<circle cx="439.70" cy="102.70" r="1.7" fill="#3535ee"/>
<circle cx="463.50" cy="102.70" r="1.7" fill="#3535ee"/>
<circle cx="439.70" cy="106.85" r="1.7" fill="#3535ee"/>
<circle cx="463.50" cy="106.85" r="1.7" fill="#3535ee"/>
<circle cx="439.70" cy="111.00" r="1.7" fill="#3535ee"/>
<circle cx="463.50" cy="111.00" r="1.7" fill="#3535ee"/>
<circle cx="439.70" cy="115.15" r="1.7" fill="#3535ee"/>
<circle cx="463.50" cy="115.15" r="1.7" fill="#3535ee"/>
<circle cx="440.00" cy="50.6" r="1.7" fill="#4646f2"/>
<circle cx="443.50" cy="50.6" r="1.7" fill="#4646f2"/>
<circle cx="447.00" cy="50.6" r="1.7" fill="#4646f2"/>
<circle cx="456.20" cy="50.6" r="1.7" fill="#4646f2"/>
<circle cx="459.70" cy="50.6" r="1.7" fill="#4646f2"/>
<circle cx="463.20" cy="50.6" r="1.7" fill="#4646f2"/>
<circle cx="449.20" cy="48.5" r="1.6" fill="#4646f2"/>
<circle cx="454.00" cy="48.5" r="1.6" fill="#4646f2"/>
<circle cx="440.20" cy="121.20" r="1.6" fill="#5656f6" fill-opacity="0.85" stroke="#2020d8" stroke-width="0.7" stroke-opacity="0.8"/>
<circle cx="444.80" cy="121.20" r="1.6" fill="#5656f6" fill-opacity="0.85" stroke="#2020d8" stroke-width="0.7" stroke-opacity="0.8"/>
<circle cx="449.30" cy="121.20" r="1.6" fill="#5656f6" fill-opacity="0.85" stroke="#2020d8" stroke-width="0.7" stroke-opacity="0.8"/>
<circle cx="454.10" cy="121.20" r="1.6" fill="#5656f6" fill-opacity="0.85" stroke="#2020d8" stroke-width="0.7" stroke-opacity="0.8"/>
<circle cx="458.40" cy="121.20" r="1.6" fill="#5656f6" fill-opacity="0.85" stroke="#2020d8" stroke-width="0.7" stroke-opacity="0.8"/>
<circle cx="462.80" cy="121.20" r="1.6" fill="#5656f6" fill-opacity="0.85" stroke="#2020d8" stroke-width="0.7" stroke-opacity="0.8"/>
<path d="M440.1,67.9 L451.6,69.7 L463.1,67.9" stroke="#5a1aa0" stroke-width="1.7" fill="none"/>
<path d="M440.1,86.6 L451.6,88.4 L463.1,86.6" stroke="#5a1aa0" stroke-width="1.7" fill="none"/>
<path d="M440.1,103.6 L451.6,105.4 L463.1,103.6" stroke="#5a1aa0" stroke-width="1.7" fill="none"/>
<path d="M451.90,47.00 L452.05,47.50 L452.45,48.00 L453.00,48.50 L453.55,49.00 L453.95,49.50 L454.10,50.00 L454.21,50.51 L454.51,51.03 L454.96,51.54 L455.44,52.06 L455.89,52.57 L456.19,53.09 L456.30,53.60 L456.34,54.12 L456.46,54.63 L456.65,55.15 L456.90,55.67 L457.19,56.18 L457.50,56.70 L457.81,57.22 L458.10,57.73 L458.35,58.25 L458.54,58.77 L458.66,59.28 L458.70,59.80 L458.74,60.32 L458.87,60.83 L459.07,61.35 L459.33,61.87 L459.63,62.38 L459.95,62.90 L460.27,63.42 L460.58,63.93 L460.83,64.45 L461.03,64.97 L461.16,65.48 L461.20,66.00 L461.26,66.54 L461.44,67.09 L461.71,67.63 L461.99,68.17 L462.26,68.71 L462.44,69.26 L462.50,69.80 L462.47,70.31 L462.40,70.82 L462.28,71.33 L462.12,71.84 L461.94,72.35 L461.76,72.85 L461.58,73.36 L461.42,73.87 L461.30,74.38 L461.23,74.89 L461.20,75.40 L461.16,75.91 L461.05,76.42 L460.88,76.93 L460.66,77.44 L460.44,77.96 L460.23,78.47 L460.05,78.98 L459.94,79.49 L459.90,80.00 L459.90,80.50 L459.88,81.00 L459.87,81.50 L459.84,82.00 L459.81,82.50 L459.78,83.00 L459.74,83.50 L459.70,84.00 L459.66,84.50 L459.62,85.00 L459.59,85.50 L459.56,86.00 L459.53,86.50 L459.52,87.00 L459.50,87.50 L459.50,88.00 L459.51,88.50 L459.53,89.00 L459.57,89.50 L459.61,90.00 L459.67,90.50 L459.73,91.00 L459.80,91.50 L459.87,92.00 L459.93,92.50 L459.99,93.00 L460.03,93.50 L460.07,94.00 L460.09,94.50 L460.10,95.00 L460.12,95.50 L460.19,96.00 L460.30,96.50 L460.44,97.00 L460.61,97.50 L460.80,98.00 L461.00,98.50 L461.20,99.00 L461.39,99.50 L461.56,100.00 L461.70,100.50 L461.81,101.00 L461.88,101.50 L461.90,102.00 L461.90,102.50 L461.91,103.00 L461.93,103.50 L461.95,104.00 L461.97,104.50 L462.00,105.00 L462.03,105.50 L462.05,106.00 L462.07,106.50 L462.09,107.00 L462.10,107.50 L462.10,108.00 L462.08,108.50 L462.00,109.00 L461.89,109.50 L461.75,110.00 L461.60,110.50 L461.45,111.00 L461.31,111.50 L461.20,112.00 L461.12,112.50 L461.10,113.00 L461.04,113.50 L460.88,114.00 L460.64,114.50 L460.35,115.00 L460.06,115.50 L459.82,116.00 L459.66,116.50 L459.60,117.00 L459.49,117.50 L459.16,118.00 L458.67,118.50 L458.10,119.00 L457.53,119.50 L457.04,120.00 L456.71,120.50 L456.60,121.00 L456.42,121.53 L455.93,122.05 L455.18,122.58 L454.30,123.10 L453.42,123.62 L452.67,124.15 L452.18,124.67 L452.00,125.20 L451.20,125.20 L451.02,124.67 L450.53,124.15 L449.78,123.62 L448.90,123.10 L448.02,122.58 L447.27,122.05 L446.78,121.53 L446.60,121.00 L446.49,120.50 L446.16,120.00 L445.67,119.50 L445.10,119.00 L444.53,118.50 L444.04,118.00 L443.71,117.50 L443.60,117.00 L443.54,116.50 L443.38,116.00 L443.14,115.50 L442.85,115.00 L442.56,114.50 L442.32,114.00 L442.16,113.50 L442.10,113.00 L442.08,112.50 L442.00,112.00 L441.89,111.50 L441.75,111.00 L441.60,110.50 L441.45,110.00 L441.31,109.50 L441.20,109.00 L441.12,108.50 L441.10,108.00 L441.10,107.50 L441.11,107.00 L441.13,106.50 L441.15,106.00 L441.17,105.50 L441.20,105.00 L441.23,104.50 L441.25,104.00 L441.27,103.50 L441.29,103.00 L441.30,102.50 L441.30,102.00 L441.32,101.50 L441.39,101.00 L441.50,100.50 L441.64,100.00 L441.81,99.50 L442.00,99.00 L442.20,98.50 L442.40,98.00 L442.59,97.50 L442.76,97.00 L442.90,96.50 L443.01,96.00 L443.08,95.50 L443.10,95.00 L443.11,94.50 L443.13,94.00 L443.17,93.50 L443.21,93.00 L443.27,92.50 L443.33,92.00 L443.40,91.50 L443.47,91.00 L443.53,90.50 L443.59,90.00 L443.63,89.50 L443.67,89.00 L443.69,88.50 L443.70,88.00 L443.70,87.50 L443.68,87.00 L443.67,86.50 L443.64,86.00 L443.61,85.50 L443.58,85.00 L443.54,84.50 L443.50,84.00 L443.46,83.50 L443.42,83.00 L443.39,82.50 L443.36,82.00 L443.33,81.50 L443.32,81.00 L443.30,80.50 L443.30,80.00 L443.26,79.49 L443.15,78.98 L442.98,78.47 L442.76,77.96 L442.54,77.44 L442.33,76.93 L442.15,76.42 L442.04,75.91 L442.00,75.40 L441.97,74.89 L441.90,74.38 L441.78,73.87 L441.62,73.36 L441.44,72.85 L441.26,72.35 L441.08,71.84 L440.92,71.33 L440.80,70.82 L440.73,70.31 L440.70,69.80 L440.76,69.26 L440.94,68.71 L441.21,68.17 L441.49,67.63 L441.76,67.09 L441.94,66.54 L442.00,66.00 L442.04,65.48 L442.17,64.97 L442.37,64.45 L442.62,63.93 L442.93,63.42 L443.25,62.90 L443.57,62.38 L443.88,61.87 L444.13,61.35 L444.33,60.83 L444.46,60.32 L444.50,59.80 L444.54,59.28 L444.66,58.77 L444.85,58.25 L445.10,57.73 L445.39,57.22 L445.70,56.70 L446.01,56.18 L446.30,55.67 L446.55,55.15 L446.74,54.63 L446.86,54.12 L446.90,53.60 L447.01,53.09 L447.31,52.57 L447.76,52.06 L448.24,51.54 L448.69,51.03 L448.99,50.51 L449.10,50.00 L449.25,49.50 L449.65,49.00 L450.20,48.50 L450.75,48.00 L451.15,47.50 L451.30,47.00 Z" fill="none" stroke="#10103a" stroke-width="0.9"/>
<clipPath id="cc2top"><rect x="470" y="40" width="40" height="40"/></clipPath>
<line x1="488.80" y1="37.50" x2="488.80" y2="127.20" stroke="#222" stroke-width="1.0"/>
<rect x="481.50" y="43.90" width="3.4" height="3.4" fill="#f03c40" fill-opacity="0.7" stroke="#f27a86" stroke-width="0.35" stroke-opacity="0.8"/>
<rect x="492.40" y="43.90" width="3.4" height="3.4" fill="#f03c40" fill-opacity="0.7" stroke="#f27a86" stroke-width="0.35" stroke-opacity="0.8"/>
<path d="M489.10,48.70 L489.57,49.28 L490.70,49.85 L491.83,50.42 L492.30,51.00 L492.43,51.50 L492.81,52.00 L493.38,52.50 L494.05,53.00 L494.72,53.50 L495.29,54.00 L495.67,54.50 L495.80,55.00 L495.89,55.50 L496.13,56.00 L496.52,56.50 L497.01,57.00 L497.55,57.50 L498.09,58.00 L498.58,58.50 L498.97,59.00 L499.21,59.50 L499.30,60.00 L499.33,60.50 L499.40,61.00 L499.52,61.50 L499.68,62.00 L499.86,62.50 L500.05,63.00 L500.24,63.50 L500.43,64.00 L500.58,64.50 L500.70,65.00 L500.77,65.50 L500.80,66.00 L500.79,66.50 L500.77,67.00 L500.73,67.50 L500.68,68.00 L500.61,68.50 L500.55,69.00 L500.49,69.50 L500.43,70.00 L500.37,70.50 L500.33,71.00 L500.31,71.50 L500.30,72.00 L500.23,72.50 L500.01,73.00 L499.68,73.50 L499.26,74.00 L498.80,74.50 L498.34,75.00 L497.92,75.50 L497.59,76.00 L497.37,76.50 L497.30,77.00 L497.07,77.57 L496.43,78.13 L495.55,78.70 L494.68,79.27 L494.03,79.83 L493.80,80.40 L493.71,80.91 L493.46,81.43 L493.10,81.94 L492.70,82.46 L492.34,82.97 L492.09,83.49 L492.00,84.00 L491.95,84.57 L491.82,85.13 L491.65,85.70 L491.48,86.27 L491.35,86.83 L491.30,87.40 L491.30,87.92 L491.30,88.43 L491.30,88.95 L491.30,89.47 L491.30,89.98 L491.30,90.50 L491.30,91.02 L491.30,91.53 L491.30,92.05 L491.30,92.57 L491.30,93.08 L491.30,93.60 L491.30,94.12 L491.30,94.63 L491.30,95.15 L491.30,95.67 L491.30,96.18 L491.30,96.70 L491.30,97.22 L491.30,97.73 L491.30,98.25 L491.30,98.77 L491.30,99.28 L491.30,99.80 L491.26,100.33 L491.15,100.85 L490.99,101.38 L490.80,101.90 L490.61,102.42 L490.45,102.95 L490.34,103.47 L490.30,104.00 L490.31,104.50 L490.34,105.00 L490.39,105.50 L490.45,106.00 L490.51,106.50 L490.56,107.00 L490.59,107.50 L490.60,108.00 L490.60,108.54 L490.60,109.08 L490.60,109.61 L490.60,110.15 L490.60,110.69 L490.60,111.22 L490.60,111.76 L490.60,112.30 L490.58,112.83 L490.52,113.36 L490.44,113.89 L490.36,114.41 L490.28,114.94 L490.22,115.47 L490.20,116.00 L490.19,116.50 L490.15,117.00 L490.10,117.50 L490.03,118.00 L489.97,118.50 L489.90,119.00 L489.85,119.50 L489.81,120.00 L489.80,120.50 L489.77,121.00 L489.67,121.50 L489.53,122.00 L489.37,122.50 L489.23,123.00 L489.13,123.50 L489.10,124.00 L488.50,124.00 L488.47,123.50 L488.37,123.00 L488.23,122.50 L488.07,122.00 L487.93,121.50 L487.83,121.00 L487.80,120.50 L487.79,120.00 L487.75,119.50 L487.70,119.00 L487.63,118.50 L487.57,118.00 L487.50,117.50 L487.45,117.00 L487.41,116.50 L487.40,116.00 L487.38,115.47 L487.32,114.94 L487.24,114.41 L487.16,113.89 L487.08,113.36 L487.02,112.83 L487.00,112.30 L487.00,111.76 L487.00,111.22 L487.00,110.69 L487.00,110.15 L487.00,109.61 L487.00,109.08 L487.00,108.54 L487.00,108.00 L487.01,107.50 L487.04,107.00 L487.09,106.50 L487.15,106.00 L487.21,105.50 L487.26,105.00 L487.29,104.50 L487.30,104.00 L487.26,103.47 L487.15,102.95 L486.99,102.42 L486.80,101.90 L486.61,101.38 L486.45,100.85 L486.34,100.33 L486.30,99.80 L486.30,99.28 L486.30,98.77 L486.30,98.25 L486.30,97.73 L486.30,97.22 L486.30,96.70 L486.30,96.18 L486.30,95.67 L486.30,95.15 L486.30,94.63 L486.30,94.12 L486.30,93.60 L486.30,93.08 L486.30,92.57 L486.30,92.05 L486.30,91.53 L486.30,91.02 L486.30,90.50 L486.30,89.98 L486.30,89.47 L486.30,88.95 L486.30,88.43 L486.30,87.92 L486.30,87.40 L486.25,86.83 L486.12,86.27 L485.95,85.70 L485.78,85.13 L485.65,84.57 L485.60,84.00 L485.51,83.49 L485.26,82.97 L484.90,82.46 L484.50,81.94 L484.14,81.43 L483.89,80.91 L483.80,80.40 L483.57,79.83 L482.93,79.27 L482.05,78.70 L481.18,78.13 L480.53,77.57 L480.30,77.00 L480.23,76.50 L480.01,76.00 L479.68,75.50 L479.26,75.00 L478.80,74.50 L478.34,74.00 L477.92,73.50 L477.59,73.00 L477.37,72.50 L477.30,72.00 L477.29,71.50 L477.27,71.00 L477.23,70.50 L477.18,70.00 L477.11,69.50 L477.05,69.00 L476.99,68.50 L476.93,68.00 L476.87,67.50 L476.83,67.00 L476.81,66.50 L476.80,66.00 L476.83,65.50 L476.90,65.00 L477.02,64.50 L477.18,64.00 L477.36,63.50 L477.55,63.00 L477.74,62.50 L477.93,62.00 L478.08,61.50 L478.20,61.00 L478.27,60.50 L478.30,60.00 L478.39,59.50 L478.63,59.00 L479.02,58.50 L479.51,58.00 L480.05,57.50 L480.59,57.00 L481.08,56.50 L481.47,56.00 L481.71,55.50 L481.80,55.00 L481.93,54.50 L482.31,54.00 L482.88,53.50 L483.55,53.00 L484.22,52.50 L484.79,52.00 L485.17,51.50 L485.30,51.00 L485.77,50.42 L486.90,49.85 L488.03,49.28 L488.50,48.70 Z" fill="#d8d8d8" stroke="none" clip-path="url(#cc2top)"/>
<path d="M476.40,49.60 L482.80,49.00 L488.80,50.50 L494.80,49.00 L501.20,49.60 L501.20,78.50 L488.80,79.50 L476.40,78.50 Z" fill="#f41c1c"/>
<path d="M477.3,55.3 Q488.8,57.3 500.3,55.3" stroke="#ff6a6a" stroke-width="0.8" fill="none"/>
<path d="M477.3,58.2 Q488.8,60.2 500.3,58.2" stroke="#ff6a6a" stroke-width="0.8" fill="none"/>
<path d="M477.3,64.0 Q488.8,66.0 500.3,64.0" stroke="#ff6a6a" stroke-width="0.8" fill="none"/>
<path d="M477.3,66.0 Q488.8,68.0 500.3,66.0" stroke="#ff6a6a" stroke-width="0.8" fill="none"/>
<path d="M477.3,72.2 Q488.8,74.2 500.3,72.2" stroke="#ff6a6a" stroke-width="0.8" fill="none"/>
<path d="M477.3,75.3 Q488.8,77.3 500.3,75.3" stroke="#ff6a6a" stroke-width="0.8" fill="none"/>
<path d="M477.3,60.2 Q488.8,61.8 500.3,60.2" stroke="#8a1060" stroke-width="1.6" fill="none"/>
<path d="M477.3,68.2 Q488.8,69.8 500.3,68.2" stroke="#8a1060" stroke-width="1.6" fill="none"/>
<path d="M477.3,76.3 Q488.8,78.3 500.3,76.3" stroke="#c01030" stroke-width="1.4" fill="none"/>
<path d="M482.80,79.00 L494.80,79.00 L491.30,86.00 L486.30,86.00 Z" fill="#e82a36"/>
<path d="M485.3,51.3 L488.8,48.2 L492.3,51.3" stroke="#3a1a1a" stroke-width="0.9" fill="none"/>
<rect x="475.99" y="80.59" width="3.3" height="3.3" fill="#f03c40" fill-opacity="0.8" stroke="#f27a86" stroke-width="0.35" stroke-opacity="0.8"/>
<rect x="483.77" y="79.97" width="3.3" height="3.3" fill="#f03c40" fill-opacity="0.8" stroke="#f27a86" stroke-width="0.35" stroke-opacity="0.8"/>
<rect x="487.59" y="80.47" width="3.3" height="3.3" fill="#f03c40" fill-opacity="0.8" stroke="#f27a86" stroke-width="0.35" stroke-opacity="0.8"/>
<rect x="494.72" y="80.15" width="3.3" height="3.3" fill="#f03c40" fill-opacity="0.8" stroke="#f27a86" stroke-width="0.35" stroke-opacity="0.8"/>
<rect x="498.62" y="79.96" width="3.3" height="3.3" fill="#f03c40" fill-opacity="0.8" stroke="#f27a86" stroke-width="0.35" stroke-opacity="0.8"/>
<rect x="475.53" y="83.28" width="3.3" height="3.3" fill="#f03c40" fill-opacity="0.8" stroke="#f27a86" stroke-width="0.35" stroke-opacity="0.8"/>
<rect x="479.21" y="83.19" width="3.3" height="3.3" fill="#f03c40" fill-opacity="0.8" stroke="#f27a86" stroke-width="0.35" stroke-opacity="0.8"/>
<rect x="483.47" y="82.65" width="3.3" height="3.3" fill="#f03c40" fill-opacity="0.8" stroke="#f27a86" stroke-width="0.35" stroke-opacity="0.8"/>
<rect x="487.52" y="82.72" width="3.3" height="3.3" fill="#f03c40" fill-opacity="0.8" stroke="#f27a86" stroke-width="0.35" stroke-opacity="0.8"/>
<rect x="491.43" y="83.25" width="3.3" height="3.3" fill="#f03c40" fill-opacity="0.8" stroke="#f27a86" stroke-width="0.35" stroke-opacity="0.8"/>
<rect x="495.21" y="82.98" width="3.3" height="3.3" fill="#f03c40" fill-opacity="0.8" stroke="#f27a86" stroke-width="0.35" stroke-opacity="0.8"/>
<rect x="498.25" y="83.30" width="3.3" height="3.3" fill="#f03c40" fill-opacity="0.8" stroke="#f27a86" stroke-width="0.35" stroke-opacity="0.8"/>
<rect x="476.22" y="85.86" width="3.3" height="3.3" fill="#f03c40" fill-opacity="0.8" stroke="#f27a86" stroke-width="0.35" stroke-opacity="0.8"/>
<rect x="479.41" y="85.28" width="3.3" height="3.3" fill="#f03c40" fill-opacity="0.8" stroke="#f27a86" stroke-width="0.35" stroke-opacity="0.8"/>
<rect x="482.92" y="85.39" width="3.3" height="3.3" fill="#f03c40" fill-opacity="0.8" stroke="#f27a86" stroke-width="0.35" stroke-opacity="0.8"/>
<rect x="486.65" y="85.69" width="3.3" height="3.3" fill="#f03c40" fill-opacity="0.8" stroke="#f27a86" stroke-width="0.35" stroke-opacity="0.8"/>
<rect x="490.76" y="85.80" width="3.3" height="3.3" fill="#f03c40" fill-opacity="0.8" stroke="#f27a86" stroke-width="0.35" stroke-opacity="0.8"/>
<rect x="494.57" y="85.53" width="3.3" height="3.3" fill="#f03c40" fill-opacity="0.8" stroke="#f27a86" stroke-width="0.35" stroke-opacity="0.8"/>
<rect x="498.11" y="85.93" width="3.3" height="3.3" fill="#f03c40" fill-opacity="0.8" stroke="#f27a86" stroke-width="0.35" stroke-opacity="0.8"/>
<rect x="476.00" y="88.83" width="3.3" height="3.3" fill="#f03c40" fill-opacity="0.8" stroke="#f27a86" stroke-width="0.35" stroke-opacity="0.8"/>
<rect x="479.84" y="88.44" width="3.3" height="3.3" fill="#f03c40" fill-opacity="0.8" stroke="#f27a86" stroke-width="0.35" stroke-opacity="0.8"/>
<rect x="482.86" y="88.19" width="3.3" height="3.3" fill="#f03c40" fill-opacity="0.8" stroke="#f27a86" stroke-width="0.35" stroke-opacity="0.8"/>
<rect x="487.61" y="88.31" width="3.3" height="3.3" fill="#f03c40" fill-opacity="0.8" stroke="#f27a86" stroke-width="0.35" stroke-opacity="0.8"/>
<rect x="491.38" y="88.90" width="3.3" height="3.3" fill="#f03c40" fill-opacity="0.8" stroke="#f27a86" stroke-width="0.35" stroke-opacity="0.8"/>
<rect x="494.60" y="88.57" width="3.3" height="3.3" fill="#f03c40" fill-opacity="0.8" stroke="#f27a86" stroke-width="0.35" stroke-opacity="0.8"/>
<rect x="498.16" y="88.75" width="3.3" height="3.3" fill="#f03c40" fill-opacity="0.8" stroke="#f27a86" stroke-width="0.35" stroke-opacity="0.8"/>
<rect x="483.80" y="91.02" width="3.3" height="3.3" fill="#f03c40" fill-opacity="0.8" stroke="#f27a86" stroke-width="0.35" stroke-opacity="0.8"/>
<rect x="487.26" y="91.68" width="3.3" height="3.3" fill="#f03c40" fill-opacity="0.8" stroke="#f27a86" stroke-width="0.35" stroke-opacity="0.8"/>
<rect x="491.37" y="91.39" width="3.3" height="3.3" fill="#f03c40" fill-opacity="0.8" stroke="#f27a86" stroke-width="0.35" stroke-opacity="0.8"/>
<rect x="494.57" y="91.09" width="3.3" height="3.3" fill="#f03c40" fill-opacity="0.8" stroke="#f27a86" stroke-width="0.35" stroke-opacity="0.8"/>
<rect x="498.20" y="91.50" width="3.3" height="3.3" fill="#f03c40" fill-opacity="0.8" stroke="#f27a86" stroke-width="0.35" stroke-opacity="0.8"/>
<rect x="479.10" y="94.24" width="3.3" height="3.3" fill="#f03c40" fill-opacity="0.8" stroke="#f27a86" stroke-width="0.35" stroke-opacity="0.8"/>
<rect x="483.26" y="93.64" width="3.3" height="3.3" fill="#f03c40" fill-opacity="0.8" stroke="#f27a86" stroke-width="0.35" stroke-opacity="0.8"/>
<rect x="487.48" y="93.81" width="3.3" height="3.3" fill="#f03c40" fill-opacity="0.8" stroke="#f27a86" stroke-width="0.35" stroke-opacity="0.8"/>
<rect x="490.51" y="94.18" width="3.3" height="3.3" fill="#f03c40" fill-opacity="0.8" stroke="#f27a86" stroke-width="0.35" stroke-opacity="0.8"/>
<rect x="494.74" y="94.12" width="3.3" height="3.3" fill="#f03c40" fill-opacity="0.8" stroke="#f27a86" stroke-width="0.35" stroke-opacity="0.8"/>
<rect x="498.78" y="94.21" width="3.3" height="3.3" fill="#f03c40" fill-opacity="0.8" stroke="#f27a86" stroke-width="0.35" stroke-opacity="0.8"/>
<rect x="483.28" y="96.57" width="3.3" height="3.3" fill="#f03c40" fill-opacity="0.8" stroke="#f27a86" stroke-width="0.35" stroke-opacity="0.8"/>
<rect x="490.90" y="97.25" width="3.3" height="3.3" fill="#f03c40" fill-opacity="0.8" stroke="#f27a86" stroke-width="0.35" stroke-opacity="0.8"/>
<rect x="475.74" y="100.03" width="3.3" height="3.3" fill="#f03c40" fill-opacity="0.8" stroke="#f27a86" stroke-width="0.35" stroke-opacity="0.8"/>
<rect x="479.34" y="99.77" width="3.3" height="3.3" fill="#f03c40" fill-opacity="0.8" stroke="#f27a86" stroke-width="0.35" stroke-opacity="0.8"/>
<rect x="483.23" y="100.24" width="3.3" height="3.3" fill="#f03c40" fill-opacity="0.8" stroke="#f27a86" stroke-width="0.35" stroke-opacity="0.8"/>
<rect x="494.59" y="99.52" width="3.3" height="3.3" fill="#f03c40" fill-opacity="0.8" stroke="#f27a86" stroke-width="0.35" stroke-opacity="0.8"/>
<rect x="498.83" y="100.14" width="3.3" height="3.3" fill="#f03c40" fill-opacity="0.8" stroke="#f27a86" stroke-width="0.35" stroke-opacity="0.8"/>
<rect x="476.04" y="102.77" width="3.3" height="3.3" fill="#f03c40" fill-opacity="0.8" stroke="#f27a86" stroke-width="0.35" stroke-opacity="0.8"/>
<rect x="491.15" y="102.37" width="3.3" height="3.3" fill="#f03c40" fill-opacity="0.8" stroke="#f27a86" stroke-width="0.35" stroke-opacity="0.8"/>
<rect x="495.02" y="102.70" width="3.3" height="3.3" fill="#f03c40" fill-opacity="0.8" stroke="#f27a86" stroke-width="0.35" stroke-opacity="0.8"/>
<rect x="499.00" y="102.67" width="3.3" height="3.3" fill="#f03c40" fill-opacity="0.8" stroke="#f27a86" stroke-width="0.35" stroke-opacity="0.8"/>
<rect x="483.35" y="106.35" width="3.3" height="3.3" fill="#f03c40" fill-opacity="0.8" stroke="#f27a86" stroke-width="0.35" stroke-opacity="0.8"/>
<rect x="490.85" y="106.85" width="3.3" height="3.3" fill="#f03c40" fill-opacity="0.8" stroke="#f27a86" stroke-width="0.35" stroke-opacity="0.8"/>
<rect x="483.35" y="109.55" width="3.3" height="3.3" fill="#f03c40" fill-opacity="0.8" stroke="#f27a86" stroke-width="0.35" stroke-opacity="0.8"/>
<rect x="490.85" y="109.85" width="3.3" height="3.3" fill="#f03c40" fill-opacity="0.8" stroke="#f27a86" stroke-width="0.35" stroke-opacity="0.8"/>
<rect x="475.35" y="111.55" width="3.3" height="3.3" fill="#f03c40" fill-opacity="0.8" stroke="#f27a86" stroke-width="0.35" stroke-opacity="0.8"/>
<rect x="498.85" y="111.55" width="3.3" height="3.3" fill="#f03c40" fill-opacity="0.8" stroke="#f27a86" stroke-width="0.35" stroke-opacity="0.8"/>
<rect x="482.85" y="113.85" width="3.3" height="3.3" fill="#f03c40" fill-opacity="0.8" stroke="#f27a86" stroke-width="0.35" stroke-opacity="0.8"/>
<rect x="491.15" y="114.15" width="3.3" height="3.3" fill="#f03c40" fill-opacity="0.8" stroke="#f27a86" stroke-width="0.35" stroke-opacity="0.8"/>
<rect x="483.35" y="116.65" width="3.3" height="3.3" fill="#f03c40" fill-opacity="0.8" stroke="#f27a86" stroke-width="0.35" stroke-opacity="0.8"/>
<rect x="490.85" y="116.95" width="3.3" height="3.3" fill="#f03c40" fill-opacity="0.8" stroke="#f27a86" stroke-width="0.35" stroke-opacity="0.8"/>
<clipPath id="cc2"><rect x="470" y="78.8" width="40" height="60"/></clipPath>
<path d="M489.10,48.70 L489.57,49.28 L490.70,49.85 L491.83,50.42 L492.30,51.00 L492.43,51.50 L492.81,52.00 L493.38,52.50 L494.05,53.00 L494.72,53.50 L495.29,54.00 L495.67,54.50 L495.80,55.00 L495.89,55.50 L496.13,56.00 L496.52,56.50 L497.01,57.00 L497.55,57.50 L498.09,58.00 L498.58,58.50 L498.97,59.00 L499.21,59.50 L499.30,60.00 L499.33,60.50 L499.40,61.00 L499.52,61.50 L499.68,62.00 L499.86,62.50 L500.05,63.00 L500.24,63.50 L500.43,64.00 L500.58,64.50 L500.70,65.00 L500.77,65.50 L500.80,66.00 L500.79,66.50 L500.77,67.00 L500.73,67.50 L500.68,68.00 L500.61,68.50 L500.55,69.00 L500.49,69.50 L500.43,70.00 L500.37,70.50 L500.33,71.00 L500.31,71.50 L500.30,72.00 L500.23,72.50 L500.01,73.00 L499.68,73.50 L499.26,74.00 L498.80,74.50 L498.34,75.00 L497.92,75.50 L497.59,76.00 L497.37,76.50 L497.30,77.00 L497.07,77.57 L496.43,78.13 L495.55,78.70 L494.68,79.27 L494.03,79.83 L493.80,80.40 L493.71,80.91 L493.46,81.43 L493.10,81.94 L492.70,82.46 L492.34,82.97 L492.09,83.49 L492.00,84.00 L491.95,84.57 L491.82,85.13 L491.65,85.70 L491.48,86.27 L491.35,86.83 L491.30,87.40 L491.30,87.92 L491.30,88.43 L491.30,88.95 L491.30,89.47 L491.30,89.98 L491.30,90.50 L491.30,91.02 L491.30,91.53 L491.30,92.05 L491.30,92.57 L491.30,93.08 L491.30,93.60 L491.30,94.12 L491.30,94.63 L491.30,95.15 L491.30,95.67 L491.30,96.18 L491.30,96.70 L491.30,97.22 L491.30,97.73 L491.30,98.25 L491.30,98.77 L491.30,99.28 L491.30,99.80 L491.26,100.33 L491.15,100.85 L490.99,101.38 L490.80,101.90 L490.61,102.42 L490.45,102.95 L490.34,103.47 L490.30,104.00 L490.31,104.50 L490.34,105.00 L490.39,105.50 L490.45,106.00 L490.51,106.50 L490.56,107.00 L490.59,107.50 L490.60,108.00 L490.60,108.54 L490.60,109.08 L490.60,109.61 L490.60,110.15 L490.60,110.69 L490.60,111.22 L490.60,111.76 L490.60,112.30 L490.58,112.83 L490.52,113.36 L490.44,113.89 L490.36,114.41 L490.28,114.94 L490.22,115.47 L490.20,116.00 L490.19,116.50 L490.15,117.00 L490.10,117.50 L490.03,118.00 L489.97,118.50 L489.90,119.00 L489.85,119.50 L489.81,120.00 L489.80,120.50 L489.77,121.00 L489.67,121.50 L489.53,122.00 L489.37,122.50 L489.23,123.00 L489.13,123.50 L489.10,124.00 L488.50,124.00 L488.47,123.50 L488.37,123.00 L488.23,122.50 L488.07,122.00 L487.93,121.50 L487.83,121.00 L487.80,120.50 L487.79,120.00 L487.75,119.50 L487.70,119.00 L487.63,118.50 L487.57,118.00 L487.50,117.50 L487.45,117.00 L487.41,116.50 L487.40,116.00 L487.38,115.47 L487.32,114.94 L487.24,114.41 L487.16,113.89 L487.08,113.36 L487.02,112.83 L487.00,112.30 L487.00,111.76 L487.00,111.22 L487.00,110.69 L487.00,110.15 L487.00,109.61 L487.00,109.08 L487.00,108.54 L487.00,108.00 L487.01,107.50 L487.04,107.00 L487.09,106.50 L487.15,106.00 L487.21,105.50 L487.26,105.00 L487.29,104.50 L487.30,104.00 L487.26,103.47 L487.15,102.95 L486.99,102.42 L486.80,101.90 L486.61,101.38 L486.45,100.85 L486.34,100.33 L486.30,99.80 L486.30,99.28 L486.30,98.77 L486.30,98.25 L486.30,97.73 L486.30,97.22 L486.30,96.70 L486.30,96.18 L486.30,95.67 L486.30,95.15 L486.30,94.63 L486.30,94.12 L486.30,93.60 L486.30,93.08 L486.30,92.57 L486.30,92.05 L486.30,91.53 L486.30,91.02 L486.30,90.50 L486.30,89.98 L486.30,89.47 L486.30,88.95 L486.30,88.43 L486.30,87.92 L486.30,87.40 L486.25,86.83 L486.12,86.27 L485.95,85.70 L485.78,85.13 L485.65,84.57 L485.60,84.00 L485.51,83.49 L485.26,82.97 L484.90,82.46 L484.50,81.94 L484.14,81.43 L483.89,80.91 L483.80,80.40 L483.57,79.83 L482.93,79.27 L482.05,78.70 L481.18,78.13 L480.53,77.57 L480.30,77.00 L480.23,76.50 L480.01,76.00 L479.68,75.50 L479.26,75.00 L478.80,74.50 L478.34,74.00 L477.92,73.50 L477.59,73.00 L477.37,72.50 L477.30,72.00 L477.29,71.50 L477.27,71.00 L477.23,70.50 L477.18,70.00 L477.11,69.50 L477.05,69.00 L476.99,68.50 L476.93,68.00 L476.87,67.50 L476.83,67.00 L476.81,66.50 L476.80,66.00 L476.83,65.50 L476.90,65.00 L477.02,64.50 L477.18,64.00 L477.36,63.50 L477.55,63.00 L477.74,62.50 L477.93,62.00 L478.08,61.50 L478.20,61.00 L478.27,60.50 L478.30,60.00 L478.39,59.50 L478.63,59.00 L479.02,58.50 L479.51,58.00 L480.05,57.50 L480.59,57.00 L481.08,56.50 L481.47,56.00 L481.71,55.50 L481.80,55.00 L481.93,54.50 L482.31,54.00 L482.88,53.50 L483.55,53.00 L484.22,52.50 L484.79,52.00 L485.17,51.50 L485.30,51.00 L485.77,50.42 L486.90,49.85 L488.03,49.28 L488.50,48.70 Z" fill="none" stroke="#3a2020" stroke-width="0.8" clip-path="url(#cc2)"/>
<g transform="translate(0.05 -0.45)"><text x="9.30" y="217.60" font-size="17.5" text-anchor="start" font-weight="bold" fill="#000" stroke="#000" stroke-width="0.0">D</text></g>
<line x1="73.75" y1="215.70" x2="73.75" y2="346.20" stroke="#1a1a1a" stroke-width="1.5"/>
<line x1="68.55" y1="216.30" x2="73.75" y2="216.30" stroke="#1a1a1a" stroke-width="1.5"/>
<text x="66.55" y="219.97" font-size="10.2" text-anchor="end" font-weight="normal" fill="#1c1c1c" stroke="#1c1c1c" stroke-width="0.3">15,000</text>
<line x1="68.55" y1="259.60" x2="73.75" y2="259.60" stroke="#1a1a1a" stroke-width="1.5"/>
<text x="66.55" y="263.27" font-size="10.2" text-anchor="end" font-weight="normal" fill="#1c1c1c" stroke="#1c1c1c" stroke-width="0.3">10,000</text>
<line x1="68.55" y1="302.90" x2="73.75" y2="302.90" stroke="#1a1a1a" stroke-width="1.5"/>
<text x="66.55" y="306.57" font-size="10.2" text-anchor="end" font-weight="normal" fill="#1c1c1c" stroke="#1c1c1c" stroke-width="0.3">5,000</text>
<line x1="68.55" y1="346.20" x2="73.75" y2="346.20" stroke="#1a1a1a" stroke-width="1.5"/>
<text x="66.55" y="349.87" font-size="10.2" text-anchor="end" font-weight="normal" fill="#1c1c1c" stroke="#1c1c1c" stroke-width="0.3">0</text>
<line x1="73.00" y1="346.20" x2="159.40" y2="346.20" stroke="#1a1a1a" stroke-width="1.5"/>
<line x1="98.30" y1="346.20" x2="98.30" y2="351.40" stroke="#1a1a1a" stroke-width="1.5"/>
<line x1="135.20" y1="346.20" x2="135.20" y2="351.40" stroke="#1a1a1a" stroke-width="1.5"/>
<g transform="translate(0.05 0.35)"><text x="30.50" y="280.60" font-size="10.5" text-anchor="middle" font-weight="normal" fill="#1c1c1c" stroke="#1c1c1c" stroke-width="0.3" transform="rotate(-90 30.50 280.60)" textLength="124.60" lengthAdjust="spacingAndGlyphs">IgA<tspan font-size="5.5" dy="-3.8">+</tspan><tspan dy="3.8"> cells/mm</tspan><tspan font-size="5.5" dy="-3.8">2</tspan><tspan dy="3.8"> PCK</tspan><tspan font-size="5.5" dy="-3.8">+</tspan><tspan dy="3.8"> tumor</tspan></text></g>
<g transform="translate(-0.50 -0.25)"><text x="0.00" y="362.70" font-size="9.6" text-anchor="start" font-weight="normal" fill="#1c1c1c" stroke="#1c1c1c" stroke-width="0.3" textLength="82.40" lengthAdjust="spacingAndGlyphs">MMR-protein absent:</text></g>
<g transform="translate(1.80 1.20)"><text x="99.70" y="358.00" font-size="9.6" text-anchor="end" font-weight="normal" fill="#1c1c1c" stroke="#1c1c1c" stroke-width="0.3" transform="rotate(-45 99.70 358.00)">No</text></g>
<g transform="translate(0.05 0.50)"><text x="136.70" y="358.00" font-size="9.0" text-anchor="end" font-weight="normal" fill="#1c1c1c" stroke="#1c1c1c" stroke-width="0.3" transform="rotate(-45 136.70 358.00)">One or more</text></g>
<line x1="101.30" y1="234.60" x2="130.20" y2="234.60" stroke="#888" stroke-width="1.1"/>
<g transform="translate(-0.15 -0.10)"><text x="116.30" y="231.80" font-size="11.5" text-anchor="middle" font-weight="normal" fill="#1c1c1c" stroke="#1c1c1c" stroke-width="0.3">ns</text></g>
<line x1="98.30" y1="244.20" x2="98.30" y2="346.00" stroke="#333" stroke-width="1.0"/>
<path d="M98.60,273.80 L98.66,274.32 L98.82,274.85 L99.06,275.38 L99.35,275.90 L99.64,276.43 L99.88,276.95 L100.04,277.48 L100.10,278.00 L100.15,278.50 L100.31,279.00 L100.53,279.50 L100.80,280.00 L101.07,280.50 L101.29,281.00 L101.45,281.50 L101.50,282.00 L101.57,282.50 L101.76,283.00 L102.06,283.50 L102.40,284.00 L102.74,284.50 L103.04,285.00 L103.23,285.50 L103.30,286.00 L103.41,286.50 L103.74,287.00 L104.23,287.50 L104.80,288.00 L105.37,288.50 L105.86,289.00 L106.19,289.50 L106.30,290.00 L106.41,290.50 L106.74,291.00 L107.23,291.50 L107.80,292.00 L108.37,292.50 L108.86,293.00 L109.19,293.50 L109.30,294.00 L109.32,294.50 L109.38,295.00 L109.48,295.50 L109.60,296.00 L109.74,296.50 L109.90,297.00 L110.06,297.50 L110.20,298.00 L110.32,298.50 L110.42,299.00 L110.48,299.50 L110.50,300.00 L110.50,300.50 L110.50,301.00 L110.50,301.50 L110.50,302.00 L110.50,302.50 L110.50,303.00 L110.50,303.50 L110.50,304.00 L110.50,304.50 L110.50,305.00 L110.50,305.50 L110.50,306.00 L110.50,306.50 L110.50,307.00 L110.50,307.50 L110.50,308.00 L110.50,308.50 L110.50,309.00 L110.47,309.50 L110.39,310.00 L110.25,310.50 L110.09,311.00 L109.90,311.50 L109.71,312.00 L109.55,312.50 L109.41,313.00 L109.33,313.50 L109.30,314.00 L109.26,314.50 L109.13,315.00 L108.93,315.50 L108.67,316.00 L108.37,316.50 L108.05,317.00 L107.73,317.50 L107.42,318.00 L107.17,318.50 L106.97,319.00 L106.84,319.50 L106.80,320.00 L106.76,320.50 L106.63,321.00 L106.42,321.50 L106.14,322.00 L105.81,322.50 L105.44,323.00 L105.05,323.50 L104.66,324.00 L104.29,324.50 L103.96,325.00 L103.68,325.50 L103.47,326.00 L103.34,326.50 L103.30,327.00 L103.28,327.50 L103.21,328.00 L103.10,328.50 L102.95,329.00 L102.76,329.50 L102.55,330.00 L102.31,330.50 L102.06,331.00 L101.80,331.50 L101.54,332.00 L101.29,332.50 L101.05,333.00 L100.84,333.50 L100.65,334.00 L100.50,334.50 L100.39,335.00 L100.32,335.50 L100.30,336.00 L100.29,336.50 L100.26,337.00 L100.20,337.50 L100.13,338.00 L100.04,338.50 L99.93,339.00 L99.81,339.50 L99.68,340.00 L99.54,340.50 L99.40,341.00 L99.26,341.50 L99.12,342.00 L98.99,342.50 L98.87,343.00 L98.76,343.50 L98.67,344.00 L98.60,344.50 L98.54,345.00 L98.51,345.50 L98.50,346.00 L98.10,346.00 L98.09,345.50 L98.06,345.00 L98.00,344.50 L97.93,344.00 L97.84,343.50 L97.73,343.00 L97.61,342.50 L97.48,342.00 L97.34,341.50 L97.20,341.00 L97.06,340.50 L96.92,340.00 L96.79,339.50 L96.67,339.00 L96.56,338.50 L96.47,338.00 L96.40,337.50 L96.34,337.00 L96.31,336.50 L96.30,336.00 L96.28,335.50 L96.21,335.00 L96.10,334.50 L95.95,334.00 L95.76,333.50 L95.55,333.00 L95.31,332.50 L95.06,332.00 L94.80,331.50 L94.54,331.00 L94.29,330.50 L94.05,330.00 L93.84,329.50 L93.65,329.00 L93.50,328.50 L93.39,328.00 L93.32,327.50 L93.30,327.00 L93.26,326.50 L93.13,326.00 L92.92,325.50 L92.64,325.00 L92.31,324.50 L91.94,324.00 L91.55,323.50 L91.16,323.00 L90.79,322.50 L90.46,322.00 L90.18,321.50 L89.97,321.00 L89.84,320.50 L89.80,320.00 L89.76,319.50 L89.63,319.00 L89.43,318.50 L89.17,318.00 L88.87,317.50 L88.55,317.00 L88.23,316.50 L87.92,316.00 L87.67,315.50 L87.47,315.00 L87.34,314.50 L87.30,314.00 L87.27,313.50 L87.19,313.00 L87.05,312.50 L86.89,312.00 L86.70,311.50 L86.51,311.00 L86.35,310.50 L86.21,310.00 L86.13,309.50 L86.10,309.00 L86.10,308.50 L86.10,308.00 L86.10,307.50 L86.10,307.00 L86.10,306.50 L86.10,306.00 L86.10,305.50 L86.10,305.00 L86.10,304.50 L86.10,304.00 L86.10,303.50 L86.10,303.00 L86.10,302.50 L86.10,302.00 L86.10,301.50 L86.10,301.00 L86.10,300.50 L86.10,300.00 L86.12,299.50 L86.18,299.00 L86.28,298.50 L86.40,298.00 L86.54,297.50 L86.70,297.00 L86.86,296.50 L87.00,296.00 L87.12,295.50 L87.22,295.00 L87.28,294.50 L87.30,294.00 L87.41,293.50 L87.74,293.00 L88.23,292.50 L88.80,292.00 L89.37,291.50 L89.86,291.00 L90.19,290.50 L90.30,290.00 L90.41,289.50 L90.74,289.00 L91.23,288.50 L91.80,288.00 L92.37,287.50 L92.86,287.00 L93.19,286.50 L93.30,286.00 L93.37,285.50 L93.56,285.00 L93.86,284.50 L94.20,284.00 L94.54,283.50 L94.84,283.00 L95.03,282.50 L95.10,282.00 L95.15,281.50 L95.31,281.00 L95.53,280.50 L95.80,280.00 L96.07,279.50 L96.29,279.00 L96.45,278.50 L96.50,278.00 L96.56,277.48 L96.72,276.95 L96.96,276.43 L97.25,275.90 L97.54,275.38 L97.78,274.85 L97.94,274.32 L98.00,273.80 Z" fill="#d6d6d6" fill-opacity="1.0" stroke="none"/>
<circle cx="98.30" cy="256.50" r="2.4" fill="#5656f6" fill-opacity="0.95" stroke="#2020d8" stroke-width="0.7" stroke-opacity="0.8"/>
<circle cx="98.30" cy="266.20" r="2.4" fill="#5656f6" fill-opacity="0.95" stroke="#2020d8" stroke-width="0.7" stroke-opacity="0.8"/>
<circle cx="98.30" cy="272.00" r="2.4" fill="#5656f6" fill-opacity="0.95" stroke="#2020d8" stroke-width="0.7" stroke-opacity="0.8"/>
<circle cx="90.20" cy="278.20" r="2.35" fill="#5656f6" fill-opacity="0.85" stroke="#2020d8" stroke-width="0.7" stroke-opacity="0.8"/>
<circle cx="105.90" cy="278.20" r="2.35" fill="#5656f6" fill-opacity="0.85" stroke="#2020d8" stroke-width="0.7" stroke-opacity="0.8"/>
<circle cx="98.00" cy="282.70" r="2.35" fill="#5656f6" fill-opacity="0.85" stroke="#2020d8" stroke-width="0.7" stroke-opacity="0.8"/>
<circle cx="87.60" cy="284.00" r="2.35" fill="#5656f6" fill-opacity="0.85" stroke="#2020d8" stroke-width="0.7" stroke-opacity="0.8"/>
<circle cx="108.10" cy="284.00" r="2.35" fill="#5656f6" fill-opacity="0.85" stroke="#2020d8" stroke-width="0.7" stroke-opacity="0.8"/>
<circle cx="106.80" cy="285.70" r="2.35" fill="#5656f6" fill-opacity="0.85" stroke="#2020d8" stroke-width="0.7" stroke-opacity="0.8"/>
<circle cx="89.80" cy="285.70" r="2.35" fill="#5656f6" fill-opacity="0.85" stroke="#2020d8" stroke-width="0.7" stroke-opacity="0.8"/>
<circle cx="89.80" cy="286.30" r="2.35" fill="#5656f6" fill-opacity="0.8" stroke="#2020d8" stroke-width="0.7" stroke-opacity="0.8"/>
<circle cx="93.20" cy="287.71" r="2.35" fill="#5656f6" fill-opacity="0.8" stroke="#2020d8" stroke-width="0.7" stroke-opacity="0.8"/>
<circle cx="96.60" cy="288.41" r="2.35" fill="#5656f6" fill-opacity="0.8" stroke="#2020d8" stroke-width="0.7" stroke-opacity="0.8"/>
<circle cx="100.00" cy="288.41" r="2.35" fill="#5656f6" fill-opacity="0.8" stroke="#2020d8" stroke-width="0.7" stroke-opacity="0.8"/>
<circle cx="103.40" cy="287.71" r="2.35" fill="#5656f6" fill-opacity="0.8" stroke="#2020d8" stroke-width="0.7" stroke-opacity="0.8"/>
<circle cx="106.80" cy="286.30" r="2.35" fill="#5656f6" fill-opacity="0.8" stroke="#2020d8" stroke-width="0.7" stroke-opacity="0.8"/>
<circle cx="89.30" cy="288.00" r="2.35" fill="#5656f6" fill-opacity="0.8" stroke="#2020d8" stroke-width="0.7" stroke-opacity="0.8"/>
<circle cx="92.90" cy="289.41" r="2.35" fill="#5656f6" fill-opacity="0.8" stroke="#2020d8" stroke-width="0.7" stroke-opacity="0.8"/>
<circle cx="96.50" cy="290.11" r="2.35" fill="#5656f6" fill-opacity="0.8" stroke="#2020d8" stroke-width="0.7" stroke-opacity="0.8"/>
<circle cx="100.10" cy="290.11" r="2.35" fill="#5656f6" fill-opacity="0.8" stroke="#2020d8" stroke-width="0.7" stroke-opacity="0.8"/>
<circle cx="103.70" cy="289.41" r="2.35" fill="#5656f6" fill-opacity="0.8" stroke="#2020d8" stroke-width="0.7" stroke-opacity="0.8"/>
<circle cx="107.30" cy="288.00" r="2.35" fill="#5656f6" fill-opacity="0.8" stroke="#2020d8" stroke-width="0.7" stroke-opacity="0.8"/>
<circle cx="86.90" cy="290.30" r="2.35" fill="#5656f6" fill-opacity="0.85" stroke="#2020d8" stroke-width="0.7" stroke-opacity="0.8"/>
<circle cx="109.50" cy="290.30" r="2.35" fill="#5656f6" fill-opacity="0.85" stroke="#2020d8" stroke-width="0.7" stroke-opacity="0.8"/>
<path d="M87.10,292.40 L89.90,292.92 L92.70,293.30 L95.50,293.52 L98.30,293.60 L101.10,293.52 L103.90,293.30 L106.70,292.92 L109.50,292.40 L109.50,297.40 L106.70,297.92 L103.90,298.30 L101.10,298.52 L98.30,298.60 L95.50,298.52 L92.70,298.30 L89.90,297.92 L87.10,297.40 Z" fill="#2424f2"/>
<circle cx="87.30" cy="293.55" r="2.3" fill="#2424f2"/>
<circle cx="109.30" cy="293.55" r="2.3" fill="#2424f2"/>
<path d="M87.10,298.60 L89.90,299.12 L92.70,299.50 L95.50,299.73 L98.30,299.80 L101.10,299.73 L103.90,299.50 L106.70,299.12 L109.50,298.60 L109.50,302.60 L106.70,303.12 L103.90,303.50 L101.10,303.73 L98.30,303.80 L95.50,303.73 L92.70,303.50 L89.90,303.12 L87.10,302.60 Z" fill="#2424f2"/>
<circle cx="87.30" cy="299.75" r="2.3" fill="#2424f2"/>
<circle cx="109.30" cy="299.75" r="2.3" fill="#2424f2"/>
<path d="M87.10,303.90 L89.90,304.34 L92.70,304.65 L95.50,304.84 L98.30,304.90 L101.10,304.84 L103.90,304.65 L106.70,304.34 L109.50,303.90 L109.50,308.80 L106.70,309.24 L103.90,309.55 L101.10,309.74 L98.30,309.80 L95.50,309.74 L92.70,309.55 L89.90,309.24 L87.10,308.80 Z" fill="#2424f2"/>
<circle cx="87.30" cy="305.05" r="2.3" fill="#2424f2"/>
<circle cx="109.30" cy="305.05" r="2.3" fill="#2424f2"/>
<circle cx="87.20" cy="308.40" r="2.35" fill="#5656f6" fill-opacity="0.85" stroke="#2020d8" stroke-width="0.7" stroke-opacity="0.8"/>
<circle cx="108.80" cy="308.40" r="2.35" fill="#5656f6" fill-opacity="0.85" stroke="#2020d8" stroke-width="0.7" stroke-opacity="0.8"/>
<circle cx="89.30" cy="309.60" r="2.35" fill="#5656f6" fill-opacity="0.8" stroke="#2020d8" stroke-width="0.7" stroke-opacity="0.8"/>
<circle cx="92.90" cy="310.40" r="2.35" fill="#5656f6" fill-opacity="0.8" stroke="#2020d8" stroke-width="0.7" stroke-opacity="0.8"/>
<circle cx="96.50" cy="311.20" r="2.35" fill="#5656f6" fill-opacity="0.8" stroke="#2020d8" stroke-width="0.7" stroke-opacity="0.8"/>
<circle cx="100.10" cy="311.20" r="2.35" fill="#5656f6" fill-opacity="0.8" stroke="#2020d8" stroke-width="0.7" stroke-opacity="0.8"/>
<circle cx="103.70" cy="310.40" r="2.35" fill="#5656f6" fill-opacity="0.8" stroke="#2020d8" stroke-width="0.7" stroke-opacity="0.8"/>
<circle cx="107.30" cy="309.60" r="2.35" fill="#5656f6" fill-opacity="0.8" stroke="#2020d8" stroke-width="0.7" stroke-opacity="0.8"/>
<circle cx="89.30" cy="311.00" r="2.35" fill="#5656f6" fill-opacity="0.8" stroke="#2020d8" stroke-width="0.7" stroke-opacity="0.8"/>
<circle cx="92.90" cy="311.80" r="2.35" fill="#5656f6" fill-opacity="0.8" stroke="#2020d8" stroke-width="0.7" stroke-opacity="0.8"/>
<circle cx="96.50" cy="312.60" r="2.35" fill="#5656f6" fill-opacity="0.8" stroke="#2020d8" stroke-width="0.7" stroke-opacity="0.8"/>
<circle cx="100.10" cy="312.60" r="2.35" fill="#5656f6" fill-opacity="0.8" stroke="#2020d8" stroke-width="0.7" stroke-opacity="0.8"/>
<circle cx="103.70" cy="311.80" r="2.35" fill="#5656f6" fill-opacity="0.8" stroke="#2020d8" stroke-width="0.7" stroke-opacity="0.8"/>
<circle cx="107.30" cy="311.00" r="2.35" fill="#5656f6" fill-opacity="0.8" stroke="#2020d8" stroke-width="0.7" stroke-opacity="0.8"/>
<circle cx="87.60" cy="314.80" r="2.35" fill="#5656f6" fill-opacity="0.85" stroke="#2020d8" stroke-width="0.7" stroke-opacity="0.8"/>
<circle cx="108.80" cy="314.80" r="2.35" fill="#5656f6" fill-opacity="0.85" stroke="#2020d8" stroke-width="0.7" stroke-opacity="0.8"/>
<circle cx="86.90" cy="316.80" r="2.35" fill="#5656f6" fill-opacity="0.8" stroke="#2020d8" stroke-width="0.7" stroke-opacity="0.8"/>
<circle cx="90.70" cy="317.47" r="2.35" fill="#5656f6" fill-opacity="0.8" stroke="#2020d8" stroke-width="0.7" stroke-opacity="0.8"/>
<circle cx="94.50" cy="317.87" r="2.35" fill="#5656f6" fill-opacity="0.8" stroke="#2020d8" stroke-width="0.7" stroke-opacity="0.8"/>
<circle cx="98.30" cy="318.00" r="2.35" fill="#5656f6" fill-opacity="0.8" stroke="#2020d8" stroke-width="0.7" stroke-opacity="0.8"/>
<circle cx="102.10" cy="317.87" r="2.35" fill="#5656f6" fill-opacity="0.8" stroke="#2020d8" stroke-width="0.7" stroke-opacity="0.8"/>
<circle cx="105.90" cy="317.47" r="2.35" fill="#5656f6" fill-opacity="0.8" stroke="#2020d8" stroke-width="0.7" stroke-opacity="0.8"/>
<circle cx="109.70" cy="316.80" r="2.35" fill="#5656f6" fill-opacity="0.8" stroke="#2020d8" stroke-width="0.7" stroke-opacity="0.8"/>
<circle cx="87.30" cy="318.20" r="2.35" fill="#5656f6" fill-opacity="0.8" stroke="#2020d8" stroke-width="0.7" stroke-opacity="0.8"/>
<circle cx="90.97" cy="318.87" r="2.35" fill="#5656f6" fill-opacity="0.8" stroke="#2020d8" stroke-width="0.7" stroke-opacity="0.8"/>
<circle cx="94.63" cy="319.27" r="2.35" fill="#5656f6" fill-opacity="0.8" stroke="#2020d8" stroke-width="0.7" stroke-opacity="0.8"/>
<circle cx="98.30" cy="319.40" r="2.35" fill="#5656f6" fill-opacity="0.8" stroke="#2020d8" stroke-width="0.7" stroke-opacity="0.8"/>
<circle cx="101.97" cy="319.27" r="2.35" fill="#5656f6" fill-opacity="0.8" stroke="#2020d8" stroke-width="0.7" stroke-opacity="0.8"/>
<circle cx="105.63" cy="318.87" r="2.35" fill="#5656f6" fill-opacity="0.8" stroke="#2020d8" stroke-width="0.7" stroke-opacity="0.8"/>
<circle cx="109.30" cy="318.20" r="2.35" fill="#5656f6" fill-opacity="0.8" stroke="#2020d8" stroke-width="0.7" stroke-opacity="0.8"/>
<circle cx="90.10" cy="321.60" r="2.35" fill="#5656f6" fill-opacity="0.8" stroke="#2020d8" stroke-width="0.7" stroke-opacity="0.8"/>
<circle cx="94.20" cy="322.70" r="2.35" fill="#5656f6" fill-opacity="0.8" stroke="#2020d8" stroke-width="0.7" stroke-opacity="0.8"/>
<circle cx="98.30" cy="323.80" r="2.35" fill="#5656f6" fill-opacity="0.8" stroke="#2020d8" stroke-width="0.7" stroke-opacity="0.8"/>
<circle cx="102.40" cy="322.70" r="2.35" fill="#5656f6" fill-opacity="0.8" stroke="#2020d8" stroke-width="0.7" stroke-opacity="0.8"/>
<circle cx="106.50" cy="321.60" r="2.35" fill="#5656f6" fill-opacity="0.8" stroke="#2020d8" stroke-width="0.7" stroke-opacity="0.8"/>
<circle cx="90.80" cy="323.40" r="2.35" fill="#5656f6" fill-opacity="0.8" stroke="#2020d8" stroke-width="0.7" stroke-opacity="0.8"/>
<circle cx="94.55" cy="324.50" r="2.35" fill="#5656f6" fill-opacity="0.8" stroke="#2020d8" stroke-width="0.7" stroke-opacity="0.8"/>
<circle cx="98.30" cy="325.60" r="2.35" fill="#5656f6" fill-opacity="0.8" stroke="#2020d8" stroke-width="0.7" stroke-opacity="0.8"/>
<circle cx="102.05" cy="324.50" r="2.35" fill="#5656f6" fill-opacity="0.8" stroke="#2020d8" stroke-width="0.7" stroke-opacity="0.8"/>
<circle cx="105.80" cy="323.40" r="2.35" fill="#5656f6" fill-opacity="0.8" stroke="#2020d8" stroke-width="0.7" stroke-opacity="0.8"/>
<circle cx="92.80" cy="325.00" r="2.35" fill="#5656f6" fill-opacity="0.8" stroke="#2020d8" stroke-width="0.7" stroke-opacity="0.8"/>
<circle cx="96.47" cy="326.00" r="2.35" fill="#5656f6" fill-opacity="0.8" stroke="#2020d8" stroke-width="0.7" stroke-opacity="0.8"/>
<circle cx="100.13" cy="326.00" r="2.35" fill="#5656f6" fill-opacity="0.8" stroke="#2020d8" stroke-width="0.7" stroke-opacity="0.8"/>
<circle cx="103.80" cy="325.00" r="2.35" fill="#5656f6" fill-opacity="0.8" stroke="#2020d8" stroke-width="0.7" stroke-opacity="0.8"/>
<circle cx="87.90" cy="327.90" r="2.35" fill="#5656f6" fill-opacity="0.85" stroke="#2020d8" stroke-width="0.7" stroke-opacity="0.8"/>
<circle cx="108.50" cy="327.90" r="2.35" fill="#5656f6" fill-opacity="0.85" stroke="#2020d8" stroke-width="0.7" stroke-opacity="0.8"/>
<circle cx="92.80" cy="329.20" r="2.35" fill="#5656f6" fill-opacity="0.85" stroke="#2020d8" stroke-width="0.7" stroke-opacity="0.8"/>
<circle cx="103.60" cy="329.20" r="2.35" fill="#5656f6" fill-opacity="0.85" stroke="#2020d8" stroke-width="0.7" stroke-opacity="0.8"/>
<circle cx="98.30" cy="331.20" r="2.35" fill="#5656f6" fill-opacity="0.85" stroke="#2020d8" stroke-width="0.7" stroke-opacity="0.8"/>
<circle cx="98.30" cy="334.20" r="2.35" fill="#5656f6" fill-opacity="0.85" stroke="#2020d8" stroke-width="0.7" stroke-opacity="0.8"/>
<circle cx="87.90" cy="340.60" r="2.35" fill="#5656f6" fill-opacity="0.85" stroke="#2020d8" stroke-width="0.7" stroke-opacity="0.8"/>
<circle cx="94.40" cy="340.80" r="2.35" fill="#5656f6" fill-opacity="0.85" stroke="#2020d8" stroke-width="0.7" stroke-opacity="0.8"/>
<circle cx="101.90" cy="340.80" r="2.35" fill="#5656f6" fill-opacity="0.85" stroke="#2020d8" stroke-width="0.7" stroke-opacity="0.8"/>
<circle cx="108.50" cy="340.60" r="2.35" fill="#5656f6" fill-opacity="0.85" stroke="#2020d8" stroke-width="0.7" stroke-opacity="0.8"/>
<path d="M98.60,273.80 L98.66,274.32 L98.82,274.85 L99.06,275.38 L99.35,275.90 L99.64,276.43 L99.88,276.95 L100.04,277.48 L100.10,278.00 L100.15,278.50 L100.31,279.00 L100.53,279.50 L100.80,280.00 L101.07,280.50 L101.29,281.00 L101.45,281.50 L101.50,282.00 L101.57,282.50 L101.76,283.00 L102.06,283.50 L102.40,284.00 L102.74,284.50 L103.04,285.00 L103.23,285.50 L103.30,286.00 L103.41,286.50 L103.74,287.00 L104.23,287.50 L104.80,288.00 L105.37,288.50 L105.86,289.00 L106.19,289.50 L106.30,290.00 L106.41,290.50 L106.74,291.00 L107.23,291.50 L107.80,292.00 L108.37,292.50 L108.86,293.00 L109.19,293.50 L109.30,294.00 L109.32,294.50 L109.38,295.00 L109.48,295.50 L109.60,296.00 L109.74,296.50 L109.90,297.00 L110.06,297.50 L110.20,298.00 L110.32,298.50 L110.42,299.00 L110.48,299.50 L110.50,300.00 L110.50,300.50 L110.50,301.00 L110.50,301.50 L110.50,302.00 L110.50,302.50 L110.50,303.00 L110.50,303.50 L110.50,304.00 L110.50,304.50 L110.50,305.00 L110.50,305.50 L110.50,306.00 L110.50,306.50 L110.50,307.00 L110.50,307.50 L110.50,308.00 L110.50,308.50 L110.50,309.00 L110.47,309.50 L110.39,310.00 L110.25,310.50 L110.09,311.00 L109.90,311.50 L109.71,312.00 L109.55,312.50 L109.41,313.00 L109.33,313.50 L109.30,314.00 L109.26,314.50 L109.13,315.00 L108.93,315.50 L108.67,316.00 L108.37,316.50 L108.05,317.00 L107.73,317.50 L107.42,318.00 L107.17,318.50 L106.97,319.00 L106.84,319.50 L106.80,320.00 L106.76,320.50 L106.63,321.00 L106.42,321.50 L106.14,322.00 L105.81,322.50 L105.44,323.00 L105.05,323.50 L104.66,324.00 L104.29,324.50 L103.96,325.00 L103.68,325.50 L103.47,326.00 L103.34,326.50 L103.30,327.00 L103.28,327.50 L103.21,328.00 L103.10,328.50 L102.95,329.00 L102.76,329.50 L102.55,330.00 L102.31,330.50 L102.06,331.00 L101.80,331.50 L101.54,332.00 L101.29,332.50 L101.05,333.00 L100.84,333.50 L100.65,334.00 L100.50,334.50 L100.39,335.00 L100.32,335.50 L100.30,336.00 L100.29,336.50 L100.26,337.00 L100.20,337.50 L100.13,338.00 L100.04,338.50 L99.93,339.00 L99.81,339.50 L99.68,340.00 L99.54,340.50 L99.40,341.00 L99.26,341.50 L99.12,342.00 L98.99,342.50 L98.87,343.00 L98.76,343.50 L98.67,344.00 L98.60,344.50 L98.54,345.00 L98.51,345.50 L98.50,346.00 L98.10,346.00 L98.09,345.50 L98.06,345.00 L98.00,344.50 L97.93,344.00 L97.84,343.50 L97.73,343.00 L97.61,342.50 L97.48,342.00 L97.34,341.50 L97.20,341.00 L97.06,340.50 L96.92,340.00 L96.79,339.50 L96.67,339.00 L96.56,338.50 L96.47,338.00 L96.40,337.50 L96.34,337.00 L96.31,336.50 L96.30,336.00 L96.28,335.50 L96.21,335.00 L96.10,334.50 L95.95,334.00 L95.76,333.50 L95.55,333.00 L95.31,332.50 L95.06,332.00 L94.80,331.50 L94.54,331.00 L94.29,330.50 L94.05,330.00 L93.84,329.50 L93.65,329.00 L93.50,328.50 L93.39,328.00 L93.32,327.50 L93.30,327.00 L93.26,326.50 L93.13,326.00 L92.92,325.50 L92.64,325.00 L92.31,324.50 L91.94,324.00 L91.55,323.50 L91.16,323.00 L90.79,322.50 L90.46,322.00 L90.18,321.50 L89.97,321.00 L89.84,320.50 L89.80,320.00 L89.76,319.50 L89.63,319.00 L89.43,318.50 L89.17,318.00 L88.87,317.50 L88.55,317.00 L88.23,316.50 L87.92,316.00 L87.67,315.50 L87.47,315.00 L87.34,314.50 L87.30,314.00 L87.27,313.50 L87.19,313.00 L87.05,312.50 L86.89,312.00 L86.70,311.50 L86.51,311.00 L86.35,310.50 L86.21,310.00 L86.13,309.50 L86.10,309.00 L86.10,308.50 L86.10,308.00 L86.10,307.50 L86.10,307.00 L86.10,306.50 L86.10,306.00 L86.10,305.50 L86.10,305.00 L86.10,304.50 L86.10,304.00 L86.10,303.50 L86.10,303.00 L86.10,302.50 L86.10,302.00 L86.10,301.50 L86.10,301.00 L86.10,300.50 L86.10,300.00 L86.12,299.50 L86.18,299.00 L86.28,298.50 L86.40,298.00 L86.54,297.50 L86.70,297.00 L86.86,296.50 L87.00,296.00 L87.12,295.50 L87.22,295.00 L87.28,294.50 L87.30,294.00 L87.41,293.50 L87.74,293.00 L88.23,292.50 L88.80,292.00 L89.37,291.50 L89.86,291.00 L90.19,290.50 L90.30,290.00 L90.41,289.50 L90.74,289.00 L91.23,288.50 L91.80,288.00 L92.37,287.50 L92.86,287.00 L93.19,286.50 L93.30,286.00 L93.37,285.50 L93.56,285.00 L93.86,284.50 L94.20,284.00 L94.54,283.50 L94.84,283.00 L95.03,282.50 L95.10,282.00 L95.15,281.50 L95.31,281.00 L95.53,280.50 L95.80,280.00 L96.07,279.50 L96.29,279.00 L96.45,278.50 L96.50,278.00 L96.56,277.48 L96.72,276.95 L96.96,276.43 L97.25,275.90 L97.54,275.38 L97.78,274.85 L97.94,274.32 L98.00,273.80 Z" fill="none" stroke="#3a3a3a" stroke-width="0.9"/>
<line x1="135.20" y1="256.90" x2="135.20" y2="346.00" stroke="#333" stroke-width="1.0"/>
<path d="M135.50,262.00 L135.56,262.50 L135.75,263.00 L136.02,263.50 L136.35,264.00 L136.68,264.50 L136.95,265.00 L137.14,265.50 L137.20,266.00 L137.26,266.50 L137.44,267.00 L137.72,267.50 L138.06,268.00 L138.45,268.50 L138.84,269.00 L139.18,269.50 L139.46,270.00 L139.64,270.50 L139.70,271.00 L139.74,271.50 L139.84,272.00 L140.01,272.50 L140.22,273.00 L140.45,273.50 L140.68,274.00 L140.89,274.50 L141.06,275.00 L141.16,275.50 L141.20,276.00 L141.20,276.50 L141.21,277.00 L141.22,277.50 L141.23,278.00 L141.24,278.50 L141.26,279.00 L141.28,279.50 L141.30,280.00 L141.32,280.50 L141.34,281.00 L141.36,281.50 L141.37,282.00 L141.38,282.50 L141.39,283.00 L141.40,283.50 L141.40,284.00 L141.40,284.50 L141.40,285.00 L141.41,285.50 L141.41,286.00 L141.42,286.50 L141.43,287.00 L141.44,287.50 L141.45,288.00 L141.46,288.50 L141.47,289.00 L141.48,289.50 L141.49,290.00 L141.49,290.50 L141.50,291.00 L141.50,291.50 L141.50,292.00 L141.52,292.50 L141.57,293.00 L141.65,293.50 L141.75,294.00 L141.87,294.50 L142.00,295.00 L142.13,295.50 L142.25,296.00 L142.35,296.50 L142.43,297.00 L142.48,297.50 L142.50,298.00 L142.54,298.50 L142.66,299.00 L142.85,299.50 L143.09,300.00 L143.35,300.50 L143.61,301.00 L143.85,301.50 L144.04,302.00 L144.16,302.50 L144.20,303.00 L144.26,303.52 L144.43,304.05 L144.70,304.57 L145.05,305.10 L145.46,305.62 L145.90,306.15 L146.34,306.68 L146.75,307.20 L147.10,307.73 L147.37,308.25 L147.54,308.78 L147.60,309.30 L147.57,309.82 L147.46,310.33 L147.30,310.85 L147.08,311.36 L146.83,311.88 L146.54,312.39 L146.26,312.91 L145.97,313.42 L145.72,313.94 L145.50,314.45 L145.34,314.97 L145.23,315.48 L145.20,316.00 L145.17,316.50 L145.10,317.00 L144.98,317.50 L144.82,318.00 L144.63,318.50 L144.42,319.00 L144.20,319.50 L143.98,320.00 L143.77,320.50 L143.58,321.00 L143.42,321.50 L143.30,322.00 L143.23,322.50 L143.20,323.00 L143.17,323.50 L143.08,324.00 L142.93,324.50 L142.73,325.00 L142.49,325.50 L142.23,326.00 L141.95,326.50 L141.67,327.00 L141.41,327.50 L141.17,328.00 L140.97,328.50 L140.82,329.00 L140.73,329.50 L140.70,330.00 L140.66,330.50 L140.56,331.00 L140.39,331.50 L140.17,332.00 L139.92,332.50 L139.65,333.00 L139.38,333.50 L139.12,334.00 L138.91,334.50 L138.74,335.00 L138.64,335.50 L138.60,336.00 L138.56,336.50 L138.43,337.00 L138.23,337.50 L137.98,338.00 L137.70,338.50 L137.42,339.00 L137.17,339.50 L136.97,340.00 L136.84,340.50 L136.80,341.00 L136.76,341.50 L136.64,342.00 L136.45,342.50 L136.22,343.00 L135.98,343.50 L135.75,344.00 L135.56,344.50 L135.44,345.00 L135.40,345.50 L135.00,345.50 L134.96,345.00 L134.84,344.50 L134.65,344.00 L134.42,343.50 L134.18,343.00 L133.95,342.50 L133.76,342.00 L133.64,341.50 L133.60,341.00 L133.56,340.50 L133.43,340.00 L133.23,339.50 L132.98,339.00 L132.70,338.50 L132.42,338.00 L132.17,337.50 L131.97,337.00 L131.84,336.50 L131.80,336.00 L131.76,335.50 L131.66,335.00 L131.49,334.50 L131.27,334.00 L131.02,333.50 L130.75,333.00 L130.48,332.50 L130.22,332.00 L130.01,331.50 L129.84,331.00 L129.74,330.50 L129.70,330.00 L129.67,329.50 L129.58,329.00 L129.43,328.50 L129.23,328.00 L128.99,327.50 L128.73,327.00 L128.45,326.50 L128.17,326.00 L127.91,325.50 L127.67,325.00 L127.47,324.50 L127.32,324.00 L127.23,323.50 L127.20,323.00 L127.17,322.50 L127.10,322.00 L126.98,321.50 L126.82,321.00 L126.63,320.50 L126.42,320.00 L126.20,319.50 L125.98,319.00 L125.77,318.50 L125.58,318.00 L125.42,317.50 L125.30,317.00 L125.23,316.50 L125.20,316.00 L125.17,315.48 L125.06,314.97 L124.90,314.45 L124.68,313.94 L124.43,313.42 L124.14,312.91 L123.86,312.39 L123.57,311.88 L123.32,311.36 L123.10,310.85 L122.94,310.33 L122.83,309.82 L122.80,309.30 L122.86,308.78 L123.03,308.25 L123.30,307.73 L123.65,307.20 L124.06,306.68 L124.50,306.15 L124.94,305.62 L125.35,305.10 L125.70,304.57 L125.97,304.05 L126.14,303.52 L126.20,303.00 L126.24,302.50 L126.36,302.00 L126.55,301.50 L126.79,301.00 L127.05,300.50 L127.31,300.00 L127.55,299.50 L127.74,299.00 L127.86,298.50 L127.90,298.00 L127.92,297.50 L127.97,297.00 L128.05,296.50 L128.15,296.00 L128.27,295.50 L128.40,295.00 L128.53,294.50 L128.65,294.00 L128.75,293.50 L128.83,293.00 L128.88,292.50 L128.90,292.00 L128.90,291.50 L128.90,291.00 L128.91,290.50 L128.91,290.00 L128.92,289.50 L128.93,289.00 L128.94,288.50 L128.95,288.00 L128.96,287.50 L128.97,287.00 L128.98,286.50 L128.99,286.00 L128.99,285.50 L129.00,285.00 L129.00,284.50 L129.00,284.00 L129.00,283.50 L129.01,283.00 L129.02,282.50 L129.03,282.00 L129.04,281.50 L129.06,281.00 L129.08,280.50 L129.10,280.00 L129.12,279.50 L129.14,279.00 L129.16,278.50 L129.17,278.00 L129.18,277.50 L129.19,277.00 L129.20,276.50 L129.20,276.00 L129.24,275.50 L129.34,275.00 L129.51,274.50 L129.72,274.00 L129.95,273.50 L130.18,273.00 L130.39,272.50 L130.56,272.00 L130.66,271.50 L130.70,271.00 L130.76,270.50 L130.94,270.00 L131.22,269.50 L131.56,269.00 L131.95,268.50 L132.34,268.00 L132.68,267.50 L132.96,267.00 L133.14,266.50 L133.20,266.00 L133.26,265.50 L133.45,265.00 L133.72,264.50 L134.05,264.00 L134.38,263.50 L134.65,263.00 L134.84,262.50 L134.90,262.00 Z" fill="#d6d6d6" fill-opacity="1.0" stroke="none"/>
<rect x="125.15" y="273.25" width="4.5" height="4.5" fill="#f03c40" fill-opacity="0.85" stroke="#f27a86" stroke-width="0.6" stroke-opacity="0.8"/>
<rect x="132.95" y="277.45" width="4.5" height="4.5" fill="#f03c40" fill-opacity="0.85" stroke="#f27a86" stroke-width="0.6" stroke-opacity="0.8"/>
<rect x="141.05" y="276.75" width="4.5" height="4.5" fill="#f03c40" fill-opacity="0.85" stroke="#f27a86" stroke-width="0.6" stroke-opacity="0.8"/>
<rect x="132.95" y="284.95" width="4.5" height="4.5" fill="#f03c40" fill-opacity="0.85" stroke="#f27a86" stroke-width="0.6" stroke-opacity="0.8"/>
<rect x="137.35" y="289.15" width="4.5" height="4.5" fill="#f03c40" fill-opacity="0.85" stroke="#f27a86" stroke-width="0.6" stroke-opacity="0.8"/>
<rect x="129.25" y="292.55" width="4.5" height="4.5" fill="#f03c40" fill-opacity="0.85" stroke="#f27a86" stroke-width="0.6" stroke-opacity="0.8"/>
<rect x="125.15" y="300.85" width="4.5" height="4.5" fill="#f03c40" fill-opacity="0.85" stroke="#f27a86" stroke-width="0.6" stroke-opacity="0.8"/>
<rect x="132.95" y="304.05" width="4.5" height="4.5" fill="#f03c40" fill-opacity="0.85" stroke="#f27a86" stroke-width="0.6" stroke-opacity="0.8"/>
<rect x="140.55" y="301.55" width="4.5" height="4.5" fill="#f03c40" fill-opacity="0.85" stroke="#f27a86" stroke-width="0.6" stroke-opacity="0.8"/>
<rect x="122.95" y="309.75" width="4.5" height="4.5" fill="#f03c40" fill-opacity="0.85" stroke="#f27a86" stroke-width="0.6" stroke-opacity="0.8"/>
<rect x="129.55" y="311.45" width="4.5" height="4.5" fill="#f03c40" fill-opacity="0.85" stroke="#f27a86" stroke-width="0.6" stroke-opacity="0.8"/>
<rect x="136.75" y="310.95" width="4.5" height="4.5" fill="#f03c40" fill-opacity="0.85" stroke="#f27a86" stroke-width="0.6" stroke-opacity="0.8"/>
<rect x="143.45" y="309.75" width="4.5" height="4.5" fill="#f03c40" fill-opacity="0.85" stroke="#f27a86" stroke-width="0.6" stroke-opacity="0.8"/>
<rect x="132.95" y="316.05" width="4.5" height="4.5" fill="#f03c40" fill-opacity="0.85" stroke="#f27a86" stroke-width="0.6" stroke-opacity="0.8"/>
<rect x="129.25" y="322.25" width="4.5" height="4.5" fill="#f03c40" fill-opacity="0.85" stroke="#f27a86" stroke-width="0.6" stroke-opacity="0.8"/>
<rect x="137.15" y="321.55" width="4.5" height="4.5" fill="#f03c40" fill-opacity="0.85" stroke="#f27a86" stroke-width="0.6" stroke-opacity="0.8"/>
<rect x="137.15" y="329.15" width="4.5" height="4.5" fill="#f03c40" fill-opacity="0.85" stroke="#f27a86" stroke-width="0.6" stroke-opacity="0.8"/>
<rect x="129.55" y="331.85" width="4.5" height="4.5" fill="#f03c40" fill-opacity="0.85" stroke="#f27a86" stroke-width="0.6" stroke-opacity="0.8"/>
<path d="M135.50,262.00 L135.56,262.50 L135.75,263.00 L136.02,263.50 L136.35,264.00 L136.68,264.50 L136.95,265.00 L137.14,265.50 L137.20,266.00 L137.26,266.50 L137.44,267.00 L137.72,267.50 L138.06,268.00 L138.45,268.50 L138.84,269.00 L139.18,269.50 L139.46,270.00 L139.64,270.50 L139.70,271.00 L139.74,271.50 L139.84,272.00 L140.01,272.50 L140.22,273.00 L140.45,273.50 L140.68,274.00 L140.89,274.50 L141.06,275.00 L141.16,275.50 L141.20,276.00 L141.20,276.50 L141.21,277.00 L141.22,277.50 L141.23,278.00 L141.24,278.50 L141.26,279.00 L141.28,279.50 L141.30,280.00 L141.32,280.50 L141.34,281.00 L141.36,281.50 L141.37,282.00 L141.38,282.50 L141.39,283.00 L141.40,283.50 L141.40,284.00 L141.40,284.50 L141.40,285.00 L141.41,285.50 L141.41,286.00 L141.42,286.50 L141.43,287.00 L141.44,287.50 L141.45,288.00 L141.46,288.50 L141.47,289.00 L141.48,289.50 L141.49,290.00 L141.49,290.50 L141.50,291.00 L141.50,291.50 L141.50,292.00 L141.52,292.50 L141.57,293.00 L141.65,293.50 L141.75,294.00 L141.87,294.50 L142.00,295.00 L142.13,295.50 L142.25,296.00 L142.35,296.50 L142.43,297.00 L142.48,297.50 L142.50,298.00 L142.54,298.50 L142.66,299.00 L142.85,299.50 L143.09,300.00 L143.35,300.50 L143.61,301.00 L143.85,301.50 L144.04,302.00 L144.16,302.50 L144.20,303.00 L144.26,303.52 L144.43,304.05 L144.70,304.57 L145.05,305.10 L145.46,305.62 L145.90,306.15 L146.34,306.68 L146.75,307.20 L147.10,307.73 L147.37,308.25 L147.54,308.78 L147.60,309.30 L147.57,309.82 L147.46,310.33 L147.30,310.85 L147.08,311.36 L146.83,311.88 L146.54,312.39 L146.26,312.91 L145.97,313.42 L145.72,313.94 L145.50,314.45 L145.34,314.97 L145.23,315.48 L145.20,316.00 L145.17,316.50 L145.10,317.00 L144.98,317.50 L144.82,318.00 L144.63,318.50 L144.42,319.00 L144.20,319.50 L143.98,320.00 L143.77,320.50 L143.58,321.00 L143.42,321.50 L143.30,322.00 L143.23,322.50 L143.20,323.00 L143.17,323.50 L143.08,324.00 L142.93,324.50 L142.73,325.00 L142.49,325.50 L142.23,326.00 L141.95,326.50 L141.67,327.00 L141.41,327.50 L141.17,328.00 L140.97,328.50 L140.82,329.00 L140.73,329.50 L140.70,330.00 L140.66,330.50 L140.56,331.00 L140.39,331.50 L140.17,332.00 L139.92,332.50 L139.65,333.00 L139.38,333.50 L139.12,334.00 L138.91,334.50 L138.74,335.00 L138.64,335.50 L138.60,336.00 L138.56,336.50 L138.43,337.00 L138.23,337.50 L137.98,338.00 L137.70,338.50 L137.42,339.00 L137.17,339.50 L136.97,340.00 L136.84,340.50 L136.80,341.00 L136.76,341.50 L136.64,342.00 L136.45,342.50 L136.22,343.00 L135.98,343.50 L135.75,344.00 L135.56,344.50 L135.44,345.00 L135.40,345.50 L135.00,345.50 L134.96,345.00 L134.84,344.50 L134.65,344.00 L134.42,343.50 L134.18,343.00 L133.95,342.50 L133.76,342.00 L133.64,341.50 L133.60,341.00 L133.56,340.50 L133.43,340.00 L133.23,339.50 L132.98,339.00 L132.70,338.50 L132.42,338.00 L132.17,337.50 L131.97,337.00 L131.84,336.50 L131.80,336.00 L131.76,335.50 L131.66,335.00 L131.49,334.50 L131.27,334.00 L131.02,333.50 L130.75,333.00 L130.48,332.50 L130.22,332.00 L130.01,331.50 L129.84,331.00 L129.74,330.50 L129.70,330.00 L129.67,329.50 L129.58,329.00 L129.43,328.50 L129.23,328.00 L128.99,327.50 L128.73,327.00 L128.45,326.50 L128.17,326.00 L127.91,325.50 L127.67,325.00 L127.47,324.50 L127.32,324.00 L127.23,323.50 L127.20,323.00 L127.17,322.50 L127.10,322.00 L126.98,321.50 L126.82,321.00 L126.63,320.50 L126.42,320.00 L126.20,319.50 L125.98,319.00 L125.77,318.50 L125.58,318.00 L125.42,317.50 L125.30,317.00 L125.23,316.50 L125.20,316.00 L125.17,315.48 L125.06,314.97 L124.90,314.45 L124.68,313.94 L124.43,313.42 L124.14,312.91 L123.86,312.39 L123.57,311.88 L123.32,311.36 L123.10,310.85 L122.94,310.33 L122.83,309.82 L122.80,309.30 L122.86,308.78 L123.03,308.25 L123.30,307.73 L123.65,307.20 L124.06,306.68 L124.50,306.15 L124.94,305.62 L125.35,305.10 L125.70,304.57 L125.97,304.05 L126.14,303.52 L126.20,303.00 L126.24,302.50 L126.36,302.00 L126.55,301.50 L126.79,301.00 L127.05,300.50 L127.31,300.00 L127.55,299.50 L127.74,299.00 L127.86,298.50 L127.90,298.00 L127.92,297.50 L127.97,297.00 L128.05,296.50 L128.15,296.00 L128.27,295.50 L128.40,295.00 L128.53,294.50 L128.65,294.00 L128.75,293.50 L128.83,293.00 L128.88,292.50 L128.90,292.00 L128.90,291.50 L128.90,291.00 L128.91,290.50 L128.91,290.00 L128.92,289.50 L128.93,289.00 L128.94,288.50 L128.95,288.00 L128.96,287.50 L128.97,287.00 L128.98,286.50 L128.99,286.00 L128.99,285.50 L129.00,285.00 L129.00,284.50 L129.00,284.00 L129.00,283.50 L129.01,283.00 L129.02,282.50 L129.03,282.00 L129.04,281.50 L129.06,281.00 L129.08,280.50 L129.10,280.00 L129.12,279.50 L129.14,279.00 L129.16,278.50 L129.17,278.00 L129.18,277.50 L129.19,277.00 L129.20,276.50 L129.20,276.00 L129.24,275.50 L129.34,275.00 L129.51,274.50 L129.72,274.00 L129.95,273.50 L130.18,273.00 L130.39,272.50 L130.56,272.00 L130.66,271.50 L130.70,271.00 L130.76,270.50 L130.94,270.00 L131.22,269.50 L131.56,269.00 L131.95,268.50 L132.34,268.00 L132.68,267.50 L132.96,267.00 L133.14,266.50 L133.20,266.00 L133.26,265.50 L133.45,265.00 L133.72,264.50 L134.05,264.00 L134.38,263.50 L134.65,263.00 L134.84,262.50 L134.90,262.00 Z" fill="none" stroke="#3a3a3a" stroke-width="0.9"/>
<line x1="123.50" y1="309.30" x2="147.00" y2="309.30" stroke="#3030ff" stroke-width="1.1"/>
<line x1="222.30" y1="215.70" x2="222.30" y2="346.20" stroke="#1a1a1a" stroke-width="1.5"/>
<line x1="217.10" y1="216.30" x2="222.30" y2="216.30" stroke="#1a1a1a" stroke-width="1.5"/>
<text x="215.10" y="219.97" font-size="10.2" text-anchor="end" font-weight="normal" fill="#1c1c1c" stroke="#1c1c1c" stroke-width="0.3">15,000</text>
<line x1="217.10" y1="259.60" x2="222.30" y2="259.60" stroke="#1a1a1a" stroke-width="1.5"/>
<text x="215.10" y="263.27" font-size="10.2" text-anchor="end" font-weight="normal" fill="#1c1c1c" stroke="#1c1c1c" stroke-width="0.3">10,000</text>
<line x1="217.10" y1="302.90" x2="222.30" y2="302.90" stroke="#1a1a1a" stroke-width="1.5"/>
<text x="215.10" y="306.57" font-size="10.2" text-anchor="end" font-weight="normal" fill="#1c1c1c" stroke="#1c1c1c" stroke-width="0.3">5,000</text>
<line x1="217.10" y1="346.20" x2="222.30" y2="346.20" stroke="#1a1a1a" stroke-width="1.5"/>
<text x="215.10" y="349.87" font-size="10.2" text-anchor="end" font-weight="normal" fill="#1c1c1c" stroke="#1c1c1c" stroke-width="0.3">0</text>
<line x1="221.55" y1="346.20" x2="308.80" y2="346.20" stroke="#1a1a1a" stroke-width="1.5"/>
<line x1="246.90" y1="346.20" x2="246.90" y2="351.40" stroke="#1a1a1a" stroke-width="1.5"/>
<line x1="283.90" y1="346.20" x2="283.90" y2="351.40" stroke="#1a1a1a" stroke-width="1.5"/>
<g transform="translate(0.90 -0.80)"><text x="179.00" y="280.60" font-size="10.5" text-anchor="middle" font-weight="normal" fill="#1c1c1c" stroke="#1c1c1c" stroke-width="0.3" transform="rotate(-90 179.00 280.60)" textLength="125.50" lengthAdjust="spacingAndGlyphs">IgG<tspan font-size="5.5" dy="-3.8">+</tspan><tspan dy="3.8"> cells/mm</tspan><tspan font-size="5.5" dy="-3.8">2</tspan><tspan dy="3.8"> PCK</tspan><tspan font-size="5.5" dy="-3.8">+</tspan><tspan dy="3.8"> tumor</tspan></text></g>
<g transform="translate(0.00 -0.65)"><text x="149.00" y="363.50" font-size="9.6" text-anchor="start" font-weight="normal" fill="#1c1c1c" stroke="#1c1c1c" stroke-width="0.3" textLength="82.00" lengthAdjust="spacingAndGlyphs">MMR-protein absent:</text></g>
<g transform="translate(2.10 1.35)"><text x="248.50" y="358.00" font-size="9.6" text-anchor="end" font-weight="normal" fill="#1c1c1c" stroke="#1c1c1c" stroke-width="0.3" transform="rotate(-45 248.50 358.00)">No</text></g>
<g transform="translate(0.85 0.50)"><text x="285.40" y="358.00" font-size="9.0" text-anchor="end" font-weight="normal" fill="#1c1c1c" stroke="#1c1c1c" stroke-width="0.3" transform="rotate(-45 285.40 358.00)">One or more</text></g>
<line x1="249.80" y1="234.40" x2="277.70" y2="234.40" stroke="#888" stroke-width="1.1"/>
<g transform="translate(0.25 -0.30)"><text x="264.20" y="231.60" font-size="11.5" text-anchor="middle" font-weight="normal" fill="#1c1c1c" stroke="#1c1c1c" stroke-width="0.3">ns</text></g>
<line x1="246.80" y1="250.80" x2="246.80" y2="346.00" stroke="#333" stroke-width="1.0"/>
<path d="M247.10,282.00 L247.21,282.50 L247.53,283.00 L247.95,283.50 L248.38,284.00 L248.69,284.50 L248.80,285.00 L248.93,285.50 L249.31,286.00 L249.88,286.50 L250.55,287.00 L251.22,287.50 L251.79,288.00 L252.17,288.50 L252.30,289.00 L252.47,289.50 L252.96,290.00 L253.69,290.50 L254.55,291.00 L255.41,291.50 L256.14,292.00 L256.63,292.50 L256.80,293.00 L256.86,293.50 L257.02,294.00 L257.27,294.50 L257.59,295.00 L257.95,295.50 L258.31,296.00 L258.63,296.50 L258.88,297.00 L259.04,297.50 L259.10,298.00 L259.10,298.50 L259.10,299.00 L259.10,299.50 L259.10,300.00 L259.10,300.50 L259.10,301.00 L259.10,301.50 L259.10,302.00 L259.10,302.50 L259.10,303.00 L259.10,303.50 L259.10,304.00 L259.10,304.50 L259.10,305.00 L259.10,305.50 L259.10,306.00 L259.10,306.50 L259.10,307.00 L259.10,307.50 L259.10,308.00 L259.10,308.50 L259.10,309.00 L259.10,309.50 L259.10,310.00 L259.10,310.50 L259.10,311.00 L259.10,311.50 L259.10,312.00 L259.10,312.50 L259.10,313.00 L259.10,313.50 L259.10,314.00 L259.10,314.50 L259.10,315.00 L259.10,315.50 L259.10,316.00 L259.10,316.50 L259.10,317.00 L259.10,317.50 L259.10,318.00 L259.10,318.50 L259.10,319.00 L259.10,319.50 L259.10,320.00 L259.05,320.50 L258.91,321.00 L258.69,321.50 L258.40,322.00 L258.06,322.50 L257.70,323.00 L257.34,323.50 L257.00,324.00 L256.71,324.50 L256.49,325.00 L256.35,325.50 L256.30,326.00 L256.20,326.50 L255.92,327.00 L255.48,327.50 L254.92,328.00 L254.30,328.50 L253.68,329.00 L253.12,329.50 L252.68,330.00 L252.40,330.50 L252.30,331.00 L252.25,331.50 L252.11,332.00 L251.89,332.50 L251.61,333.00 L251.30,333.50 L250.99,334.00 L250.71,334.50 L250.49,335.00 L250.35,335.50 L250.30,336.00 L250.26,336.50 L250.14,337.00 L249.95,337.50 L249.71,338.00 L249.45,338.50 L249.19,339.00 L248.95,339.50 L248.76,340.00 L248.64,340.50 L248.60,341.00 L248.56,341.50 L248.46,342.00 L248.29,342.50 L248.08,343.00 L247.85,343.50 L247.62,344.00 L247.41,344.50 L247.24,345.00 L247.14,345.50 L247.10,346.00 L246.50,346.00 L246.46,345.50 L246.36,345.00 L246.19,344.50 L245.98,344.00 L245.75,343.50 L245.52,343.00 L245.31,342.50 L245.14,342.00 L245.04,341.50 L245.00,341.00 L244.96,340.50 L244.84,340.00 L244.65,339.50 L244.41,339.00 L244.15,338.50 L243.89,338.00 L243.65,337.50 L243.46,337.00 L243.34,336.50 L243.30,336.00 L243.25,335.50 L243.11,335.00 L242.89,334.50 L242.61,334.00 L242.30,333.50 L241.99,333.00 L241.71,332.50 L241.49,332.00 L241.35,331.50 L241.30,331.00 L241.20,330.50 L240.92,330.00 L240.48,329.50 L239.92,329.00 L239.30,328.50 L238.68,328.00 L238.12,327.50 L237.68,327.00 L237.40,326.50 L237.30,326.00 L237.25,325.50 L237.11,325.00 L236.89,324.50 L236.60,324.00 L236.26,323.50 L235.90,323.00 L235.54,322.50 L235.20,322.00 L234.91,321.50 L234.69,321.00 L234.55,320.50 L234.50,320.00 L234.50,319.50 L234.50,319.00 L234.50,318.50 L234.50,318.00 L234.50,317.50 L234.50,317.00 L234.50,316.50 L234.50,316.00 L234.50,315.50 L234.50,315.00 L234.50,314.50 L234.50,314.00 L234.50,313.50 L234.50,313.00 L234.50,312.50 L234.50,312.00 L234.50,311.50 L234.50,311.00 L234.50,310.50 L234.50,310.00 L234.50,309.50 L234.50,309.00 L234.50,308.50 L234.50,308.00 L234.50,307.50 L234.50,307.00 L234.50,306.50 L234.50,306.00 L234.50,305.50 L234.50,305.00 L234.50,304.50 L234.50,304.00 L234.50,303.50 L234.50,303.00 L234.50,302.50 L234.50,302.00 L234.50,301.50 L234.50,301.00 L234.50,300.50 L234.50,300.00 L234.50,299.50 L234.50,299.00 L234.50,298.50 L234.50,298.00 L234.56,297.50 L234.72,297.00 L234.97,296.50 L235.29,296.00 L235.65,295.50 L236.01,295.00 L236.33,294.50 L236.58,294.00 L236.74,293.50 L236.80,293.00 L236.97,292.50 L237.46,292.00 L238.19,291.50 L239.05,291.00 L239.91,290.50 L240.64,290.00 L241.13,289.50 L241.30,289.00 L241.43,288.50 L241.81,288.00 L242.38,287.50 L243.05,287.00 L243.72,286.50 L244.29,286.00 L244.67,285.50 L244.80,285.00 L244.91,284.50 L245.23,284.00 L245.65,283.50 L246.08,283.00 L246.39,282.50 L246.50,282.00 Z" fill="#d6d6d6" fill-opacity="1.0" stroke="none"/>
<circle cx="243.00" cy="263.80" r="2.4" fill="#5656f6" fill-opacity="0.9" stroke="#2020d8" stroke-width="0.7" stroke-opacity="0.8"/>
<circle cx="251.00" cy="263.80" r="2.4" fill="#5656f6" fill-opacity="0.9" stroke="#2020d8" stroke-width="0.7" stroke-opacity="0.8"/>
<circle cx="246.80" cy="277.30" r="2.4" fill="#5656f6" fill-opacity="0.9" stroke="#2020d8" stroke-width="0.7" stroke-opacity="0.8"/>
<circle cx="236.50" cy="286.60" r="2.4" fill="#5656f6" fill-opacity="0.9" stroke="#2020d8" stroke-width="0.7" stroke-opacity="0.8"/>
<circle cx="241.40" cy="289.60" r="2.4" fill="#5656f6" fill-opacity="0.9" stroke="#2020d8" stroke-width="0.7" stroke-opacity="0.8"/>
<circle cx="246.70" cy="289.80" r="2.4" fill="#5656f6" fill-opacity="0.9" stroke="#2020d8" stroke-width="0.7" stroke-opacity="0.8"/>
<circle cx="251.60" cy="289.60" r="2.4" fill="#5656f6" fill-opacity="0.9" stroke="#2020d8" stroke-width="0.7" stroke-opacity="0.8"/>
<circle cx="256.80" cy="289.40" r="2.4" fill="#5656f6" fill-opacity="0.9" stroke="#2020d8" stroke-width="0.7" stroke-opacity="0.8"/>
<path d="M235.20,292.50 L246.80,294.20 L258.40,292.50 L258.40,299.00 L246.80,303.20 L235.20,299.00 Z" fill="#4040f0"/>
<circle cx="235.50" cy="293.88" r="2.3" fill="#4040f0"/>
<circle cx="258.10" cy="293.88" r="2.3" fill="#4040f0"/>
<circle cx="235.50" cy="297.56" r="2.3" fill="#4040f0"/>
<circle cx="258.10" cy="297.56" r="2.3" fill="#4040f0"/>
<path d="M235.20,303.00 L246.80,306.80 L258.40,303.00 L258.40,307.60 L246.80,310.70 L235.20,307.60 Z" fill="#4040f0"/>
<circle cx="235.50" cy="304.38" r="2.3" fill="#4040f0"/>
<circle cx="258.10" cy="304.38" r="2.3" fill="#4040f0"/>
<path d="M235.20,310.20 L246.80,313.00 L258.40,310.20 L258.40,314.00 L246.80,316.60 L235.20,314.00 Z" fill="#4040f0"/>
<circle cx="235.50" cy="311.58" r="2.3" fill="#4040f0"/>
<circle cx="258.10" cy="311.58" r="2.3" fill="#4040f0"/>
<path d="M235.20,316.30 L246.80,318.80 L258.40,316.30 L258.40,319.30 L246.80,322.00 L235.20,319.30 Z" fill="#4040f0"/>
<circle cx="235.50" cy="317.68" r="2.3" fill="#4040f0"/>
<circle cx="258.10" cy="317.68" r="2.3" fill="#4040f0"/>
<path d="M236.30,321.70 L246.80,324.20 L257.30,321.70 L257.30,324.40 L246.80,327.00 L236.30,324.40 Z" fill="#4040f0"/>
<circle cx="236.60" cy="323.08" r="2.3" fill="#4040f0"/>
<circle cx="257.00" cy="323.08" r="2.3" fill="#4040f0"/>
<path d="M240.80,325.50 L246.80,327.40 L252.80,325.50 L252.80,327.50 L246.80,329.00 L240.80,327.50 Z" fill="#4040f0"/>
<path d="M244.6,298.8 L246.8,300.4 L249.0,298.8" stroke="#c8c8ff" stroke-width="1.0" fill="none"/>
<line x1="237.80" y1="309.00" x2="255.80" y2="309.00" stroke="#9a2ab0" stroke-width="0.9"/>
<circle cx="236.30" cy="331.40" r="2.35" fill="#5656f6" fill-opacity="0.85" stroke="#2020d8" stroke-width="0.7" stroke-opacity="0.8"/>
<circle cx="257.40" cy="331.40" r="2.35" fill="#5656f6" fill-opacity="0.85" stroke="#2020d8" stroke-width="0.7" stroke-opacity="0.8"/>
<circle cx="241.70" cy="333.90" r="2.35" fill="#5656f6" fill-opacity="0.85" stroke="#2020d8" stroke-width="0.7" stroke-opacity="0.8"/>
<circle cx="252.40" cy="333.90" r="2.35" fill="#5656f6" fill-opacity="0.85" stroke="#2020d8" stroke-width="0.7" stroke-opacity="0.8"/>
<circle cx="246.80" cy="333.00" r="2.35" fill="#5656f6" fill-opacity="0.85" stroke="#2020d8" stroke-width="0.7" stroke-opacity="0.8"/>
<circle cx="239.20" cy="338.90" r="2.35" fill="#5656f6" fill-opacity="0.85" stroke="#2020d8" stroke-width="0.7" stroke-opacity="0.8"/>
<circle cx="254.90" cy="338.90" r="2.35" fill="#5656f6" fill-opacity="0.85" stroke="#2020d8" stroke-width="0.7" stroke-opacity="0.8"/>
<path d="M247.10,282.00 L247.21,282.50 L247.53,283.00 L247.95,283.50 L248.38,284.00 L248.69,284.50 L248.80,285.00 L248.93,285.50 L249.31,286.00 L249.88,286.50 L250.55,287.00 L251.22,287.50 L251.79,288.00 L252.17,288.50 L252.30,289.00 L252.47,289.50 L252.96,290.00 L253.69,290.50 L254.55,291.00 L255.41,291.50 L256.14,292.00 L256.63,292.50 L256.80,293.00 L256.86,293.50 L257.02,294.00 L257.27,294.50 L257.59,295.00 L257.95,295.50 L258.31,296.00 L258.63,296.50 L258.88,297.00 L259.04,297.50 L259.10,298.00 L259.10,298.50 L259.10,299.00 L259.10,299.50 L259.10,300.00 L259.10,300.50 L259.10,301.00 L259.10,301.50 L259.10,302.00 L259.10,302.50 L259.10,303.00 L259.10,303.50 L259.10,304.00 L259.10,304.50 L259.10,305.00 L259.10,305.50 L259.10,306.00 L259.10,306.50 L259.10,307.00 L259.10,307.50 L259.10,308.00 L259.10,308.50 L259.10,309.00 L259.10,309.50 L259.10,310.00 L259.10,310.50 L259.10,311.00 L259.10,311.50 L259.10,312.00 L259.10,312.50 L259.10,313.00 L259.10,313.50 L259.10,314.00 L259.10,314.50 L259.10,315.00 L259.10,315.50 L259.10,316.00 L259.10,316.50 L259.10,317.00 L259.10,317.50 L259.10,318.00 L259.10,318.50 L259.10,319.00 L259.10,319.50 L259.10,320.00 L259.05,320.50 L258.91,321.00 L258.69,321.50 L258.40,322.00 L258.06,322.50 L257.70,323.00 L257.34,323.50 L257.00,324.00 L256.71,324.50 L256.49,325.00 L256.35,325.50 L256.30,326.00 L256.20,326.50 L255.92,327.00 L255.48,327.50 L254.92,328.00 L254.30,328.50 L253.68,329.00 L253.12,329.50 L252.68,330.00 L252.40,330.50 L252.30,331.00 L252.25,331.50 L252.11,332.00 L251.89,332.50 L251.61,333.00 L251.30,333.50 L250.99,334.00 L250.71,334.50 L250.49,335.00 L250.35,335.50 L250.30,336.00 L250.26,336.50 L250.14,337.00 L249.95,337.50 L249.71,338.00 L249.45,338.50 L249.19,339.00 L248.95,339.50 L248.76,340.00 L248.64,340.50 L248.60,341.00 L248.56,341.50 L248.46,342.00 L248.29,342.50 L248.08,343.00 L247.85,343.50 L247.62,344.00 L247.41,344.50 L247.24,345.00 L247.14,345.50 L247.10,346.00 L246.50,346.00 L246.46,345.50 L246.36,345.00 L246.19,344.50 L245.98,344.00 L245.75,343.50 L245.52,343.00 L245.31,342.50 L245.14,342.00 L245.04,341.50 L245.00,341.00 L244.96,340.50 L244.84,340.00 L244.65,339.50 L244.41,339.00 L244.15,338.50 L243.89,338.00 L243.65,337.50 L243.46,337.00 L243.34,336.50 L243.30,336.00 L243.25,335.50 L243.11,335.00 L242.89,334.50 L242.61,334.00 L242.30,333.50 L241.99,333.00 L241.71,332.50 L241.49,332.00 L241.35,331.50 L241.30,331.00 L241.20,330.50 L240.92,330.00 L240.48,329.50 L239.92,329.00 L239.30,328.50 L238.68,328.00 L238.12,327.50 L237.68,327.00 L237.40,326.50 L237.30,326.00 L237.25,325.50 L237.11,325.00 L236.89,324.50 L236.60,324.00 L236.26,323.50 L235.90,323.00 L235.54,322.50 L235.20,322.00 L234.91,321.50 L234.69,321.00 L234.55,320.50 L234.50,320.00 L234.50,319.50 L234.50,319.00 L234.50,318.50 L234.50,318.00 L234.50,317.50 L234.50,317.00 L234.50,316.50 L234.50,316.00 L234.50,315.50 L234.50,315.00 L234.50,314.50 L234.50,314.00 L234.50,313.50 L234.50,313.00 L234.50,312.50 L234.50,312.00 L234.50,311.50 L234.50,311.00 L234.50,310.50 L234.50,310.00 L234.50,309.50 L234.50,309.00 L234.50,308.50 L234.50,308.00 L234.50,307.50 L234.50,307.00 L234.50,306.50 L234.50,306.00 L234.50,305.50 L234.50,305.00 L234.50,304.50 L234.50,304.00 L234.50,303.50 L234.50,303.00 L234.50,302.50 L234.50,302.00 L234.50,301.50 L234.50,301.00 L234.50,300.50 L234.50,300.00 L234.50,299.50 L234.50,299.00 L234.50,298.50 L234.50,298.00 L234.56,297.50 L234.72,297.00 L234.97,296.50 L235.29,296.00 L235.65,295.50 L236.01,295.00 L236.33,294.50 L236.58,294.00 L236.74,293.50 L236.80,293.00 L236.97,292.50 L237.46,292.00 L238.19,291.50 L239.05,291.00 L239.91,290.50 L240.64,290.00 L241.13,289.50 L241.30,289.00 L241.43,288.50 L241.81,288.00 L242.38,287.50 L243.05,287.00 L243.72,286.50 L244.29,286.00 L244.67,285.50 L244.80,285.00 L244.91,284.50 L245.23,284.00 L245.65,283.50 L246.08,283.00 L246.39,282.50 L246.50,282.00 Z" fill="none" stroke="#3a3a3a" stroke-width="0.9"/>
<line x1="283.90" y1="242.30" x2="283.90" y2="346.00" stroke="#333" stroke-width="1.0"/>
<path d="M284.20,253.70 L284.25,254.24 L284.39,254.77 L284.60,255.31 L284.85,255.85 L285.10,256.39 L285.31,256.93 L285.45,257.46 L285.50,258.00 L285.52,258.50 L285.60,259.00 L285.71,259.50 L285.85,260.00 L286.00,260.50 L286.15,261.00 L286.29,261.50 L286.40,262.00 L286.48,262.50 L286.50,263.00 L286.51,263.50 L286.55,264.00 L286.61,264.50 L286.69,265.00 L286.78,265.50 L286.89,266.00 L287.00,266.50 L287.11,267.00 L287.22,267.50 L287.31,268.00 L287.39,268.50 L287.45,269.00 L287.49,269.50 L287.50,270.00 L287.51,270.50 L287.54,271.00 L287.58,271.50 L287.65,272.00 L287.72,272.50 L287.81,273.00 L287.90,273.50 L288.00,274.00 L288.10,274.50 L288.19,275.00 L288.28,275.50 L288.35,276.00 L288.42,276.50 L288.46,277.00 L288.49,277.50 L288.50,278.00 L288.51,278.50 L288.53,279.00 L288.57,279.50 L288.62,280.00 L288.69,280.50 L288.76,281.00 L288.85,281.50 L288.95,282.00 L289.06,282.50 L289.17,283.00 L289.28,283.50 L289.40,284.00 L289.52,284.50 L289.63,285.00 L289.74,285.50 L289.85,286.00 L289.95,286.50 L290.04,287.00 L290.11,287.50 L290.18,288.00 L290.23,288.50 L290.27,289.00 L290.29,289.50 L290.30,290.00 L290.33,290.51 L290.41,291.03 L290.55,291.54 L290.73,292.05 L290.95,292.57 L291.20,293.08 L291.46,293.59 L291.74,294.11 L292.00,294.62 L292.25,295.13 L292.47,295.65 L292.65,296.16 L292.79,296.67 L292.87,297.19 L292.90,297.70 L292.94,298.23 L293.05,298.76 L293.24,299.29 L293.48,299.82 L293.77,300.35 L294.09,300.88 L294.41,301.42 L294.73,301.95 L295.02,302.48 L295.26,303.01 L295.45,303.54 L295.56,304.07 L295.60,304.60 L295.56,305.12 L295.46,305.64 L295.29,306.16 L295.06,306.68 L294.78,307.19 L294.46,307.71 L294.11,308.23 L293.75,308.75 L293.39,309.27 L293.04,309.79 L292.72,310.31 L292.44,310.82 L292.21,311.34 L292.04,311.86 L291.94,312.38 L291.90,312.90 L291.88,313.41 L291.82,313.91 L291.73,314.42 L291.61,314.92 L291.45,315.43 L291.27,315.93 L291.08,316.44 L290.87,316.94 L290.65,317.45 L290.43,317.96 L290.22,318.46 L290.02,318.97 L289.85,319.47 L289.69,319.98 L289.57,320.48 L289.48,320.99 L289.42,321.49 L289.40,322.00 L289.39,322.50 L289.36,323.00 L289.30,323.50 L289.23,324.00 L289.14,324.50 L289.03,325.00 L288.91,325.50 L288.77,326.00 L288.63,326.50 L288.47,327.00 L288.31,327.50 L288.15,328.00 L287.99,328.50 L287.83,329.00 L287.67,329.50 L287.52,330.00 L287.39,330.50 L287.27,331.00 L287.16,331.50 L287.07,332.00 L287.00,332.50 L286.94,333.00 L286.91,333.50 L286.90,334.00 L286.88,334.50 L286.83,335.00 L286.75,335.50 L286.64,336.00 L286.50,336.50 L286.34,337.00 L286.18,337.50 L286.00,338.00 L285.82,338.50 L285.66,339.00 L285.50,339.50 L285.36,340.00 L285.25,340.50 L285.17,341.00 L285.12,341.50 L285.10,342.00 L285.07,342.54 L284.97,343.07 L284.82,343.61 L284.65,344.15 L284.48,344.69 L284.33,345.23 L284.23,345.76 L284.20,346.30 L283.60,346.30 L283.57,345.76 L283.47,345.23 L283.32,344.69 L283.15,344.15 L282.98,343.61 L282.83,343.07 L282.73,342.54 L282.70,342.00 L282.68,341.50 L282.63,341.00 L282.55,340.50 L282.44,340.00 L282.30,339.50 L282.14,339.00 L281.98,338.50 L281.80,338.00 L281.62,337.50 L281.46,337.00 L281.30,336.50 L281.16,336.00 L281.05,335.50 L280.97,335.00 L280.92,334.50 L280.90,334.00 L280.89,333.50 L280.86,333.00 L280.80,332.50 L280.73,332.00 L280.64,331.50 L280.53,331.00 L280.41,330.50 L280.27,330.00 L280.13,329.50 L279.97,329.00 L279.81,328.50 L279.65,328.00 L279.49,327.50 L279.33,327.00 L279.17,326.50 L279.02,326.00 L278.89,325.50 L278.77,325.00 L278.66,324.50 L278.57,324.00 L278.50,323.50 L278.44,323.00 L278.41,322.50 L278.40,322.00 L278.38,321.49 L278.32,320.99 L278.23,320.48 L278.11,319.98 L277.95,319.47 L277.77,318.97 L277.58,318.46 L277.37,317.96 L277.15,317.45 L276.93,316.94 L276.72,316.44 L276.52,315.93 L276.35,315.43 L276.19,314.92 L276.07,314.42 L275.98,313.91 L275.92,313.41 L275.90,312.90 L275.86,312.38 L275.76,311.86 L275.59,311.34 L275.36,310.82 L275.08,310.31 L274.76,309.79 L274.41,309.27 L274.05,308.75 L273.69,308.23 L273.34,307.71 L273.02,307.19 L272.74,306.68 L272.51,306.16 L272.34,305.64 L272.24,305.12 L272.20,304.60 L272.24,304.07 L272.35,303.54 L272.54,303.01 L272.78,302.48 L273.07,301.95 L273.39,301.42 L273.71,300.88 L274.03,300.35 L274.32,299.82 L274.56,299.29 L274.75,298.76 L274.86,298.23 L274.90,297.70 L274.93,297.19 L275.01,296.67 L275.15,296.16 L275.33,295.65 L275.55,295.13 L275.80,294.62 L276.06,294.11 L276.34,293.59 L276.60,293.08 L276.85,292.57 L277.07,292.05 L277.25,291.54 L277.39,291.03 L277.47,290.51 L277.50,290.00 L277.51,289.50 L277.53,289.00 L277.57,288.50 L277.62,288.00 L277.69,287.50 L277.76,287.00 L277.85,286.50 L277.95,286.00 L278.06,285.50 L278.17,285.00 L278.28,284.50 L278.40,284.00 L278.52,283.50 L278.63,283.00 L278.74,282.50 L278.85,282.00 L278.95,281.50 L279.04,281.00 L279.11,280.50 L279.18,280.00 L279.23,279.50 L279.27,279.00 L279.29,278.50 L279.30,278.00 L279.31,277.50 L279.34,277.00 L279.38,276.50 L279.45,276.00 L279.52,275.50 L279.61,275.00 L279.70,274.50 L279.80,274.00 L279.90,273.50 L279.99,273.00 L280.08,272.50 L280.15,272.00 L280.22,271.50 L280.26,271.00 L280.29,270.50 L280.30,270.00 L280.31,269.50 L280.35,269.00 L280.41,268.50 L280.49,268.00 L280.58,267.50 L280.69,267.00 L280.80,266.50 L280.91,266.00 L281.02,265.50 L281.11,265.00 L281.19,264.50 L281.25,264.00 L281.29,263.50 L281.30,263.00 L281.32,262.50 L281.40,262.00 L281.51,261.50 L281.65,261.00 L281.80,260.50 L281.95,260.00 L282.09,259.50 L282.20,259.00 L282.28,258.50 L282.30,258.00 L282.35,257.46 L282.49,256.93 L282.70,256.39 L282.95,255.85 L283.20,255.31 L283.41,254.77 L283.55,254.24 L283.60,253.70 Z" fill="#d6d6d6" fill-opacity="1.0" stroke="none"/>
<rect x="281.65" y="260.55" width="4.5" height="4.5" fill="#f03c40" fill-opacity="0.85" stroke="#f27a86" stroke-width="0.6" stroke-opacity="0.8"/>
<rect x="281.65" y="271.95" width="4.5" height="4.5" fill="#f03c40" fill-opacity="0.85" stroke="#f27a86" stroke-width="0.6" stroke-opacity="0.8"/>
<rect x="277.85" y="281.05" width="4.5" height="4.5" fill="#f03c40" fill-opacity="0.85" stroke="#f27a86" stroke-width="0.6" stroke-opacity="0.8"/>
<rect x="285.45" y="278.75" width="4.5" height="4.5" fill="#f03c40" fill-opacity="0.85" stroke="#f27a86" stroke-width="0.6" stroke-opacity="0.8"/>
<rect x="277.85" y="290.15" width="4.5" height="4.5" fill="#f03c40" fill-opacity="0.85" stroke="#f27a86" stroke-width="0.6" stroke-opacity="0.8"/>
<rect x="285.45" y="287.85" width="4.5" height="4.5" fill="#f03c40" fill-opacity="0.85" stroke="#f27a86" stroke-width="0.6" stroke-opacity="0.8"/>
<rect x="285.45" y="294.75" width="4.5" height="4.5" fill="#f03c40" fill-opacity="0.85" stroke="#f27a86" stroke-width="0.6" stroke-opacity="0.8"/>
<rect x="277.85" y="298.25" width="4.5" height="4.5" fill="#f03c40" fill-opacity="0.85" stroke="#f27a86" stroke-width="0.6" stroke-opacity="0.8"/>
<rect x="272.15" y="301.55" width="4.5" height="4.5" fill="#f03c40" fill-opacity="0.85" stroke="#f27a86" stroke-width="0.6" stroke-opacity="0.8"/>
<rect x="281.65" y="306.15" width="4.5" height="4.5" fill="#f03c40" fill-opacity="0.85" stroke="#f27a86" stroke-width="0.6" stroke-opacity="0.8"/>
<rect x="287.25" y="303.85" width="4.5" height="4.5" fill="#f03c40" fill-opacity="0.85" stroke="#f27a86" stroke-width="0.6" stroke-opacity="0.8"/>
<rect x="281.65" y="312.15" width="4.5" height="4.5" fill="#f03c40" fill-opacity="0.85" stroke="#f27a86" stroke-width="0.6" stroke-opacity="0.8"/>
<rect x="278.05" y="318.25" width="4.5" height="4.5" fill="#f03c40" fill-opacity="0.85" stroke="#f27a86" stroke-width="0.6" stroke-opacity="0.8"/>
<rect x="284.95" y="318.25" width="4.5" height="4.5" fill="#f03c40" fill-opacity="0.85" stroke="#f27a86" stroke-width="0.6" stroke-opacity="0.8"/>
<rect x="281.65" y="325.05" width="4.5" height="4.5" fill="#f03c40" fill-opacity="0.85" stroke="#f27a86" stroke-width="0.6" stroke-opacity="0.8"/>
<rect x="281.65" y="338.05" width="4.5" height="4.5" fill="#f03c40" fill-opacity="0.85" stroke="#f27a86" stroke-width="0.6" stroke-opacity="0.8"/>
<path d="M284.20,253.70 L284.25,254.24 L284.39,254.77 L284.60,255.31 L284.85,255.85 L285.10,256.39 L285.31,256.93 L285.45,257.46 L285.50,258.00 L285.52,258.50 L285.60,259.00 L285.71,259.50 L285.85,260.00 L286.00,260.50 L286.15,261.00 L286.29,261.50 L286.40,262.00 L286.48,262.50 L286.50,263.00 L286.51,263.50 L286.55,264.00 L286.61,264.50 L286.69,265.00 L286.78,265.50 L286.89,266.00 L287.00,266.50 L287.11,267.00 L287.22,267.50 L287.31,268.00 L287.39,268.50 L287.45,269.00 L287.49,269.50 L287.50,270.00 L287.51,270.50 L287.54,271.00 L287.58,271.50 L287.65,272.00 L287.72,272.50 L287.81,273.00 L287.90,273.50 L288.00,274.00 L288.10,274.50 L288.19,275.00 L288.28,275.50 L288.35,276.00 L288.42,276.50 L288.46,277.00 L288.49,277.50 L288.50,278.00 L288.51,278.50 L288.53,279.00 L288.57,279.50 L288.62,280.00 L288.69,280.50 L288.76,281.00 L288.85,281.50 L288.95,282.00 L289.06,282.50 L289.17,283.00 L289.28,283.50 L289.40,284.00 L289.52,284.50 L289.63,285.00 L289.74,285.50 L289.85,286.00 L289.95,286.50 L290.04,287.00 L290.11,287.50 L290.18,288.00 L290.23,288.50 L290.27,289.00 L290.29,289.50 L290.30,290.00 L290.33,290.51 L290.41,291.03 L290.55,291.54 L290.73,292.05 L290.95,292.57 L291.20,293.08 L291.46,293.59 L291.74,294.11 L292.00,294.62 L292.25,295.13 L292.47,295.65 L292.65,296.16 L292.79,296.67 L292.87,297.19 L292.90,297.70 L292.94,298.23 L293.05,298.76 L293.24,299.29 L293.48,299.82 L293.77,300.35 L294.09,300.88 L294.41,301.42 L294.73,301.95 L295.02,302.48 L295.26,303.01 L295.45,303.54 L295.56,304.07 L295.60,304.60 L295.56,305.12 L295.46,305.64 L295.29,306.16 L295.06,306.68 L294.78,307.19 L294.46,307.71 L294.11,308.23 L293.75,308.75 L293.39,309.27 L293.04,309.79 L292.72,310.31 L292.44,310.82 L292.21,311.34 L292.04,311.86 L291.94,312.38 L291.90,312.90 L291.88,313.41 L291.82,313.91 L291.73,314.42 L291.61,314.92 L291.45,315.43 L291.27,315.93 L291.08,316.44 L290.87,316.94 L290.65,317.45 L290.43,317.96 L290.22,318.46 L290.02,318.97 L289.85,319.47 L289.69,319.98 L289.57,320.48 L289.48,320.99 L289.42,321.49 L289.40,322.00 L289.39,322.50 L289.36,323.00 L289.30,323.50 L289.23,324.00 L289.14,324.50 L289.03,325.00 L288.91,325.50 L288.77,326.00 L288.63,326.50 L288.47,327.00 L288.31,327.50 L288.15,328.00 L287.99,328.50 L287.83,329.00 L287.67,329.50 L287.52,330.00 L287.39,330.50 L287.27,331.00 L287.16,331.50 L287.07,332.00 L287.00,332.50 L286.94,333.00 L286.91,333.50 L286.90,334.00 L286.88,334.50 L286.83,335.00 L286.75,335.50 L286.64,336.00 L286.50,336.50 L286.34,337.00 L286.18,337.50 L286.00,338.00 L285.82,338.50 L285.66,339.00 L285.50,339.50 L285.36,340.00 L285.25,340.50 L285.17,341.00 L285.12,341.50 L285.10,342.00 L285.07,342.54 L284.97,343.07 L284.82,343.61 L284.65,344.15 L284.48,344.69 L284.33,345.23 L284.23,345.76 L284.20,346.30 L283.60,346.30 L283.57,345.76 L283.47,345.23 L283.32,344.69 L283.15,344.15 L282.98,343.61 L282.83,343.07 L282.73,342.54 L282.70,342.00 L282.68,341.50 L282.63,341.00 L282.55,340.50 L282.44,340.00 L282.30,339.50 L282.14,339.00 L281.98,338.50 L281.80,338.00 L281.62,337.50 L281.46,337.00 L281.30,336.50 L281.16,336.00 L281.05,335.50 L280.97,335.00 L280.92,334.50 L280.90,334.00 L280.89,333.50 L280.86,333.00 L280.80,332.50 L280.73,332.00 L280.64,331.50 L280.53,331.00 L280.41,330.50 L280.27,330.00 L280.13,329.50 L279.97,329.00 L279.81,328.50 L279.65,328.00 L279.49,327.50 L279.33,327.00 L279.17,326.50 L279.02,326.00 L278.89,325.50 L278.77,325.00 L278.66,324.50 L278.57,324.00 L278.50,323.50 L278.44,323.00 L278.41,322.50 L278.40,322.00 L278.38,321.49 L278.32,320.99 L278.23,320.48 L278.11,319.98 L277.95,319.47 L277.77,318.97 L277.58,318.46 L277.37,317.96 L277.15,317.45 L276.93,316.94 L276.72,316.44 L276.52,315.93 L276.35,315.43 L276.19,314.92 L276.07,314.42 L275.98,313.91 L275.92,313.41 L275.90,312.90 L275.86,312.38 L275.76,311.86 L275.59,311.34 L275.36,310.82 L275.08,310.31 L274.76,309.79 L274.41,309.27 L274.05,308.75 L273.69,308.23 L273.34,307.71 L273.02,307.19 L272.74,306.68 L272.51,306.16 L272.34,305.64 L272.24,305.12 L272.20,304.60 L272.24,304.07 L272.35,303.54 L272.54,303.01 L272.78,302.48 L273.07,301.95 L273.39,301.42 L273.71,300.88 L274.03,300.35 L274.32,299.82 L274.56,299.29 L274.75,298.76 L274.86,298.23 L274.90,297.70 L274.93,297.19 L275.01,296.67 L275.15,296.16 L275.33,295.65 L275.55,295.13 L275.80,294.62 L276.06,294.11 L276.34,293.59 L276.60,293.08 L276.85,292.57 L277.07,292.05 L277.25,291.54 L277.39,291.03 L277.47,290.51 L277.50,290.00 L277.51,289.50 L277.53,289.00 L277.57,288.50 L277.62,288.00 L277.69,287.50 L277.76,287.00 L277.85,286.50 L277.95,286.00 L278.06,285.50 L278.17,285.00 L278.28,284.50 L278.40,284.00 L278.52,283.50 L278.63,283.00 L278.74,282.50 L278.85,282.00 L278.95,281.50 L279.04,281.00 L279.11,280.50 L279.18,280.00 L279.23,279.50 L279.27,279.00 L279.29,278.50 L279.30,278.00 L279.31,277.50 L279.34,277.00 L279.38,276.50 L279.45,276.00 L279.52,275.50 L279.61,275.00 L279.70,274.50 L279.80,274.00 L279.90,273.50 L279.99,273.00 L280.08,272.50 L280.15,272.00 L280.22,271.50 L280.26,271.00 L280.29,270.50 L280.30,270.00 L280.31,269.50 L280.35,269.00 L280.41,268.50 L280.49,268.00 L280.58,267.50 L280.69,267.00 L280.80,266.50 L280.91,266.00 L281.02,265.50 L281.11,265.00 L281.19,264.50 L281.25,264.00 L281.29,263.50 L281.30,263.00 L281.32,262.50 L281.40,262.00 L281.51,261.50 L281.65,261.00 L281.80,260.50 L281.95,260.00 L282.09,259.50 L282.20,259.00 L282.28,258.50 L282.30,258.00 L282.35,257.46 L282.49,256.93 L282.70,256.39 L282.95,255.85 L283.20,255.31 L283.41,254.77 L283.55,254.24 L283.60,253.70 Z" fill="none" stroke="#3a3a3a" stroke-width="0.9"/>
<line x1="272.00" y1="304.60" x2="296.00" y2="304.60" stroke="#3030ff" stroke-width="1.1"/>
<g transform="translate(-1.50 0.50)"><text x="304.50" y="217.30" font-size="17.5" text-anchor="start" font-weight="bold" fill="#000" stroke="#000" stroke-width="0.0">E</text></g>
<line x1="351.10" y1="235.70" x2="351.10" y2="342.50" stroke="#1a1a1a" stroke-width="1.5"/>
<line x1="346.60" y1="236.30" x2="351.10" y2="236.30" stroke="#1a1a1a" stroke-width="1.5"/>
<text x="345.70" y="240.60" font-size="10.2" text-anchor="end" font-weight="normal" fill="#1c1c1c" stroke="#1c1c1c" stroke-width="0.3">100</text>
<line x1="346.60" y1="257.54" x2="351.10" y2="257.54" stroke="#1a1a1a" stroke-width="1.5"/>
<text x="345.70" y="261.84" font-size="10.2" text-anchor="end" font-weight="normal" fill="#1c1c1c" stroke="#1c1c1c" stroke-width="0.3">80</text>
<line x1="346.60" y1="278.78" x2="351.10" y2="278.78" stroke="#1a1a1a" stroke-width="1.5"/>
<text x="345.70" y="283.08" font-size="10.2" text-anchor="end" font-weight="normal" fill="#1c1c1c" stroke="#1c1c1c" stroke-width="0.3">60</text>
<line x1="346.60" y1="300.02" x2="351.10" y2="300.02" stroke="#1a1a1a" stroke-width="1.5"/>
<text x="345.70" y="304.32" font-size="10.2" text-anchor="end" font-weight="normal" fill="#1c1c1c" stroke="#1c1c1c" stroke-width="0.3">40</text>
<line x1="346.60" y1="321.26" x2="351.10" y2="321.26" stroke="#1a1a1a" stroke-width="1.5"/>
<text x="345.70" y="325.56" font-size="10.2" text-anchor="end" font-weight="normal" fill="#1c1c1c" stroke="#1c1c1c" stroke-width="0.3">20</text>
<line x1="346.60" y1="342.50" x2="351.10" y2="342.50" stroke="#1a1a1a" stroke-width="1.5"/>
<text x="345.70" y="346.80" font-size="10.2" text-anchor="end" font-weight="normal" fill="#1c1c1c" stroke="#1c1c1c" stroke-width="0.3">0</text>
<line x1="350.35" y1="342.50" x2="510.00" y2="342.50" stroke="#1a1a1a" stroke-width="1.5"/>
<line x1="351.10" y1="342.50" x2="351.10" y2="347.00" stroke="#1a1a1a" stroke-width="1.5"/>
<text x="351.60" y="358.50" font-size="10.2" text-anchor="middle" font-weight="normal" fill="#1c1c1c" stroke="#1c1c1c" stroke-width="0.3">0</text>
<line x1="403.87" y1="342.50" x2="403.87" y2="347.00" stroke="#1a1a1a" stroke-width="1.5"/>
<text x="404.37" y="358.50" font-size="10.2" text-anchor="middle" font-weight="normal" fill="#1c1c1c" stroke="#1c1c1c" stroke-width="0.3">50</text>
<line x1="456.63" y1="342.50" x2="456.63" y2="347.00" stroke="#1a1a1a" stroke-width="1.5"/>
<text x="457.13" y="358.50" font-size="10.2" text-anchor="middle" font-weight="normal" fill="#1c1c1c" stroke="#1c1c1c" stroke-width="0.3">100</text>
<line x1="509.40" y1="342.50" x2="509.40" y2="347.00" stroke="#1a1a1a" stroke-width="1.5"/>
<text x="509.90" y="358.50" font-size="10.2" text-anchor="middle" font-weight="normal" fill="#1c1c1c" stroke="#1c1c1c" stroke-width="0.3">150</text>
<g transform="translate(2.90 2.15)"><text x="430.25" y="371.00" font-size="10.8" text-anchor="middle" font-weight="normal" fill="#1c1c1c" stroke="#1c1c1c" stroke-width="0.3">Time (months)</text></g>
<g transform="translate(-0.05 -0.05)"><text x="327.10" y="288.95" font-size="10.7" text-anchor="middle" font-weight="normal" fill="#1c1c1c" stroke="#1c1c1c" stroke-width="0.3" transform="rotate(-90 327.10 288.95)">% Survival</text></g>
<path d="M356.90,236.30 H358.49 V236.30 H360.33 V237.36 H362.18 V237.36 H362.91 V238.60 H364.37 V239.84 H365.83 V241.08 H367.29 V242.32 H368.75 V243.56 H370.21 V244.80 H370.94 V244.80 H371.37 V245.89 H372.23 V246.99 H373.09 V248.09 H373.96 V249.19 H374.82 V250.28 H375.68 V251.38 H376.11 V251.38 H376.86 V252.44 H378.37 V253.50 H379.87 V254.57 H381.37 V255.63 H382.13 V255.63 H382.67 V256.93 H383.75 V258.23 H384.83 V259.53 H385.91 V260.83 H386.45 V260.83 H387.32 V262.13 H389.07 V263.43 H390.81 V264.74 H392.55 V266.04 H393.42 V266.04 H394.56 V267.13 H396.85 V268.23 H399.14 V269.33 H400.28 V269.33 H402.02 V270.60 H405.50 V271.88 H407.24 V271.88 H408.96 V273.20 H412.39 V274.53 H414.10 V274.53 H415.87 V275.65 H419.41 V276.76 H421.17 V276.76 H422.16 V277.79 H424.13 V278.82 H426.10 V279.84 H427.08 V279.84 H440.80 V279.84 H441.33 V284.20 H455.58 V284.20 H456.37 V285.47 H457.95 V286.75 H458.74 V286.75 H459.54 V288.07 H461.12 V289.40 H461.91 V289.40 H464.02 V291.10 H466.13 V291.10 H509.40 V291.10" stroke="#2a2ad8" fill="none" stroke-width="1.4" stroke-linejoin="miter"/>
<rect x="361.00" y="235.76" width="1.3" height="2.1" fill="#1414b0"/>
<rect x="363.09" y="237.00" width="1.3" height="2.1" fill="#1414b0"/>
<rect x="365.82" y="239.48" width="1.3" height="2.1" fill="#1414b0"/>
<rect x="368.18" y="241.96" width="1.3" height="2.1" fill="#1414b0"/>
<rect x="371.04" y="244.29" width="1.3" height="2.1" fill="#1414b0"/>
<rect x="373.95" y="247.59" width="1.3" height="2.1" fill="#1414b0"/>
<rect x="375.67" y="249.78" width="1.3" height="2.1" fill="#1414b0"/>
<rect x="377.28" y="250.84" width="1.3" height="2.1" fill="#1414b0"/>
<rect x="380.63" y="252.97" width="1.3" height="2.1" fill="#1414b0"/>
<rect x="382.76" y="255.33" width="1.3" height="2.1" fill="#1414b0"/>
<rect x="384.84" y="257.93" width="1.3" height="2.1" fill="#1414b0"/>
<rect x="388.52" y="261.83" width="1.3" height="2.1" fill="#1414b0"/>
<rect x="391.10" y="263.14" width="1.3" height="2.1" fill="#1414b0"/>
<rect x="394.44" y="265.53" width="1.3" height="2.1" fill="#1414b0"/>
<rect x="398.84" y="267.73" width="1.3" height="2.1" fill="#1414b0"/>
<rect x="403.84" y="269.00" width="1.3" height="2.1" fill="#1414b0"/>
<rect x="407.04" y="270.28" width="1.3" height="2.1" fill="#1414b0"/>
<rect x="412.02" y="272.93" width="1.3" height="2.1" fill="#1414b0"/>
<rect x="417.86" y="274.05" width="1.3" height="2.1" fill="#1414b0"/>
<rect x="422.43" y="276.19" width="1.3" height="2.1" fill="#1414b0"/>
<rect x="427.81" y="278.24" width="1.3" height="2.1" fill="#1414b0"/>
<rect x="432.93" y="278.24" width="1.3" height="2.1" fill="#1414b0"/>
<rect x="435.80" y="278.24" width="1.3" height="2.1" fill="#1414b0"/>
<rect x="441.24" y="282.60" width="1.3" height="2.1" fill="#1414b0"/>
<rect x="446.06" y="282.60" width="1.3" height="2.1" fill="#1414b0"/>
<rect x="449.82" y="282.60" width="1.3" height="2.1" fill="#1414b0"/>
<rect x="452.57" y="282.60" width="1.3" height="2.1" fill="#1414b0"/>
<rect x="458.40" y="285.14" width="1.3" height="2.1" fill="#1414b0"/>
<rect x="462.79" y="287.80" width="1.3" height="2.1" fill="#1414b0"/>
<rect x="464.91" y="289.50" width="1.3" height="2.1" fill="#1414b0"/>
<rect x="467.26" y="289.50" width="1.3" height="2.1" fill="#1414b0"/>
<rect x="469.37" y="289.50" width="1.3" height="2.1" fill="#1414b0"/>
<rect x="471.79" y="289.50" width="1.3" height="2.1" fill="#1414b0"/>
<rect x="473.43" y="289.50" width="1.3" height="2.1" fill="#1414b0"/>
<rect x="475.66" y="289.50" width="1.3" height="2.1" fill="#1414b0"/>
<rect x="477.38" y="289.50" width="1.3" height="2.1" fill="#1414b0"/>
<rect x="479.81" y="289.50" width="1.3" height="2.1" fill="#1414b0"/>
<rect x="482.17" y="289.50" width="1.3" height="2.1" fill="#1414b0"/>
<rect x="483.37" y="289.50" width="1.3" height="2.1" fill="#1414b0"/>
<rect x="484.62" y="289.50" width="1.3" height="2.1" fill="#1414b0"/>
<rect x="486.00" y="289.50" width="1.3" height="2.1" fill="#1414b0"/>
<rect x="488.48" y="289.50" width="1.3" height="2.1" fill="#1414b0"/>
<rect x="490.18" y="289.50" width="1.3" height="2.1" fill="#1414b0"/>
<rect x="492.16" y="289.50" width="1.3" height="2.1" fill="#1414b0"/>
<rect x="493.66" y="289.50" width="1.3" height="2.1" fill="#1414b0"/>
<rect x="495.47" y="289.50" width="1.3" height="2.1" fill="#1414b0"/>
<rect x="497.09" y="289.50" width="1.3" height="2.1" fill="#1414b0"/>
<rect x="498.67" y="289.50" width="1.3" height="2.1" fill="#1414b0"/>
<rect x="500.59" y="289.50" width="1.3" height="2.1" fill="#1414b0"/>
<rect x="502.50" y="289.50" width="1.3" height="2.1" fill="#1414b0"/>
<rect x="504.90" y="289.50" width="1.3" height="2.1" fill="#1414b0"/>
<rect x="506.96" y="289.50" width="1.3" height="2.1" fill="#1414b0"/>
<path d="M351.10,236.30 H380.65 V236.30 H380.65 V243.73 H384.77 V243.73 H384.77 V250.96 H408.09 V250.96 H408.09 V257.86 H486.50 V257.86 H486.50 V271.66 H501.17 V271.66 H501.17 V295.03 H506.23 V295.03" stroke="#ec4050" fill="none" stroke-width="1.0" stroke-linejoin="miter"/>
<line x1="409.67" y1="255.86" x2="409.67" y2="258.16" stroke="#c8283a" stroke-width="1.0"/>
<line x1="462.97" y1="255.86" x2="462.97" y2="258.16" stroke="#c8283a" stroke-width="1.0"/>
<line x1="464.55" y1="255.86" x2="464.55" y2="258.16" stroke="#c8283a" stroke-width="1.0"/>
<line x1="466.13" y1="255.86" x2="466.13" y2="258.16" stroke="#c8283a" stroke-width="1.0"/>
<line x1="471.41" y1="255.86" x2="471.41" y2="258.16" stroke="#c8283a" stroke-width="1.0"/>
<line x1="485.13" y1="255.86" x2="485.13" y2="258.16" stroke="#c8283a" stroke-width="1.0"/>
<line x1="495.15" y1="269.66" x2="495.15" y2="271.96" stroke="#c8283a" stroke-width="1.0"/>
<line x1="503.07" y1="293.03" x2="503.07" y2="295.33" stroke="#c8283a" stroke-width="1.0"/>
<line x1="504.65" y1="293.03" x2="504.65" y2="295.33" stroke="#c8283a" stroke-width="1.0"/>
<rect x="359.50" y="312.40" width="6.9" height="6.6" fill="#ee1c1c"/>
<rect x="359.50" y="324.70" width="6.9" height="6.6" fill="#1414ee"/>
<text x="370.90" y="318.70" font-size="9.6" text-anchor="start" font-weight="normal" fill="#1c1c1c" stroke="#1c1c1c" stroke-width="0.3" textLength="131.60" lengthAdjust="spacingAndGlyphs">One or more MMR-protein absent</text>
<text x="370.90" y="331.00" font-size="9.6" text-anchor="start" font-weight="normal" fill="#1c1c1c" stroke="#1c1c1c" stroke-width="0.3" textLength="93.80" lengthAdjust="spacingAndGlyphs">No MMR-protein absent</text>
<g transform="translate(-0.10 0.75)"><text x="450.10" y="251.20" font-size="10.8" text-anchor="start" font-weight="normal" fill="#dc2832" stroke="#dc2832" stroke-width="0.3" textLength="29.20" lengthAdjust="spacingAndGlyphs"><tspan font-style="italic">n</tspan> = 18</text></g>
<g transform="translate(-0.45 0.50)"><text x="469.70" y="302.00" font-size="10.8" text-anchor="start" font-weight="normal" fill="#2323c0" stroke="#2323c0" stroke-width="0.3" textLength="30.30" lengthAdjust="spacingAndGlyphs"><tspan font-style="italic">n</tspan> = 89</text></g>
<g transform="translate(-0.30 0.35)"><text x="421.90" y="271.20" font-size="10.3" text-anchor="start" font-weight="normal" fill="#151515" stroke="#151515" stroke-width="0.3" textLength="65.20" lengthAdjust="spacingAndGlyphs">ns (<tspan font-style="italic">P</tspan> = 0.1587)</text></g>
<g transform="translate(-0.80 0.25)"><text x="10.00" y="423.00" font-size="17.5" text-anchor="start" font-weight="bold" fill="#000" stroke="#000" stroke-width="0.0">F</text></g>
<line x1="62.00" y1="418.80" x2="62.00" y2="528.50" stroke="#1a1a1a" stroke-width="1.5"/>
<line x1="57.50" y1="419.40" x2="62.00" y2="419.40" stroke="#1a1a1a" stroke-width="1.5"/>
<text x="56.60" y="423.70" font-size="10.2" text-anchor="end" font-weight="normal" fill="#1c1c1c" stroke="#1c1c1c" stroke-width="0.3">100</text>
<line x1="57.50" y1="441.22" x2="62.00" y2="441.22" stroke="#1a1a1a" stroke-width="1.5"/>
<text x="56.60" y="445.52" font-size="10.2" text-anchor="end" font-weight="normal" fill="#1c1c1c" stroke="#1c1c1c" stroke-width="0.3">80</text>
<line x1="57.50" y1="463.04" x2="62.00" y2="463.04" stroke="#1a1a1a" stroke-width="1.5"/>
<text x="56.60" y="467.34" font-size="10.2" text-anchor="end" font-weight="normal" fill="#1c1c1c" stroke="#1c1c1c" stroke-width="0.3">60</text>
<line x1="57.50" y1="484.86" x2="62.00" y2="484.86" stroke="#1a1a1a" stroke-width="1.5"/>
<text x="56.60" y="489.16" font-size="10.2" text-anchor="end" font-weight="normal" fill="#1c1c1c" stroke="#1c1c1c" stroke-width="0.3">40</text>
<line x1="57.50" y1="506.68" x2="62.00" y2="506.68" stroke="#1a1a1a" stroke-width="1.5"/>
<text x="56.60" y="510.98" font-size="10.2" text-anchor="end" font-weight="normal" fill="#1c1c1c" stroke="#1c1c1c" stroke-width="0.3">20</text>
<line x1="57.50" y1="528.50" x2="62.00" y2="528.50" stroke="#1a1a1a" stroke-width="1.5"/>
<text x="56.60" y="532.80" font-size="10.2" text-anchor="end" font-weight="normal" fill="#1c1c1c" stroke="#1c1c1c" stroke-width="0.3">0</text>
<line x1="61.25" y1="528.50" x2="225.80" y2="528.50" stroke="#1a1a1a" stroke-width="1.5"/>
<line x1="61.90" y1="528.50" x2="61.90" y2="533.00" stroke="#1a1a1a" stroke-width="1.5"/>
<text x="62.40" y="544.50" font-size="10.2" text-anchor="middle" font-weight="normal" fill="#1c1c1c" stroke="#1c1c1c" stroke-width="0.3">0</text>
<line x1="116.33" y1="528.50" x2="116.33" y2="533.00" stroke="#1a1a1a" stroke-width="1.5"/>
<text x="116.83" y="544.50" font-size="10.2" text-anchor="middle" font-weight="normal" fill="#1c1c1c" stroke="#1c1c1c" stroke-width="0.3">50</text>
<line x1="170.77" y1="528.50" x2="170.77" y2="533.00" stroke="#1a1a1a" stroke-width="1.5"/>
<text x="171.27" y="544.50" font-size="10.2" text-anchor="middle" font-weight="normal" fill="#1c1c1c" stroke="#1c1c1c" stroke-width="0.3">100</text>
<line x1="225.20" y1="528.50" x2="225.20" y2="533.00" stroke="#1a1a1a" stroke-width="1.5"/>
<text x="225.70" y="544.50" font-size="10.2" text-anchor="middle" font-weight="normal" fill="#1c1c1c" stroke="#1c1c1c" stroke-width="0.3">150</text>
<g transform="translate(-3.55 1.65)"><text x="143.55" y="557.00" font-size="10.8" text-anchor="middle" font-weight="normal" fill="#1c1c1c" stroke="#1c1c1c" stroke-width="0.3">Time (months)</text></g>
<g transform="translate(-0.55 0.05)"><text x="36.60" y="480.05" font-size="10.7" text-anchor="middle" font-weight="normal" fill="#1c1c1c" stroke="#1c1c1c" stroke-width="0.3" transform="rotate(-90 36.60 480.05)">% Survival</text></g>
<path d="M67.89,419.40 H69.52 V419.40 H72.51 V420.49 H75.51 V420.49 H76.13 V421.74 H77.37 V422.98 H78.62 V424.23 H79.86 V425.48 H81.11 V426.73 H82.35 V427.97 H83.60 V429.22 H84.22 V429.22 H84.93 V430.38 H86.37 V431.55 H87.80 V432.71 H89.23 V433.87 H90.67 V435.04 H92.10 V436.20 H92.82 V436.20 H93.39 V437.37 H94.53 V438.53 H95.68 V439.69 H96.82 V440.86 H97.96 V442.02 H99.11 V443.18 H99.68 V443.18 H100.33 V444.25 H101.64 V445.31 H102.94 V446.37 H104.25 V447.44 H104.90 V447.44 H107.52 V449.18 H110.13 V449.18 H111.42 V450.35 H113.99 V451.51 H116.57 V452.68 H117.86 V452.68 H119.44 V453.80 H122.59 V454.93 H125.75 V456.06 H127.33 V456.06 H129.51 V457.04 H133.86 V458.02 H136.04 V458.02 H136.84 V459.17 H138.45 V460.31 H140.05 V461.46 H141.66 V462.60 H142.46 V462.60 H157.05 V462.60 H157.34 V463.95 H157.92 V465.29 H158.50 V466.64 H158.79 V466.64 H169.68 V466.64 H169.90 V468.17 H175.12 V468.17 H175.86 V469.53 H177.33 V470.90 H178.06 V470.90 H178.96 V471.99 H180.76 V473.08 H181.65 V473.08 H225.20 V473.08" stroke="#2a2ad8" fill="none" stroke-width="1.4" stroke-linejoin="miter"/>
<rect x="72.14" y="418.89" width="1.3" height="2.1" fill="#1414b0"/>
<rect x="74.28" y="418.89" width="1.3" height="2.1" fill="#1414b0"/>
<rect x="76.14" y="420.14" width="1.3" height="2.1" fill="#1414b0"/>
<rect x="78.64" y="422.63" width="1.3" height="2.1" fill="#1414b0"/>
<rect x="80.61" y="425.13" width="1.3" height="2.1" fill="#1414b0"/>
<rect x="82.38" y="426.37" width="1.3" height="2.1" fill="#1414b0"/>
<rect x="84.89" y="428.78" width="1.3" height="2.1" fill="#1414b0"/>
<rect x="88.52" y="431.11" width="1.3" height="2.1" fill="#1414b0"/>
<rect x="91.90" y="434.60" width="1.3" height="2.1" fill="#1414b0"/>
<rect x="95.20" y="438.09" width="1.3" height="2.1" fill="#1414b0"/>
<rect x="97.32" y="440.42" width="1.3" height="2.1" fill="#1414b0"/>
<rect x="100.12" y="442.65" width="1.3" height="2.1" fill="#1414b0"/>
<rect x="102.35" y="444.77" width="1.3" height="2.1" fill="#1414b0"/>
<rect x="104.36" y="445.84" width="1.3" height="2.1" fill="#1414b0"/>
<rect x="106.23" y="445.84" width="1.3" height="2.1" fill="#1414b0"/>
<rect x="109.76" y="447.58" width="1.3" height="2.1" fill="#1414b0"/>
<rect x="116.02" y="451.08" width="1.3" height="2.1" fill="#1414b0"/>
<rect x="121.90" y="452.20" width="1.3" height="2.1" fill="#1414b0"/>
<rect x="127.69" y="454.46" width="1.3" height="2.1" fill="#1414b0"/>
<rect x="133.47" y="456.42" width="1.3" height="2.1" fill="#1414b0"/>
<rect x="136.93" y="457.57" width="1.3" height="2.1" fill="#1414b0"/>
<rect x="140.83" y="459.86" width="1.3" height="2.1" fill="#1414b0"/>
<rect x="145.94" y="461.00" width="1.3" height="2.1" fill="#1414b0"/>
<rect x="151.45" y="461.00" width="1.3" height="2.1" fill="#1414b0"/>
<rect x="157.43" y="463.69" width="1.3" height="2.1" fill="#1414b0"/>
<rect x="163.50" y="465.04" width="1.3" height="2.1" fill="#1414b0"/>
<rect x="166.55" y="465.04" width="1.3" height="2.1" fill="#1414b0"/>
<rect x="171.58" y="466.57" width="1.3" height="2.1" fill="#1414b0"/>
<rect x="176.86" y="469.30" width="1.3" height="2.1" fill="#1414b0"/>
<rect x="178.72" y="470.39" width="1.3" height="2.1" fill="#1414b0"/>
<rect x="180.08" y="470.39" width="1.3" height="2.1" fill="#1414b0"/>
<rect x="181.89" y="471.48" width="1.3" height="2.1" fill="#1414b0"/>
<rect x="183.12" y="471.48" width="1.3" height="2.1" fill="#1414b0"/>
<rect x="185.63" y="471.48" width="1.3" height="2.1" fill="#1414b0"/>
<rect x="188.04" y="471.48" width="1.3" height="2.1" fill="#1414b0"/>
<rect x="189.96" y="471.48" width="1.3" height="2.1" fill="#1414b0"/>
<rect x="191.51" y="471.48" width="1.3" height="2.1" fill="#1414b0"/>
<rect x="193.98" y="471.48" width="1.3" height="2.1" fill="#1414b0"/>
<rect x="195.95" y="471.48" width="1.3" height="2.1" fill="#1414b0"/>
<rect x="198.38" y="471.48" width="1.3" height="2.1" fill="#1414b0"/>
<rect x="200.76" y="471.48" width="1.3" height="2.1" fill="#1414b0"/>
<rect x="202.62" y="471.48" width="1.3" height="2.1" fill="#1414b0"/>
<rect x="204.34" y="471.48" width="1.3" height="2.1" fill="#1414b0"/>
<rect x="206.34" y="471.48" width="1.3" height="2.1" fill="#1414b0"/>
<rect x="208.09" y="471.48" width="1.3" height="2.1" fill="#1414b0"/>
<rect x="209.42" y="471.48" width="1.3" height="2.1" fill="#1414b0"/>
<rect x="210.98" y="471.48" width="1.3" height="2.1" fill="#1414b0"/>
<rect x="213.31" y="471.48" width="1.3" height="2.1" fill="#1414b0"/>
<rect x="214.46" y="471.48" width="1.3" height="2.1" fill="#1414b0"/>
<rect x="215.62" y="471.48" width="1.3" height="2.1" fill="#1414b0"/>
<rect x="217.66" y="471.48" width="1.3" height="2.1" fill="#1414b0"/>
<rect x="219.18" y="471.48" width="1.3" height="2.1" fill="#1414b0"/>
<rect x="221.08" y="471.48" width="1.3" height="2.1" fill="#1414b0"/>
<rect x="222.89" y="471.48" width="1.3" height="2.1" fill="#1414b0"/>
<path d="M61.90,419.40 H92.82 V419.40 H92.82 V429.33 H97.72 V429.33 H97.72 V439.15 H121.34 V439.15 H121.34 V448.86 H201.68 V448.86 H201.68 V468.17 H209.96 V468.17 H209.96 V469.04 H217.25 V469.04 H217.25 V528.50" stroke="#ec4050" fill="none" stroke-width="1.0" stroke-linejoin="miter"/>
<line x1="177.84" y1="446.86" x2="177.84" y2="449.16" stroke="#c8283a" stroke-width="1.0"/>
<line x1="180.02" y1="446.86" x2="180.02" y2="449.16" stroke="#c8283a" stroke-width="1.0"/>
<line x1="182.20" y1="446.86" x2="182.20" y2="449.16" stroke="#c8283a" stroke-width="1.0"/>
<line x1="191.45" y1="446.86" x2="191.45" y2="449.16" stroke="#c8283a" stroke-width="1.0"/>
<line x1="210.18" y1="467.04" x2="210.18" y2="469.34" stroke="#c8283a" stroke-width="1.0"/>
<rect x="67.30" y="501.50" width="6.9" height="6.6" fill="#ee1c1c"/>
<rect x="67.30" y="514.20" width="6.9" height="6.6" fill="#1414ee"/>
<text x="78.70" y="507.70" font-size="9.6" text-anchor="start" font-weight="normal" fill="#1c1c1c" stroke="#1c1c1c" stroke-width="0.3" textLength="21.80" lengthAdjust="spacingAndGlyphs">MLH1</text>
<text x="100.60" y="503.90" font-size="5.6" text-anchor="start" font-weight="normal" fill="#1c1c1c" stroke="#1c1c1c" stroke-width="0.3" textLength="15.80" lengthAdjust="spacingAndGlyphs">absent</text>
<text x="78.70" y="520.40" font-size="9.6" text-anchor="start" font-weight="normal" fill="#1c1c1c" stroke="#1c1c1c" stroke-width="0.3" textLength="21.80" lengthAdjust="spacingAndGlyphs">MLH1</text>
<text x="100.60" y="516.60" font-size="5.6" text-anchor="start" font-weight="normal" fill="#1c1c1c" stroke="#1c1c1c" stroke-width="0.3" textLength="16.80" lengthAdjust="spacingAndGlyphs">present</text>
<g transform="translate(-0.15 0.80)"><text x="143.20" y="446.00" font-size="10.8" text-anchor="start" font-weight="normal" fill="#dc2832" stroke="#dc2832" stroke-width="0.3" textLength="29.90" lengthAdjust="spacingAndGlyphs"><tspan font-style="italic">n</tspan> = 13</text></g>
<g transform="translate(-0.50 0.30)"><text x="173.40" y="484.70" font-size="10.8" text-anchor="start" font-weight="normal" fill="#2323c0" stroke="#2323c0" stroke-width="0.3" textLength="29.80" lengthAdjust="spacingAndGlyphs"><tspan font-style="italic">n</tspan> = 94</text></g>
<g transform="translate(-0.35 0.35)"><text x="96.20" y="479.20" font-size="10.3" text-anchor="start" font-weight="normal" fill="#151515" stroke="#151515" stroke-width="0.3" textLength="65.50" lengthAdjust="spacingAndGlyphs">ns (<tspan font-style="italic">P</tspan> = 0.6581)</text></g>
<g transform="translate(-0.60 -0.85)"><text x="302.50" y="423.50" font-size="17.5" text-anchor="start" font-weight="bold" fill="#000" stroke="#000" stroke-width="0.0">G</text></g>
<line x1="341.90" y1="418.80" x2="341.90" y2="528.70" stroke="#1a1a1a" stroke-width="1.5"/>
<line x1="337.40" y1="419.40" x2="341.90" y2="419.40" stroke="#1a1a1a" stroke-width="1.5"/>
<text x="336.50" y="423.70" font-size="10.2" text-anchor="end" font-weight="normal" fill="#1c1c1c" stroke="#1c1c1c" stroke-width="0.3">100</text>
<line x1="337.40" y1="441.26" x2="341.90" y2="441.26" stroke="#1a1a1a" stroke-width="1.5"/>
<text x="336.50" y="445.56" font-size="10.2" text-anchor="end" font-weight="normal" fill="#1c1c1c" stroke="#1c1c1c" stroke-width="0.3">80</text>
<line x1="337.40" y1="463.12" x2="341.90" y2="463.12" stroke="#1a1a1a" stroke-width="1.5"/>
<text x="336.50" y="467.42" font-size="10.2" text-anchor="end" font-weight="normal" fill="#1c1c1c" stroke="#1c1c1c" stroke-width="0.3">60</text>
<line x1="337.40" y1="484.98" x2="341.90" y2="484.98" stroke="#1a1a1a" stroke-width="1.5"/>
<text x="336.50" y="489.28" font-size="10.2" text-anchor="end" font-weight="normal" fill="#1c1c1c" stroke="#1c1c1c" stroke-width="0.3">40</text>
<line x1="337.40" y1="506.84" x2="341.90" y2="506.84" stroke="#1a1a1a" stroke-width="1.5"/>
<text x="336.50" y="511.14" font-size="10.2" text-anchor="end" font-weight="normal" fill="#1c1c1c" stroke="#1c1c1c" stroke-width="0.3">20</text>
<line x1="337.40" y1="528.70" x2="341.90" y2="528.70" stroke="#1a1a1a" stroke-width="1.5"/>
<text x="336.50" y="533.00" font-size="10.2" text-anchor="end" font-weight="normal" fill="#1c1c1c" stroke="#1c1c1c" stroke-width="0.3">0</text>
<line x1="341.15" y1="528.70" x2="507.30" y2="528.70" stroke="#1a1a1a" stroke-width="1.5"/>
<line x1="342.20" y1="528.70" x2="342.20" y2="533.20" stroke="#1a1a1a" stroke-width="1.5"/>
<text x="342.70" y="544.70" font-size="10.2" text-anchor="middle" font-weight="normal" fill="#1c1c1c" stroke="#1c1c1c" stroke-width="0.3">0</text>
<line x1="397.03" y1="528.70" x2="397.03" y2="533.20" stroke="#1a1a1a" stroke-width="1.5"/>
<text x="397.53" y="544.70" font-size="10.2" text-anchor="middle" font-weight="normal" fill="#1c1c1c" stroke="#1c1c1c" stroke-width="0.3">50</text>
<line x1="451.87" y1="528.70" x2="451.87" y2="533.20" stroke="#1a1a1a" stroke-width="1.5"/>
<text x="452.37" y="544.70" font-size="10.2" text-anchor="middle" font-weight="normal" fill="#1c1c1c" stroke="#1c1c1c" stroke-width="0.3">100</text>
<line x1="506.70" y1="528.70" x2="506.70" y2="533.20" stroke="#1a1a1a" stroke-width="1.5"/>
<text x="507.20" y="544.70" font-size="10.2" text-anchor="middle" font-weight="normal" fill="#1c1c1c" stroke="#1c1c1c" stroke-width="0.3">150</text>
<g transform="translate(4.20 1.65)"><text x="424.45" y="557.20" font-size="10.8" text-anchor="middle" font-weight="normal" fill="#1c1c1c" stroke="#1c1c1c" stroke-width="0.3">Time (months)</text></g>
<g transform="translate(-0.45 -0.55)"><text x="317.70" y="476.45" font-size="10.7" text-anchor="middle" font-weight="normal" fill="#1c1c1c" stroke="#1c1c1c" stroke-width="0.3" transform="rotate(-90 317.70 476.45)">% Survival</text></g>
<path d="M348.23,419.40 H350.10 V419.40 H352.73 V420.49 H355.36 V420.49 H355.98 V421.74 H357.22 V422.99 H358.45 V424.24 H359.69 V425.49 H360.93 V426.74 H362.17 V427.99 H363.40 V429.24 H364.02 V429.24 H364.56 V430.41 H365.63 V431.59 H366.70 V432.76 H367.77 V433.94 H368.84 V435.11 H369.90 V436.29 H370.97 V437.46 H372.04 V438.64 H372.58 V438.64 H373.15 V439.78 H374.30 V440.93 H375.46 V442.08 H376.61 V443.23 H377.76 V444.38 H378.91 V445.52 H379.49 V445.52 H380.36 V446.54 H382.12 V447.56 H383.87 V448.58 H384.75 V448.58 H388.21 V449.89 H391.66 V449.89 H392.66 V451.13 H394.68 V452.37 H396.69 V453.61 H397.69 V453.61 H399.28 V454.67 H402.46 V455.72 H405.64 V456.78 H407.23 V456.78 H409.84 V457.87 H415.05 V458.97 H417.65 V458.97 H418.13 V460.02 H419.08 V461.08 H420.03 V462.14 H420.50 V462.14 H437.83 V462.14 H438.16 V466.18 H450.55 V466.18 H450.77 V468.48 H457.02 V468.48 H457.35 V470.33 H480.82 V470.33 H481.04 V473.94 H497.16 V473.94 H497.38 V482.90 H506.70 V482.90" stroke="#2a2ad8" fill="none" stroke-width="1.4" stroke-linejoin="miter"/>
<rect x="352.52" y="418.89" width="1.3" height="2.1" fill="#1414b0"/>
<rect x="355.53" y="420.14" width="1.3" height="2.1" fill="#1414b0"/>
<rect x="358.80" y="422.64" width="1.3" height="2.1" fill="#1414b0"/>
<rect x="362.19" y="426.39" width="1.3" height="2.1" fill="#1414b0"/>
<rect x="365.90" y="429.99" width="1.3" height="2.1" fill="#1414b0"/>
<rect x="369.17" y="433.51" width="1.3" height="2.1" fill="#1414b0"/>
<rect x="372.84" y="438.18" width="1.3" height="2.1" fill="#1414b0"/>
<rect x="374.55" y="439.33" width="1.3" height="2.1" fill="#1414b0"/>
<rect x="377.21" y="442.78" width="1.3" height="2.1" fill="#1414b0"/>
<rect x="380.93" y="444.94" width="1.3" height="2.1" fill="#1414b0"/>
<rect x="383.99" y="446.98" width="1.3" height="2.1" fill="#1414b0"/>
<rect x="387.62" y="448.29" width="1.3" height="2.1" fill="#1414b0"/>
<rect x="390.79" y="448.29" width="1.3" height="2.1" fill="#1414b0"/>
<rect x="395.33" y="450.77" width="1.3" height="2.1" fill="#1414b0"/>
<rect x="399.02" y="453.07" width="1.3" height="2.1" fill="#1414b0"/>
<rect x="403.85" y="454.12" width="1.3" height="2.1" fill="#1414b0"/>
<rect x="408.80" y="455.18" width="1.3" height="2.1" fill="#1414b0"/>
<rect x="411.59" y="456.27" width="1.3" height="2.1" fill="#1414b0"/>
<rect x="415.16" y="457.37" width="1.3" height="2.1" fill="#1414b0"/>
<rect x="418.98" y="459.48" width="1.3" height="2.1" fill="#1414b0"/>
<rect x="425.23" y="460.54" width="1.3" height="2.1" fill="#1414b0"/>
<rect x="430.91" y="460.54" width="1.3" height="2.1" fill="#1414b0"/>
<rect x="434.27" y="460.54" width="1.3" height="2.1" fill="#1414b0"/>
<rect x="440.07" y="464.58" width="1.3" height="2.1" fill="#1414b0"/>
<rect x="443.34" y="464.58" width="1.3" height="2.1" fill="#1414b0"/>
<rect x="448.46" y="464.58" width="1.3" height="2.1" fill="#1414b0"/>
<rect x="451.68" y="466.88" width="1.3" height="2.1" fill="#1414b0"/>
<rect x="454.43" y="466.88" width="1.3" height="2.1" fill="#1414b0"/>
<rect x="460.52" y="468.73" width="1.3" height="2.1" fill="#1414b0"/>
<rect x="461.94" y="468.73" width="1.3" height="2.1" fill="#1414b0"/>
<rect x="463.37" y="468.73" width="1.3" height="2.1" fill="#1414b0"/>
<rect x="465.97" y="468.73" width="1.3" height="2.1" fill="#1414b0"/>
<rect x="468.41" y="468.73" width="1.3" height="2.1" fill="#1414b0"/>
<rect x="469.95" y="468.73" width="1.3" height="2.1" fill="#1414b0"/>
<rect x="472.52" y="468.73" width="1.3" height="2.1" fill="#1414b0"/>
<rect x="474.44" y="468.73" width="1.3" height="2.1" fill="#1414b0"/>
<rect x="476.58" y="468.73" width="1.3" height="2.1" fill="#1414b0"/>
<rect x="477.99" y="468.73" width="1.3" height="2.1" fill="#1414b0"/>
<rect x="480.53" y="472.34" width="1.3" height="2.1" fill="#1414b0"/>
<rect x="482.69" y="472.34" width="1.3" height="2.1" fill="#1414b0"/>
<rect x="485.27" y="472.34" width="1.3" height="2.1" fill="#1414b0"/>
<rect x="487.74" y="472.34" width="1.3" height="2.1" fill="#1414b0"/>
<rect x="489.30" y="472.34" width="1.3" height="2.1" fill="#1414b0"/>
<rect x="490.95" y="472.34" width="1.3" height="2.1" fill="#1414b0"/>
<rect x="492.30" y="472.34" width="1.3" height="2.1" fill="#1414b0"/>
<rect x="493.62" y="472.34" width="1.3" height="2.1" fill="#1414b0"/>
<rect x="494.82" y="472.34" width="1.3" height="2.1" fill="#1414b0"/>
<rect x="496.38" y="472.34" width="1.3" height="2.1" fill="#1414b0"/>
<rect x="498.40" y="481.30" width="1.3" height="2.1" fill="#1414b0"/>
<rect x="499.50" y="481.30" width="1.3" height="2.1" fill="#1414b0"/>
<rect x="501.64" y="481.30" width="1.3" height="2.1" fill="#1414b0"/>
<rect x="503.25" y="481.30" width="1.3" height="2.1" fill="#1414b0"/>
<rect x="504.83" y="481.30" width="1.3" height="2.1" fill="#1414b0"/>
<path d="M342.20,419.40 H401.20 V419.40 H401.20 V440.82 H502.31 V440.82" stroke="#ec4050" fill="none" stroke-width="1.0" stroke-linejoin="miter"/>
<line x1="403.06" y1="438.82" x2="403.06" y2="441.12" stroke="#c8283a" stroke-width="1.0"/>
<line x1="453.51" y1="438.82" x2="453.51" y2="441.12" stroke="#c8283a" stroke-width="1.0"/>
<line x1="456.25" y1="438.82" x2="456.25" y2="441.12" stroke="#c8283a" stroke-width="1.0"/>
<line x1="502.31" y1="438.82" x2="502.31" y2="441.12" stroke="#c8283a" stroke-width="1.0"/>
<rect x="350.20" y="501.80" width="6.9" height="6.6" fill="#ee1c1c"/>
<rect x="350.20" y="513.90" width="6.9" height="6.6" fill="#1414ee"/>
<text x="361.60" y="508.00" font-size="9.6" text-anchor="start" font-weight="normal" fill="#1c1c1c" stroke="#1c1c1c" stroke-width="0.3" textLength="24.40" lengthAdjust="spacingAndGlyphs">MSH2</text>
<text x="386.10" y="504.20" font-size="5.6" text-anchor="start" font-weight="normal" fill="#1c1c1c" stroke="#1c1c1c" stroke-width="0.3" textLength="15.80" lengthAdjust="spacingAndGlyphs">absent</text>
<text x="361.60" y="520.10" font-size="9.6" text-anchor="start" font-weight="normal" fill="#1c1c1c" stroke="#1c1c1c" stroke-width="0.3" textLength="24.40" lengthAdjust="spacingAndGlyphs">MSH2</text>
<text x="386.10" y="516.30" font-size="5.6" text-anchor="start" font-weight="normal" fill="#1c1c1c" stroke="#1c1c1c" stroke-width="0.3" textLength="16.80" lengthAdjust="spacingAndGlyphs">present</text>
<g transform="translate(0.10 -0.10)"><text x="431.10" y="438.50" font-size="10.8" text-anchor="start" font-weight="normal" fill="#dc2832" stroke="#dc2832" stroke-width="0.3" textLength="24.60" lengthAdjust="spacingAndGlyphs"><tspan font-style="italic">n</tspan> = 6</text></g>
<g transform="translate(-0.35 0.15)"><text x="454.80" y="484.80" font-size="10.8" text-anchor="start" font-weight="normal" fill="#2323c0" stroke="#2323c0" stroke-width="0.3" textLength="35.30" lengthAdjust="spacingAndGlyphs"><tspan font-style="italic">n</tspan> = 101</text></g>
<g transform="translate(-0.65 0.55)"><text x="433.30" y="456.40" font-size="10.3" text-anchor="start" font-weight="normal" fill="#151515" stroke="#151515" stroke-width="0.3" textLength="62.70" lengthAdjust="spacingAndGlyphs">ns (<tspan font-style="italic">P</tspan> = 0.2628)</text></g>
<g transform="translate(-1.20 -0.50)"><text x="10.00" y="587.50" font-size="17.5" text-anchor="start" font-weight="bold" fill="#000" stroke="#000" stroke-width="0.0">H</text></g>
<line x1="61.50" y1="581.90" x2="61.50" y2="691.60" stroke="#1a1a1a" stroke-width="1.5"/>
<line x1="57.00" y1="582.50" x2="61.50" y2="582.50" stroke="#1a1a1a" stroke-width="1.5"/>
<text x="56.10" y="586.80" font-size="10.2" text-anchor="end" font-weight="normal" fill="#1c1c1c" stroke="#1c1c1c" stroke-width="0.3">100</text>
<line x1="57.00" y1="604.32" x2="61.50" y2="604.32" stroke="#1a1a1a" stroke-width="1.5"/>
<text x="56.10" y="608.62" font-size="10.2" text-anchor="end" font-weight="normal" fill="#1c1c1c" stroke="#1c1c1c" stroke-width="0.3">80</text>
<line x1="57.00" y1="626.14" x2="61.50" y2="626.14" stroke="#1a1a1a" stroke-width="1.5"/>
<text x="56.10" y="630.44" font-size="10.2" text-anchor="end" font-weight="normal" fill="#1c1c1c" stroke="#1c1c1c" stroke-width="0.3">60</text>
<line x1="57.00" y1="647.96" x2="61.50" y2="647.96" stroke="#1a1a1a" stroke-width="1.5"/>
<text x="56.10" y="652.26" font-size="10.2" text-anchor="end" font-weight="normal" fill="#1c1c1c" stroke="#1c1c1c" stroke-width="0.3">40</text>
<line x1="57.00" y1="669.78" x2="61.50" y2="669.78" stroke="#1a1a1a" stroke-width="1.5"/>
<text x="56.10" y="674.08" font-size="10.2" text-anchor="end" font-weight="normal" fill="#1c1c1c" stroke="#1c1c1c" stroke-width="0.3">20</text>
<line x1="57.00" y1="691.60" x2="61.50" y2="691.60" stroke="#1a1a1a" stroke-width="1.5"/>
<text x="56.10" y="695.90" font-size="10.2" text-anchor="end" font-weight="normal" fill="#1c1c1c" stroke="#1c1c1c" stroke-width="0.3">0</text>
<line x1="60.75" y1="691.60" x2="225.80" y2="691.60" stroke="#1a1a1a" stroke-width="1.5"/>
<line x1="61.30" y1="691.60" x2="61.30" y2="696.10" stroke="#1a1a1a" stroke-width="1.5"/>
<text x="61.80" y="707.60" font-size="10.2" text-anchor="middle" font-weight="normal" fill="#1c1c1c" stroke="#1c1c1c" stroke-width="0.3">0</text>
<line x1="115.93" y1="691.60" x2="115.93" y2="696.10" stroke="#1a1a1a" stroke-width="1.5"/>
<text x="116.43" y="707.60" font-size="10.2" text-anchor="middle" font-weight="normal" fill="#1c1c1c" stroke="#1c1c1c" stroke-width="0.3">50</text>
<line x1="170.57" y1="691.60" x2="170.57" y2="696.10" stroke="#1a1a1a" stroke-width="1.5"/>
<text x="171.07" y="707.60" font-size="10.2" text-anchor="middle" font-weight="normal" fill="#1c1c1c" stroke="#1c1c1c" stroke-width="0.3">100</text>
<line x1="225.20" y1="691.60" x2="225.20" y2="696.10" stroke="#1a1a1a" stroke-width="1.5"/>
<text x="225.70" y="707.60" font-size="10.2" text-anchor="middle" font-weight="normal" fill="#1c1c1c" stroke="#1c1c1c" stroke-width="0.3">150</text>
<g transform="translate(1.70 0.80)"><text x="143.25" y="720.10" font-size="10.8" text-anchor="middle" font-weight="normal" fill="#1c1c1c" stroke="#1c1c1c" stroke-width="0.3">Time (months)</text></g>
<g transform="translate(-0.55 0.05)"><text x="36.60" y="640.05" font-size="10.7" text-anchor="middle" font-weight="normal" fill="#1c1c1c" stroke="#1c1c1c" stroke-width="0.3" transform="rotate(-90 36.60 640.05)">% Survival</text></g>
<path d="M67.31,582.50 H70.04 V582.50 H72.66 V583.59 H75.29 V583.59 H75.91 V584.71 H77.16 V585.84 H78.41 V586.96 H79.66 V588.08 H80.91 V589.20 H82.15 V590.32 H83.40 V591.45 H84.03 V591.45 H84.64 V592.57 H85.85 V593.69 H87.07 V594.81 H88.29 V595.93 H89.51 V597.06 H90.72 V598.18 H91.94 V599.30 H92.55 V599.30 H93.13 V600.47 H94.30 V601.63 H95.46 V602.79 H96.63 V603.96 H97.80 V605.12 H98.96 V606.28 H99.54 V606.28 H100.19 V607.35 H101.47 V608.41 H102.75 V609.47 H104.04 V610.54 H104.68 V610.54 H108.18 V612.28 H111.67 V612.28 H112.53 V613.38 H114.25 V614.47 H115.97 V615.56 H117.70 V616.65 H118.56 V616.65 H120.71 V617.90 H125.03 V619.16 H127.19 V619.16 H129.78 V620.30 H134.97 V621.45 H137.57 V621.45 H138.09 V622.49 H139.13 V623.52 H139.64 V623.52 H156.91 V623.52 H157.13 V628.32 H170.57 V628.32 H170.79 V630.07 H178.76 V630.07 H178.98 V632.90 H199.85 V632.90 H200.07 V635.09 H215.37 V635.09 H215.58 V643.60 H225.20 V643.60" stroke="#2a2ad8" fill="none" stroke-width="1.4" stroke-linejoin="miter"/>
<rect x="71.58" y="580.90" width="1.3" height="2.1" fill="#1414b0"/>
<rect x="74.95" y="581.99" width="1.3" height="2.1" fill="#1414b0"/>
<rect x="78.38" y="585.36" width="1.3" height="2.1" fill="#1414b0"/>
<rect x="81.08" y="587.60" width="1.3" height="2.1" fill="#1414b0"/>
<rect x="83.29" y="589.85" width="1.3" height="2.1" fill="#1414b0"/>
<rect x="84.93" y="590.97" width="1.3" height="2.1" fill="#1414b0"/>
<rect x="88.02" y="594.33" width="1.3" height="2.1" fill="#1414b0"/>
<rect x="90.69" y="596.58" width="1.3" height="2.1" fill="#1414b0"/>
<rect x="93.99" y="600.03" width="1.3" height="2.1" fill="#1414b0"/>
<rect x="96.44" y="602.36" width="1.3" height="2.1" fill="#1414b0"/>
<rect x="99.76" y="605.75" width="1.3" height="2.1" fill="#1414b0"/>
<rect x="102.00" y="606.81" width="1.3" height="2.1" fill="#1414b0"/>
<rect x="105.39" y="608.94" width="1.3" height="2.1" fill="#1414b0"/>
<rect x="110.91" y="610.68" width="1.3" height="2.1" fill="#1414b0"/>
<rect x="115.23" y="612.87" width="1.3" height="2.1" fill="#1414b0"/>
<rect x="120.02" y="615.05" width="1.3" height="2.1" fill="#1414b0"/>
<rect x="125.36" y="617.56" width="1.3" height="2.1" fill="#1414b0"/>
<rect x="128.83" y="617.56" width="1.3" height="2.1" fill="#1414b0"/>
<rect x="133.68" y="618.70" width="1.3" height="2.1" fill="#1414b0"/>
<rect x="139.49" y="621.92" width="1.3" height="2.1" fill="#1414b0"/>
<rect x="143.24" y="621.92" width="1.3" height="2.1" fill="#1414b0"/>
<rect x="149.04" y="621.92" width="1.3" height="2.1" fill="#1414b0"/>
<rect x="154.39" y="621.92" width="1.3" height="2.1" fill="#1414b0"/>
<rect x="160.35" y="626.72" width="1.3" height="2.1" fill="#1414b0"/>
<rect x="164.37" y="626.72" width="1.3" height="2.1" fill="#1414b0"/>
<rect x="167.46" y="626.72" width="1.3" height="2.1" fill="#1414b0"/>
<rect x="173.25" y="628.47" width="1.3" height="2.1" fill="#1414b0"/>
<rect x="179.06" y="631.30" width="1.3" height="2.1" fill="#1414b0"/>
<rect x="180.83" y="631.30" width="1.3" height="2.1" fill="#1414b0"/>
<rect x="182.07" y="631.30" width="1.3" height="2.1" fill="#1414b0"/>
<rect x="183.46" y="631.30" width="1.3" height="2.1" fill="#1414b0"/>
<rect x="185.53" y="631.30" width="1.3" height="2.1" fill="#1414b0"/>
<rect x="187.06" y="631.30" width="1.3" height="2.1" fill="#1414b0"/>
<rect x="189.61" y="631.30" width="1.3" height="2.1" fill="#1414b0"/>
<rect x="191.61" y="631.30" width="1.3" height="2.1" fill="#1414b0"/>
<rect x="193.01" y="631.30" width="1.3" height="2.1" fill="#1414b0"/>
<rect x="195.10" y="631.30" width="1.3" height="2.1" fill="#1414b0"/>
<rect x="196.74" y="631.30" width="1.3" height="2.1" fill="#1414b0"/>
<rect x="199.26" y="631.30" width="1.3" height="2.1" fill="#1414b0"/>
<rect x="201.75" y="633.49" width="1.3" height="2.1" fill="#1414b0"/>
<rect x="203.63" y="633.49" width="1.3" height="2.1" fill="#1414b0"/>
<rect x="205.71" y="633.49" width="1.3" height="2.1" fill="#1414b0"/>
<rect x="207.87" y="633.49" width="1.3" height="2.1" fill="#1414b0"/>
<rect x="210.19" y="633.49" width="1.3" height="2.1" fill="#1414b0"/>
<rect x="212.78" y="633.49" width="1.3" height="2.1" fill="#1414b0"/>
<rect x="213.91" y="633.49" width="1.3" height="2.1" fill="#1414b0"/>
<rect x="215.56" y="642.00" width="1.3" height="2.1" fill="#1414b0"/>
<rect x="217.57" y="642.00" width="1.3" height="2.1" fill="#1414b0"/>
<rect x="219.13" y="642.00" width="1.3" height="2.1" fill="#1414b0"/>
<rect x="221.12" y="642.00" width="1.3" height="2.1" fill="#1414b0"/>
<rect x="222.35" y="642.00" width="1.3" height="2.1" fill="#1414b0"/>
<path d="M61.30,582.50 H177.12 V582.50" stroke="#ec4050" fill="none" stroke-width="1.0" stroke-linejoin="miter"/>
<line x1="177.12" y1="580.50" x2="177.12" y2="582.80" stroke="#c8283a" stroke-width="1.0"/>
<rect x="67.30" y="663.10" width="6.9" height="6.6" fill="#ee1c1c"/>
<rect x="67.30" y="675.70" width="6.9" height="6.6" fill="#1414ee"/>
<text x="78.70" y="669.30" font-size="9.6" text-anchor="start" font-weight="normal" fill="#1c1c1c" stroke="#1c1c1c" stroke-width="0.3" textLength="24.40" lengthAdjust="spacingAndGlyphs">MSH6</text>
<text x="103.20" y="665.50" font-size="5.6" text-anchor="start" font-weight="normal" fill="#1c1c1c" stroke="#1c1c1c" stroke-width="0.3" textLength="15.80" lengthAdjust="spacingAndGlyphs">absent</text>
<text x="78.70" y="681.90" font-size="9.6" text-anchor="start" font-weight="normal" fill="#1c1c1c" stroke="#1c1c1c" stroke-width="0.3" textLength="24.40" lengthAdjust="spacingAndGlyphs">MSH6</text>
<text x="103.20" y="678.10" font-size="5.6" text-anchor="start" font-weight="normal" fill="#1c1c1c" stroke="#1c1c1c" stroke-width="0.3" textLength="16.80" lengthAdjust="spacingAndGlyphs">present</text>
<g transform="translate(-0.25 0.20)"><text x="123.80" y="594.80" font-size="10.8" text-anchor="start" font-weight="normal" fill="#dc2832" stroke="#dc2832" stroke-width="0.3" textLength="23.50" lengthAdjust="spacingAndGlyphs"><tspan font-style="italic">n</tspan> = 1</text></g>
<g transform="translate(0.10 0.65)"><text x="170.30" y="647.10" font-size="10.8" text-anchor="start" font-weight="normal" fill="#2323c0" stroke="#2323c0" stroke-width="0.3" textLength="36.20" lengthAdjust="spacingAndGlyphs"><tspan font-style="italic">n</tspan> = 106</text></g>
<g transform="translate(-0.35 0.55)"><text x="148.70" y="617.40" font-size="10.3" text-anchor="start" font-weight="normal" fill="#151515" stroke="#151515" stroke-width="0.3" textLength="65.50" lengthAdjust="spacingAndGlyphs">ns (<tspan font-style="italic">P</tspan> = 0.4418)</text></g>
<g transform="translate(-0.55 -0.40)"><text x="311.50" y="587.50" font-size="17.5" text-anchor="start" font-weight="bold" fill="#000" stroke="#000" stroke-width="0.0">I</text></g>
<line x1="342.30" y1="582.20" x2="342.30" y2="692.00" stroke="#1a1a1a" stroke-width="1.5"/>
<line x1="337.80" y1="582.80" x2="342.30" y2="582.80" stroke="#1a1a1a" stroke-width="1.5"/>
<text x="336.90" y="587.10" font-size="10.2" text-anchor="end" font-weight="normal" fill="#1c1c1c" stroke="#1c1c1c" stroke-width="0.3">100</text>
<line x1="337.80" y1="604.64" x2="342.30" y2="604.64" stroke="#1a1a1a" stroke-width="1.5"/>
<text x="336.90" y="608.94" font-size="10.2" text-anchor="end" font-weight="normal" fill="#1c1c1c" stroke="#1c1c1c" stroke-width="0.3">80</text>
<line x1="337.80" y1="626.48" x2="342.30" y2="626.48" stroke="#1a1a1a" stroke-width="1.5"/>
<text x="336.90" y="630.78" font-size="10.2" text-anchor="end" font-weight="normal" fill="#1c1c1c" stroke="#1c1c1c" stroke-width="0.3">60</text>
<line x1="337.80" y1="648.32" x2="342.30" y2="648.32" stroke="#1a1a1a" stroke-width="1.5"/>
<text x="336.90" y="652.62" font-size="10.2" text-anchor="end" font-weight="normal" fill="#1c1c1c" stroke="#1c1c1c" stroke-width="0.3">40</text>
<line x1="337.80" y1="670.16" x2="342.30" y2="670.16" stroke="#1a1a1a" stroke-width="1.5"/>
<text x="336.90" y="674.46" font-size="10.2" text-anchor="end" font-weight="normal" fill="#1c1c1c" stroke="#1c1c1c" stroke-width="0.3">20</text>
<line x1="337.80" y1="692.00" x2="342.30" y2="692.00" stroke="#1a1a1a" stroke-width="1.5"/>
<text x="336.90" y="696.30" font-size="10.2" text-anchor="end" font-weight="normal" fill="#1c1c1c" stroke="#1c1c1c" stroke-width="0.3">0</text>
<line x1="341.55" y1="692.00" x2="507.30" y2="692.00" stroke="#1a1a1a" stroke-width="1.5"/>
<line x1="342.20" y1="692.00" x2="342.20" y2="696.50" stroke="#1a1a1a" stroke-width="1.5"/>
<text x="342.70" y="708.00" font-size="10.2" text-anchor="middle" font-weight="normal" fill="#1c1c1c" stroke="#1c1c1c" stroke-width="0.3">0</text>
<line x1="397.03" y1="692.00" x2="397.03" y2="696.50" stroke="#1a1a1a" stroke-width="1.5"/>
<text x="397.53" y="708.00" font-size="10.2" text-anchor="middle" font-weight="normal" fill="#1c1c1c" stroke="#1c1c1c" stroke-width="0.3">50</text>
<line x1="451.87" y1="692.00" x2="451.87" y2="696.50" stroke="#1a1a1a" stroke-width="1.5"/>
<text x="452.37" y="708.00" font-size="10.2" text-anchor="middle" font-weight="normal" fill="#1c1c1c" stroke="#1c1c1c" stroke-width="0.3">100</text>
<line x1="506.70" y1="692.00" x2="506.70" y2="696.50" stroke="#1a1a1a" stroke-width="1.5"/>
<text x="507.20" y="708.00" font-size="10.2" text-anchor="middle" font-weight="normal" fill="#1c1c1c" stroke="#1c1c1c" stroke-width="0.3">150</text>
<g transform="translate(2.20 -0.20)"><text x="424.45" y="720.50" font-size="10.8" text-anchor="middle" font-weight="normal" fill="#1c1c1c" stroke="#1c1c1c" stroke-width="0.3">Time months)</text></g>
<g transform="translate(-0.05 -0.25)"><text x="317.10" y="639.75" font-size="10.7" text-anchor="middle" font-weight="normal" fill="#1c1c1c" stroke="#1c1c1c" stroke-width="0.3" transform="rotate(-90 317.10 639.75)">% Survival</text></g>
<path d="M348.23,582.80 H351.85 V582.80 H353.61 V583.89 H355.36 V583.89 H355.98 V585.12 H357.22 V586.36 H358.45 V587.59 H359.69 V588.82 H360.93 V590.05 H362.17 V591.29 H363.40 V592.52 H364.02 V592.52 H364.63 V593.75 H365.86 V594.98 H367.08 V596.22 H368.30 V597.45 H369.52 V598.68 H370.74 V599.91 H371.97 V601.15 H372.58 V601.15 H373.27 V602.32 H374.65 V603.50 H376.03 V604.68 H377.41 V605.86 H378.80 V607.04 H379.49 V607.04 H380.51 V608.21 H382.56 V609.37 H384.60 V610.54 H385.63 V610.54 H388.64 V612.28 H391.66 V612.28 H392.52 V613.35 H394.25 V614.41 H395.98 V615.48 H397.71 V616.54 H398.57 V616.54 H400.73 V617.85 H405.07 V619.16 H407.23 V619.16 H409.84 V620.47 H415.05 V621.78 H417.65 V621.78 H417.79 V622.85 H418.06 V623.91 H418.34 V624.98 H418.61 V626.04 H418.75 V626.04 H437.83 V626.04 H438.16 V629.87 H450.55 V629.87 H450.77 V631.83 H457.90 V631.83 H458.12 V634.89 H459.38 V635.43 H460.64 V635.43 H506.70 V635.43" stroke="#2a2ad8" fill="none" stroke-width="1.4" stroke-linejoin="miter"/>
<rect x="352.52" y="581.20" width="1.3" height="2.1" fill="#1414b0"/>
<rect x="354.87" y="582.29" width="1.3" height="2.1" fill="#1414b0"/>
<rect x="356.85" y="584.76" width="1.3" height="2.1" fill="#1414b0"/>
<rect x="359.92" y="587.22" width="1.3" height="2.1" fill="#1414b0"/>
<rect x="361.72" y="589.69" width="1.3" height="2.1" fill="#1414b0"/>
<rect x="364.54" y="592.15" width="1.3" height="2.1" fill="#1414b0"/>
<rect x="366.99" y="594.62" width="1.3" height="2.1" fill="#1414b0"/>
<rect x="368.76" y="595.85" width="1.3" height="2.1" fill="#1414b0"/>
<rect x="371.52" y="599.55" width="1.3" height="2.1" fill="#1414b0"/>
<rect x="373.25" y="600.72" width="1.3" height="2.1" fill="#1414b0"/>
<rect x="375.85" y="603.08" width="1.3" height="2.1" fill="#1414b0"/>
<rect x="377.64" y="604.26" width="1.3" height="2.1" fill="#1414b0"/>
<rect x="379.49" y="605.44" width="1.3" height="2.1" fill="#1414b0"/>
<rect x="382.06" y="607.77" width="1.3" height="2.1" fill="#1414b0"/>
<rect x="385.52" y="608.94" width="1.3" height="2.1" fill="#1414b0"/>
<rect x="388.74" y="610.68" width="1.3" height="2.1" fill="#1414b0"/>
<rect x="392.34" y="611.75" width="1.3" height="2.1" fill="#1414b0"/>
<rect x="397.49" y="614.94" width="1.3" height="2.1" fill="#1414b0"/>
<rect x="403.87" y="616.25" width="1.3" height="2.1" fill="#1414b0"/>
<rect x="408.82" y="617.56" width="1.3" height="2.1" fill="#1414b0"/>
<rect x="413.09" y="618.87" width="1.3" height="2.1" fill="#1414b0"/>
<rect x="419.58" y="624.44" width="1.3" height="2.1" fill="#1414b0"/>
<rect x="422.50" y="624.44" width="1.3" height="2.1" fill="#1414b0"/>
<rect x="428.53" y="624.44" width="1.3" height="2.1" fill="#1414b0"/>
<rect x="432.39" y="624.44" width="1.3" height="2.1" fill="#1414b0"/>
<rect x="435.68" y="624.44" width="1.3" height="2.1" fill="#1414b0"/>
<rect x="438.88" y="628.27" width="1.3" height="2.1" fill="#1414b0"/>
<rect x="442.80" y="628.27" width="1.3" height="2.1" fill="#1414b0"/>
<rect x="448.68" y="628.27" width="1.3" height="2.1" fill="#1414b0"/>
<rect x="452.11" y="630.23" width="1.3" height="2.1" fill="#1414b0"/>
<rect x="457.09" y="630.23" width="1.3" height="2.1" fill="#1414b0"/>
<rect x="462.28" y="633.83" width="1.3" height="2.1" fill="#1414b0"/>
<rect x="463.95" y="633.83" width="1.3" height="2.1" fill="#1414b0"/>
<rect x="465.89" y="633.83" width="1.3" height="2.1" fill="#1414b0"/>
<rect x="467.08" y="633.83" width="1.3" height="2.1" fill="#1414b0"/>
<rect x="468.27" y="633.83" width="1.3" height="2.1" fill="#1414b0"/>
<rect x="469.68" y="633.83" width="1.3" height="2.1" fill="#1414b0"/>
<rect x="471.82" y="633.83" width="1.3" height="2.1" fill="#1414b0"/>
<rect x="473.57" y="633.83" width="1.3" height="2.1" fill="#1414b0"/>
<rect x="475.15" y="633.83" width="1.3" height="2.1" fill="#1414b0"/>
<rect x="477.15" y="633.83" width="1.3" height="2.1" fill="#1414b0"/>
<rect x="478.94" y="633.83" width="1.3" height="2.1" fill="#1414b0"/>
<rect x="480.50" y="633.83" width="1.3" height="2.1" fill="#1414b0"/>
<rect x="482.81" y="633.83" width="1.3" height="2.1" fill="#1414b0"/>
<rect x="484.98" y="633.83" width="1.3" height="2.1" fill="#1414b0"/>
<rect x="486.46" y="633.83" width="1.3" height="2.1" fill="#1414b0"/>
<rect x="488.43" y="633.83" width="1.3" height="2.1" fill="#1414b0"/>
<rect x="490.34" y="633.83" width="1.3" height="2.1" fill="#1414b0"/>
<rect x="492.78" y="633.83" width="1.3" height="2.1" fill="#1414b0"/>
<rect x="494.99" y="633.83" width="1.3" height="2.1" fill="#1414b0"/>
<rect x="496.53" y="633.83" width="1.3" height="2.1" fill="#1414b0"/>
<rect x="499.13" y="633.83" width="1.3" height="2.1" fill="#1414b0"/>
<rect x="500.41" y="633.83" width="1.3" height="2.1" fill="#1414b0"/>
<rect x="502.15" y="633.83" width="1.3" height="2.1" fill="#1414b0"/>
<rect x="504.41" y="633.83" width="1.3" height="2.1" fill="#1414b0"/>
<path d="M342.20,582.80 H373.45 V582.80 H373.45 V594.48 H377.84 V594.48 H377.84 V606.93 H481.15 V606.93 H481.15 V623.97 H497.60 V623.97 H497.60 V656.95 H502.86 V656.95" stroke="#ec4050" fill="none" stroke-width="1.0" stroke-linejoin="miter"/>
<line x1="458.45" y1="604.93" x2="458.45" y2="607.23" stroke="#c8283a" stroke-width="1.0"/>
<line x1="480.93" y1="604.93" x2="480.93" y2="607.23" stroke="#c8283a" stroke-width="1.0"/>
<line x1="490.25" y1="621.97" x2="490.25" y2="624.27" stroke="#c8283a" stroke-width="1.0"/>
<line x1="501.22" y1="654.95" x2="501.22" y2="657.25" stroke="#c8283a" stroke-width="1.0"/>
<rect x="350.40" y="664.30" width="6.9" height="6.6" fill="#ee1c1c"/>
<rect x="350.40" y="676.70" width="6.9" height="6.6" fill="#1414ee"/>
<text x="361.80" y="670.50" font-size="9.6" text-anchor="start" font-weight="normal" fill="#1c1c1c" stroke="#1c1c1c" stroke-width="0.3" textLength="23.90" lengthAdjust="spacingAndGlyphs">PMS2</text>
<text x="385.80" y="666.70" font-size="5.6" text-anchor="start" font-weight="normal" fill="#1c1c1c" stroke="#1c1c1c" stroke-width="0.3" textLength="15.80" lengthAdjust="spacingAndGlyphs">absent</text>
<text x="361.80" y="682.90" font-size="9.6" text-anchor="start" font-weight="normal" fill="#1c1c1c" stroke="#1c1c1c" stroke-width="0.3" textLength="23.90" lengthAdjust="spacingAndGlyphs">PMS2</text>
<text x="385.80" y="679.10" font-size="5.6" text-anchor="start" font-weight="normal" fill="#1c1c1c" stroke="#1c1c1c" stroke-width="0.3" textLength="16.80" lengthAdjust="spacingAndGlyphs">present</text>
<g transform="translate(-0.20 0.25)"><text x="418.70" y="601.90" font-size="10.8" text-anchor="start" font-weight="normal" fill="#dc2832" stroke="#dc2832" stroke-width="0.3" textLength="29.80" lengthAdjust="spacingAndGlyphs"><tspan font-style="italic">n</tspan> = 10</text></g>
<g transform="translate(-0.20 0.70)"><text x="445.70" y="622.90" font-size="10.8" text-anchor="start" font-weight="normal" fill="#2323c0" stroke="#2323c0" stroke-width="0.3" textLength="29.80" lengthAdjust="spacingAndGlyphs"><tspan font-style="italic">n</tspan> = 97</text></g>
<g transform="translate(-0.25 0.15)"><text x="423.80" y="653.00" font-size="10.3" text-anchor="start" font-weight="normal" fill="#151515" stroke="#151515" stroke-width="0.3" textLength="64.50" lengthAdjust="spacingAndGlyphs">ns (<tspan font-style="italic">P</tspan> = 0.5769)</text></g>
</svg>
</body></html>
